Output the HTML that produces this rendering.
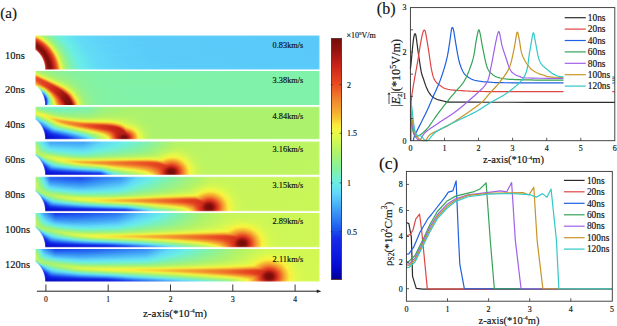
<!DOCTYPE html>
<html><head><meta charset="utf-8"><style>
html,body{margin:0;padding:0;background:#fff;width:617px;height:326px;overflow:hidden;}
#hm div{position:absolute;left:35px;width:285px;height:1px;}
.cb{position:absolute;box-sizing:border-box;border:0.6px solid #5a3a3a;}
svg{position:absolute;left:0;top:0;}
text{font-family:"Liberation Serif",serif;fill:#111;stroke:#111;stroke-width:0.16px;}
</style></head><body>
<div id="hm">
<div style="top:35px;background:linear-gradient(90deg,#fbfcd5 0.5px,#f5faab 1.5px,#d6f9bd 8.5px,#c1f8de 17.5px,#b8f7f4 26.5px,#b3eafc 59.5px,#b3e6fc 283.5px,#daf3fe 284.5px)"></div>
<div style="top:36px;background:linear-gradient(90deg,#faeea6 0.5px,#f3e64b 1.5px,#ecf04a 2.5px,#d8f757 4.5px,#a2f383 10.5px,#81f2b7 17.5px,#6feee8 26.5px,#67daf8 45.5px,#60cef9 94.5px,#5ecbf9 282.5px,#64cdf9 283.5px,#b3e7fc 284.5px)"></div>
<div style="top:37px;background:linear-gradient(90deg,#f9d49e 0.5px,#f4b63b 1.5px,#f4cd38 2.5px,#f1e33d 3.5px,#eaf044 4.5px,#d3f753 6.5px,#a2f27a 11.5px,#80f2ac 17.5px,#6beee3 26.5px,#63dff4 38.5px,#5ed3fa 58.5px,#5accf9 101.5px,#58c9f9 282.5px,#5ecbf9 283.5px,#b1e6fc 284.5px)"></div>
<div style="top:38px;background:linear-gradient(90deg,#f7bb9a 0.5px,#f08133 1.5px,#f2952f 2.5px,#f4d038 4.5px,#f0e63f 5.5px,#e7f346 6.5px,#cef756 8.5px,#9cf281 13.5px,#7df1b3 19.5px,#69eee7 28.5px,#61daf7 45.5px,#5accf9 94.5px,#58c9f9 282.5px,#5ecbf9 283.5px,#b1e6fc 284.5px)"></div>
<div style="top:39px;background:linear-gradient(90deg,#f2a997 0.5px,#e8582c 1.5px,#eb6427 2.5px,#f29a2f 4.5px,#f3d93a 6.5px,#eded42 7.5px,#e1f54a 8.5px,#a7f274 13.5px,#8bf299 17.5px,#78f0c0 22.5px,#69ede7 29.5px,#61daf7 46.5px,#5accf9 95.5px,#58c9f9 282.5px,#5ecbf9 283.5px,#b1e6fc 284.5px)"></div>
<div style="top:40px;background:linear-gradient(90deg,#eb9f95 0.5px,#db4026 1.5px,#e14421 2.5px,#e75324 3.5px,#ec6a28 4.5px,#f3a831 6.5px,#f5ca37 7.5px,#f1e63e 8.5px,#e6f347 9.5px,#cbf658 11.5px,#a0f27d 15.5px,#7df1b2 21.5px,#6aeee4 29.5px,#63ddf5 43.5px,#5ed2fa 64.5px,#5accf9 107.5px,#58c9f9 282.5px,#5ecbf9 283.5px,#b1e6fc 284.5px)"></div>
<div style="top:41px;background:linear-gradient(90deg,#e29892 0.5px,#ca3022 1.5px,#d2301c 2.5px,#e34822 4.5px,#ea5c26 5.5px,#ee772a 6.5px,#f4bd35 8.5px,#f3de3c 9.5px,#eaf144 10.5px,#dcf74d 11.5px,#aaf371 15.5px,#8cf298 19.5px,#78f0c0 24.5px,#6aeee5 30.5px,#62ddf5 44.5px,#5ed2fa 65.5px,#5accf9 108.5px,#58c9f9 282.5px,#5ecbf9 283.5px,#b1e6fc 284.5px)"></div>
<div style="top:42px;background:linear-gradient(90deg,#d79390 0.5px,#b4251d 1.5px,#be2217 2.5px,#df4020 5.5px,#e75224 6.5px,#ed6b28 7.5px,#f4d73a 10.5px,#ecee42 11.5px,#def64c 12.5px,#abf370 16.5px,#8cf298 20.5px,#78f0c1 25.5px,#6aeee5 31.5px,#62dcf5 45.5px,#5ed2fa 66.5px,#5accf9 109.5px,#58c9f9 282.5px,#5ecbf9 283.5px,#b1e6fc 284.5px)"></div>
<div style="top:43px;background:linear-gradient(90deg,#cc908e 0.5px,#9e1e18 1.5px,#a71912 2.5px,#d12f1c 5.5px,#e54b22 7.5px,#eb6327 8.5px,#f0842c 9.5px,#f4d238 11.5px,#eeec41 12.5px,#e0f64b 13.5px,#abf370 17.5px,#91f290 20.5px,#7af1bb 25.5px,#6aeee6 32.5px,#62dbf6 47.5px,#5dd0f9 73.5px,#5acbf9 128.5px,#58c9f9 282.5px,#5ecbf9 283.5px,#b1e6fc 284.5px)"></div>
<div style="top:44px;background:linear-gradient(90deg,#c68e8c 0.5px,#8e1915 1.5px,#92130e 2.5px,#bf2317 5.5px,#d9371e 7.5px,#e34722 8.5px,#ea5e26 9.5px,#ef7e2b 10.5px,#f5cf38 12.5px,#eeec41 13.5px,#e0f64b 14.5px,#aaf371 18.5px,#90f291 21.5px,#79f1bc 26.5px,#69eee7 33.5px,#62daf7 49.5px,#5accf9 99.5px,#58c9f9 282.5px,#5fcbf9 283.5px,#b1e6fc 284.5px)"></div>
<div style="top:45px;background:linear-gradient(90deg,#c38e8c 0.5px,#851713 1.5px,#85100b 2.5px,#9a1510 4.5px,#ca2a1a 7.5px,#e24421 9.5px,#ea5b26 10.5px,#ef7c2b 11.5px,#f5cf38 13.5px,#eeec41 14.5px,#dff64b 15.5px,#a9f272 19.5px,#89f29b 23.5px,#76f0c4 28.5px,#69ede7 34.5px,#62daf7 50.5px,#5accf9 100.5px,#58c9f9 282.5px,#5fcbf9 283.5px,#b1e6fc 284.5px)"></div>
<div style="top:46px;background:linear-gradient(90deg,#c48e8c 0.5px,#841713 1.5px,#800e0a 2.5px,#8a110c 4.5px,#a61912 6.5px,#d6341d 9.5px,#e14321 10.5px,#ea5b25 11.5px,#ef7d2b 12.5px,#f5d238 14.5px,#edee42 15.5px,#def74c 16.5px,#a7f274 20.5px,#88f29d 24.5px,#76f0c6 29.5px,#6aeee5 34.5px,#62dcf5 48.5px,#5ed2fa 69.5px,#5accf9 113.5px,#59c9f9 282.5px,#5fcbf9 283.5px,#b1e6fc 284.5px)"></div>
<div style="top:47px;background:linear-gradient(90deg,#ca908d 0.5px,#8c1915 1.5px,#810f0a 2.5px,#820f0a 4.5px,#94140e 6.5px,#c8281a 9.5px,#e24421 11.5px,#ea5c26 12.5px,#f0802c 13.5px,#f4d739 15.5px,#ebf043 16.5px,#dbf74e 17.5px,#a4f277 21.5px,#86f29f 25.5px,#77f0c1 29.5px,#6aeee6 35.5px,#62dbf6 50.5px,#5cd0f9 77.5px,#5acbf9 140.5px,#59c9f9 282.5px,#5fcbf9 283.5px,#b1e6fc 284.5px)"></div>
<div style="top:48px;background:linear-gradient(90deg,#d79490 0.5px,#a12019 1.5px,#8d120d 2.5px,#820f0a 3.5px,#810e0a 5.5px,#93130e 7.5px,#c9281a 10.5px,#e34621 12.5px,#eb6026 13.5px,#f0862c 14.5px,#f4dd3b 16.5px,#e8f345 17.5px,#c7f65a 19.5px,#98f287 23.5px,#7cf1b5 28.5px,#6beee3 35.5px,#63dff3 46.5px,#5ed3fa 66.5px,#5accf9 111.5px,#59c9f9 282.5px,#5fcbf9 283.5px,#b1e6fc 284.5px)"></div>
<div style="top:49px;background:linear-gradient(90deg,#e7a6a0 0.5px,#bf352b 1.5px,#a41b14 2.5px,#90130d 3.5px,#830f0b 4.5px,#7f0e0a 5.5px,#88100c 7.5px,#a51912 9.5px,#cb2a1a 11.5px,#e44a22 13.5px,#ec6728 14.5px,#f18f2e 15.5px,#f5be34 16.5px,#f2e53d 17.5px,#e4f548 18.5px,#b6f467 21.5px,#96f28a 24.5px,#7bf1b8 29.5px,#6aeee5 36.5px,#62dcf5 50.5px,#5ed2fa 71.5px,#5accf9 115.5px,#59c9f9 282.5px,#5fcbf9 283.5px,#b1e6fc 284.5px)"></div>
<div style="top:50px;background:linear-gradient(90deg,#fcf3f2 0.5px,#e69c95 1.5px,#c3392f 2.5px,#a71c14 3.5px,#91130e 4.5px,#830f0b 5.5px,#7f0e0a 6.5px,#88100c 8.5px,#a81a13 10.5px,#ce2c1b 12.5px,#e74f23 14.5px,#ee7029 15.5px,#f5ca37 17.5px,#efec40 18.5px,#dff74b 19.5px,#b1f36a 22.5px,#93f28d 25.5px,#7df1b3 29.5px,#6aeee6 37.5px,#62dbf6 52.5px,#5cd0f9 80.5px,#5acbf9 154.5px,#59c9f9 282.5px,#5fcbf9 283.5px,#b1e6fc 284.5px)"></div>
<div style="top:51px;background:linear-gradient(90deg,#ffffff 0.5px,#ffffff 1.5px,#e8a099 2.5px,#c53a30 3.5px,#a71c15 4.5px,#90130d 5.5px,#830f0b 6.5px,#7f0e0a 7.5px,#8a110c 9.5px,#ac1b13 11.5px,#d2301c 13.5px,#df3f20 14.5px,#e95725 15.5px,#ef7c2b 16.5px,#f5d83a 18.5px,#eaf244 19.5px,#d9f74f 20.5px,#adf36e 23.5px,#91f291 26.5px,#7cf1b6 30.5px,#6aeee4 37.5px,#63ddf4 50.5px,#5ed3fa 70.5px,#5accf9 115.5px,#59c9f9 282.5px,#5fcbf9 283.5px,#b1e6fc 284.5px)"></div>
<div style="top:52px;background:linear-gradient(90deg,#ffffff 0.5px,#ffffff 2.5px,#e8a099 3.5px,#c3392f 4.5px,#a51b14 5.5px,#8d120d 6.5px,#820f0a 7.5px,#7f0e0a 8.5px,#8d120d 10.5px,#c62719 13.5px,#e34621 15.5px,#eb6227 16.5px,#f18b2d 17.5px,#f5bb34 18.5px,#f2e53d 19.5px,#e4f648 20.5px,#b5f367 23.5px,#95f28b 26.5px,#7af1b9 31.5px,#6aeee6 38.5px,#62dbf6 53.5px,#5dd0f9 79.5px,#5acbf9 132.5px,#59c9f9 282.5px,#5fcbf9 283.5px,#b1e6fc 284.5px)"></div>
<div style="top:53px;background:linear-gradient(90deg,#ffffff 0.5px,#ffffff 3.5px,#e69b94 4.5px,#be3127 5.5px,#9f1812 6.5px,#8a110c 7.5px,#800e0a 8.5px,#7f0e0a 9.5px,#85100b 10.5px,#91130e 11.5px,#ba2016 13.5px,#db3a1f 15.5px,#e74f23 16.5px,#ee7129 17.5px,#f5ce37 19.5px,#eeef41 20.5px,#dcf74d 21.5px,#aff36c 24.5px,#92f28f 27.5px,#7cf1b5 31.5px,#6beee4 38.5px,#63def4 50.5px,#5ed3fa 70.5px,#5accf9 116.5px,#59c9f9 282.5px,#5fcbf9 283.5px,#b1e6fc 284.5px)"></div>
<div style="top:54px;background:linear-gradient(90deg,#ffffff 0.5px,#ffffff 3.5px,#fcf3f2 4.5px,#da7167 5.5px,#b6271e 6.5px,#98150f 7.5px,#86100b 8.5px,#7f0e0a 9.5px,#810e0a 10.5px,#89110c 11.5px,#ac1b13 13.5px,#d3311c 15.5px,#e04120 16.5px,#ea5b26 17.5px,#f0832c 18.5px,#f4e03c 20.5px,#e6f547 21.5px,#b6f466 24.5px,#95f28a 27.5px,#7bf1b9 32.5px,#6aeee6 39.5px,#62dcf5 53.5px,#5ed2fa 75.5px,#5accf9 121.5px,#59caf9 282.5px,#5fcbf9 283.5px,#b1e6fc 284.5px)"></div>
<div style="top:55px;background:linear-gradient(90deg,#ffffff 0.5px,#ffffff 4.5px,#f8e3e1 5.5px,#ce4d42 6.5px,#ac1e16 7.5px,#90130e 8.5px,#820f0a 9.5px,#7f0e0a 10.5px,#830f0b 11.5px,#8e120d 12.5px,#ca291a 15.5px,#e54b23 17.5px,#ed6c29 18.5px,#f5cb37 20.5px,#efee41 21.5px,#ddf74c 22.5px,#b0f36b 25.5px,#92f28f 28.5px,#7cf1b5 32.5px,#69eee7 40.5px,#62daf7 56.5px,#5accf9 109.5px,#59caf9 282.5px,#5fcbf9 283.5px,#b1e6fc 284.5px)"></div>
<div style="top:56px;background:linear-gradient(90deg,#ffffff 0.5px,#ffffff 5.5px,#ecafa9 6.5px,#c13328 7.5px,#9f1811 8.5px,#89110c 9.5px,#7f0e0a 10.5px,#800e0a 11.5px,#87100c 12.5px,#95140f 13.5px,#c02318 15.5px,#e04020 17.5px,#ea5a25 18.5px,#f0812c 19.5px,#f4e03b 21.5px,#e7f546 22.5px,#b6f466 25.5px,#95f28a 28.5px,#7bf1b9 33.5px,#6aeee5 40.5px,#62dcf6 55.5px,#5dd1fa 80.5px,#5acbf9 129.5px,#59caf9 282.5px,#5fcbf9 283.5px,#b1e6fc 284.5px)"></div>
<div style="top:57px;background:linear-gradient(90deg,#ffffff 0.5px,#ffffff 5.5px,#fcf3f2 6.5px,#d86b61 7.5px,#b1231a 8.5px,#93140e 9.5px,#830f0b 10.5px,#7f0e0a 11.5px,#830f0a 12.5px,#8d120d 13.5px,#b51e15 15.5px,#da381e 17.5px,#e64c23 18.5px,#ed6d29 19.5px,#f5cd37 21.5px,#eeef41 22.5px,#dcf74d 23.5px,#aff36c 26.5px,#92f290 29.5px,#7cf1b5 33.5px,#69eee7 41.5px,#62dbf7 57.5px,#5accf9 103.5px,#59caf9 282.5px,#5fccf9 283.5px,#b1e6fc 284.5px)"></div>
<div style="top:58px;background:linear-gradient(90deg,#ffffff 0.5px,#ffffff 6.5px,#f1c4bf 7.5px,#c4392f 8.5px,#a11812 9.5px,#89110c 10.5px,#7f0e0a 11.5px,#800e0a 12.5px,#88100c 13.5px,#96140f 14.5px,#c22418 16.5px,#e14221 18.5px,#eb5d26 19.5px,#f0862c 20.5px,#f3e43d 22.5px,#e4f648 23.5px,#b4f368 26.5px,#94f28c 29.5px,#7af1ba 34.5px,#6aeee6 41.5px,#62dcf6 56.5px,#5dd1fa 80.5px,#5acbf9 128.5px,#59caf9 282.5px,#5fccf9 283.5px,#b1e6fc 284.5px)"></div>
<div style="top:59px;background:linear-gradient(90deg,#ffffff 0.5px,#ffffff 7.5px,#d55c51 8.5px,#b02018 9.5px,#92130e 10.5px,#820f0a 11.5px,#7f0e0a 12.5px,#840f0b 13.5px,#8f120d 14.5px,#b92016 16.5px,#dc3a1f 18.5px,#e75024 19.5px,#ee742a 20.5px,#f5d539 22.5px,#ecf243 23.5px,#d9f74f 24.5px,#adf36e 27.5px,#90f291 30.5px,#7bf1b6 34.5px,#6beee4 41.5px,#63def4 54.5px,#5ed3fa 75.5px,#5accf9 122.5px,#59caf9 282.5px,#5fccf9 283.5px,#b1e6fc 284.5px)"></div>
<div style="top:60px;background:linear-gradient(90deg,#ffffff 0.5px,#ffffff 7.5px,#ecaea8 8.5px,#be2f25 9.5px,#9c1610 10.5px,#86100b 11.5px,#7f0e0a 12.5px,#810e0a 13.5px,#8a110c 14.5px,#b01c14 16.5px,#d7341d 18.5px,#e44722 19.5px,#ec6527 20.5px,#f1912e 21.5px,#f5c435 22.5px,#f1eb3f 23.5px,#e0f74b 24.5px,#b1f36a 27.5px,#93f28e 30.5px,#7df1b3 34.5px,#6aeee6 42.5px,#62dbf6 58.5px,#5ccff9 89.5px,#59caf9 233.5px,#59caf9 282.5px,#5fccf9 283.5px,#b1e6fc 284.5px)"></div>
<div style="top:61px;background:linear-gradient(90deg,#ffffff 0.5px,#ffffff 7.5px,#f9e4e2 8.5px,#cc463b 9.5px,#a71b14 10.5px,#8c110d 11.5px,#800e0a 12.5px,#7f0e0a 13.5px,#86100b 14.5px,#94140e 15.5px,#bf2217 17.5px,#e04020 19.5px,#ea5925 20.5px,#f0812c 21.5px,#f4e13b 23.5px,#e7f546 24.5px,#b6f466 27.5px,#96f28a 30.5px,#7bf1b8 35.5px,#6aeee4 42.5px,#63ddf5 56.5px,#5ed2fa 78.5px,#5accf9 126.5px,#59caf9 282.5px,#5fccf9 283.5px,#b1e6fc 284.5px)"></div>
<div style="top:62px;background:linear-gradient(90deg,#ffffff 0.5px,#ffffff 8.5px,#db7167 9.5px,#b22219 10.5px,#93130e 11.5px,#820f0a 12.5px,#7f0e0a 13.5px,#830f0b 14.5px,#8f120d 15.5px,#b91f16 17.5px,#dc3a1f 19.5px,#e75023 20.5px,#ee742a 21.5px,#f6d538 23.5px,#ecf243 24.5px,#daf84e 25.5px,#adf36d 28.5px,#91f290 31.5px,#7cf1b5 35.5px,#69eee7 43.5px,#62daf7 60.5px,#5accf9 115.5px,#59caf9 282.5px,#5fccf9 283.5px,#b1e6fc 284.5px)"></div>
<div style="top:63px;background:linear-gradient(90deg,#ffffff 0.5px,#ffffff 8.5px,#e8a098 9.5px,#bc2c21 10.5px,#9a1610 11.5px,#85100b 12.5px,#7e0e0a 13.5px,#810f0a 14.5px,#8b110c 15.5px,#b21d15 17.5px,#d8361e 19.5px,#e54822 20.5px,#ed6828 21.5px,#f2942e 22.5px,#f6c736 23.5px,#f1ed40 24.5px,#dff74b 25.5px,#b1f36a 28.5px,#93f28d 31.5px,#7af1ba 36.5px,#6aeee5 43.5px,#62dcf5 58.5px,#5dd2fa 82.5px,#5accf9 131.5px,#59caf9 282.5px,#5fccf9 283.5px,#b1e6fc 284.5px)"></div>
<div style="top:64px;background:linear-gradient(90deg,#ffffff 0.5px,#ffffff 8.5px,#f4d1ce 9.5px,#c5372c 10.5px,#a01811 11.5px,#88100c 12.5px,#7f0e0a 13.5px,#800e0a 14.5px,#88100c 15.5px,#97150f 16.5px,#c32418 18.5px,#e24321 20.5px,#eb5e26 21.5px,#f1882d 22.5px,#f4e63d 24.5px,#e5f648 25.5px,#b5f467 28.5px,#95f28a 31.5px,#7bf1b8 36.5px,#69eee7 44.5px,#62dbf6 60.5px,#5ccff9 92.5px,#59caf9 246.5px,#59caf9 282.5px,#5fccf9 283.5px,#b1e6fc 284.5px)"></div>
<div style="top:65px;background:linear-gradient(90deg,#ffffff 0.5px,#ffffff 8.5px,#f6d8d4 9.5px,#cc4236 10.5px,#a71a13 11.5px,#8c110c 12.5px,#800e0a 13.5px,#7f0e0a 14.5px,#86100b 15.5px,#94130e 16.5px,#bf2217 18.5px,#df3f20 20.5px,#ea5725 21.5px,#ef7e2b 22.5px,#f5de3a 24.5px,#e9f545 25.5px,#c7f65b 27.5px,#a1f27b 30.5px,#7ff2ac 35.5px,#6beee2 43.5px,#66e7ed 49.5px,#5fd5fa 72.5px,#5accf9 125.5px,#59caf9 282.5px,#5fccf9 283.5px,#b1e6fc 284.5px)"></div>
<div style="top:66px;background:linear-gradient(90deg,#ffffff 0.5px,#ffffff 9.5px,#d25246 10.5px,#ac1d15 11.5px,#8f120d 12.5px,#810e0a 13.5px,#7f0e0a 14.5px,#840f0b 15.5px,#91130e 16.5px,#bb2017 18.5px,#dd3b1f 20.5px,#e85124 21.5px,#ef752a 22.5px,#f6d538 24.5px,#edf242 25.5px,#dbf84e 26.5px,#aff36c 29.5px,#92f28f 32.5px,#7af1ba 37.5px,#6aeee5 44.5px,#62ddf5 59.5px,#5ed2fa 82.5px,#5accf9 132.5px,#59caf9 282.5px,#5fccf9 283.5px,#b1e6fc 284.5px)"></div>
<div style="top:67px;background:linear-gradient(90deg,#ffffff 0.5px,#ffffff 9.5px,#d5594d 10.5px,#b01f17 11.5px,#91130e 12.5px,#820f0a 13.5px,#7e0e0a 14.5px,#830f0b 15.5px,#8f120d 16.5px,#b81f16 18.5px,#db391e 20.5px,#e64c23 21.5px,#ee6e29 22.5px,#f6cc37 24.5px,#f0ef40 25.5px,#def84c 26.5px,#b2f36a 29.5px,#94f28c 32.5px,#7bf1b8 37.5px,#69eee7 45.5px,#62dbf6 62.5px,#5bcdf9 104.5px,#59caf9 282.5px,#5fccf9 283.5px,#b1e6fc 284.5px)"></div>
<div style="top:68px;background:linear-gradient(90deg,#ffffff 0.5px,#ffffff 9.5px,#d86054 10.5px,#b5281f 11.5px,#971c17 12.5px,#871813 13.5px,#831612 14.5px,#871813 15.5px,#911a16 16.5px,#cc3022 19.5px,#e64f2a 21.5px,#ee6d30 22.5px,#f29736 23.5px,#f6c73d 24.5px,#f3ec46 25.5px,#e3f850 26.5px,#b7f46d 29.5px,#99f28f 32.5px,#80f1b9 37.5px,#6fefe7 45.5px,#68dcf7 62.5px,#61d0f9 101.5px,#5fccf9 282.5px,#65cef9 283.5px,#b4e7fc 284.5px)"></div>
<div style="top:69px;background:linear-gradient(90deg,#ffffff 0.5px,#ffffff 9.5px,#ecb2ab 10.5px,#db9692 11.5px,#cc908e 12.5px,#c28d8b 14.5px,#c98f8d 16.5px,#eda095 20.5px,#f6b69a 22.5px,#f9f5a4 25.5px,#f2fba9 26.5px,#d2f9c2 31.5px,#c0f8e0 38.5px,#b8f7f4 46.5px,#b3eafd 81.5px,#b4e7fc 283.5px,#daf3fe 284.5px)"></div>
<div style="top:71px;background:linear-gradient(90deg,#dbf9b8 0.5px,#b3f36f 1.5px,#aef36c 2.5px,#98f286 11.5px,#89f29b 29.5px,#81f2a8 70.5px,#81f2a9 282.5px,#85f2ac 283.5px,#c3f9d7 284.5px)"></div>
<div style="top:72px;background:linear-gradient(90deg,#e1fab4 0.5px,#c0f567 1.5px,#b9f464 2.5px,#a2f279 8.5px,#90f291 20.5px,#83f2a4 48.5px,#80f2a9 127.5px,#81f2a9 282.5px,#85f2ac 283.5px,#c3f9d7 284.5px)"></div>
<div style="top:73px;background:linear-gradient(90deg,#ebfbae 0.5px,#d3f75a 1.5px,#caf659 2.5px,#adf36d 7.5px,#97f289 17.5px,#86f29f 38.5px,#81f2a9 81.5px,#81f2a9 282.5px,#85f2ac 283.5px,#c3f9d7 284.5px)"></div>
<div style="top:74px;background:linear-gradient(90deg,#f6f4a6 0.5px,#e9ee4b 1.5px,#e0f34a 2.5px,#bef561 6.5px,#a5f275 12.5px,#92f28f 23.5px,#84f2a3 47.5px,#80f2a9 103.5px,#81f2a9 282.5px,#85f2ac 283.5px,#c3f9d7 284.5px)"></div>
<div style="top:75px;background:linear-gradient(90deg,#f9dc9f 0.5px,#f4c43d 1.5px,#f2d83b 2.5px,#ece941 3.5px,#daf64e 5.5px,#bbf463 9.5px,#a3f277 15.5px,#91f291 27.5px,#83f2a4 51.5px,#80f2a9 120.5px,#81f2a9 282.5px,#85f2ac 283.5px,#c3f9d7 284.5px)"></div>
<div style="top:76px;background:linear-gradient(90deg,#f7bc9a 0.5px,#f08433 1.5px,#f29c2f 2.5px,#f3d33a 4.5px,#eee53f 5.5px,#e7f046 6.5px,#ccf658 9.5px,#aff36c 14.5px,#99f286 23.5px,#87f29e 41.5px,#81f2a9 77.5px,#81f2a9 282.5px,#85f2ac 283.5px,#c3f9d7 284.5px)"></div>
<div style="top:77px;background:linear-gradient(90deg,#f6ad98 0.5px,#ed5b2d 1.5px,#ed6227 2.5px,#ef792a 3.5px,#f3ce38 6.5px,#f0e23e 7.5px,#eaee44 8.5px,#d7f750 10.5px,#b5f367 15.5px,#9df280 23.5px,#8af29a 39.5px,#81f2a8 68.5px,#81f2a9 282.5px,#85f2ac 283.5px,#c3f9d7 284.5px)"></div>
<div style="top:78px;background:linear-gradient(90deg,#f6ab98 0.5px,#eb522b 1.5px,#ea4c23 2.5px,#ea5124 3.5px,#eb5e26 4.5px,#ed7429 5.5px,#f4c837 8.5px,#f2dd3c 9.5px,#ecec42 10.5px,#daf64e 12.5px,#b7f466 17.5px,#9df27f 25.5px,#8af29a 40.5px,#81f2a8 67.5px,#81f2a9 282.5px,#85f2ac 283.5px,#c3f9d7 284.5px)"></div>
<div style="top:79px;background:linear-gradient(90deg,#f6ab98 0.5px,#eb512b 1.5px,#e94923 2.5px,#e74822 4.5px,#e74d23 5.5px,#e95925 6.5px,#ec6f28 7.5px,#f4c336 10.5px,#f3d93b 11.5px,#eee940 12.5px,#ddf64c 14.5px,#b9f464 19.5px,#a0f27b 26.5px,#8cf297 39.5px,#82f2a6 61.5px,#81f2a9 282.5px,#85f2ac 283.5px,#c3f9d7 284.5px)"></div>
<div style="top:80px;background:linear-gradient(90deg,#f6b098 0.5px,#ec572c 1.5px,#e94a23 2.5px,#e44521 6.5px,#e54922 7.5px,#e75524 8.5px,#eb6b28 9.5px,#f4bf35 12.5px,#f4d63a 13.5px,#f0e73f 14.5px,#e0f64b 16.5px,#bbf463 21.5px,#a1f27b 28.5px,#8df296 40.5px,#82f2a5 60.5px,#80f2a9 240.5px,#81f2a9 282.5px,#85f2ac 283.5px,#c3f9d7 284.5px)"></div>
<div style="top:81px;background:linear-gradient(90deg,#f7ba9a 0.5px,#ee692f 1.5px,#eb5525 2.5px,#e64622 4.5px,#e24120 8.5px,#e24621 9.5px,#e55223 10.5px,#ea6727 11.5px,#f4bb34 14.5px,#f1e43e 16.5px,#e2f549 18.5px,#bcf462 23.5px,#a1f27a 30.5px,#8df296 41.5px,#82f2a5 59.5px,#80f2a9 158.5px,#81f2a9 282.5px,#85f2ac 283.5px,#c3f9d7 284.5px)"></div>
<div style="top:82px;background:linear-gradient(90deg,#f8c69c 0.5px,#f08133 1.5px,#ee6c29 2.5px,#e84e23 4.5px,#e34221 6.5px,#df3e20 10.5px,#e04221 11.5px,#e34f23 12.5px,#ee7f2b 14.5px,#f5cf38 17.5px,#f2e13c 18.5px,#e5f548 20.5px,#bef561 25.5px,#a1f27b 32.5px,#8cf297 43.5px,#82f2a5 61.5px,#80f2a9 213.5px,#81f2a9 282.5px,#85f2ac 283.5px,#c3f9d7 284.5px)"></div>
<div style="top:83px;background:linear-gradient(90deg,#f9d29e 0.5px,#f29a36 1.5px,#f0862d 2.5px,#e95224 5.5px,#e24120 7.5px,#dc3b1f 12.5px,#dd3f20 13.5px,#e14b22 14.5px,#ed7c2a 16.5px,#f5cb37 19.5px,#f3df3b 20.5px,#eeed41 21.5px,#ddf74c 23.5px,#b9f464 28.5px,#9df280 35.5px,#8bf298 45.5px,#82f2a6 64.5px,#81f2a9 282.5px,#85f2ac 283.5px,#c3f9d7 284.5px)"></div>
<div style="top:84px;background:linear-gradient(90deg,#fae1a3 0.5px,#f5b73d 1.5px,#f3a331 2.5px,#eb5a25 6.5px,#e24221 8.5px,#d9361e 13.5px,#da3b1f 15.5px,#df4821 16.5px,#ed792a 18.5px,#f5c936 21.5px,#efeb40 23.5px,#dff74b 25.5px,#b8f465 30.5px,#9cf281 37.5px,#8af29a 47.5px,#81f2a7 67.5px,#81f2a9 282.5px,#85f2ac 283.5px,#c3f9d7 284.5px)"></div>
<div style="top:85px;background:linear-gradient(90deg,#fdf7da 0.5px,#f3e062 1.5px,#f1cf40 2.5px,#f2a731 4.5px,#e85324 8.5px,#de3d1f 10.5px,#d4311d 16.5px,#d7371e 17.5px,#dd4521 18.5px,#ec782a 20.5px,#f5c736 23.5px,#f0eb40 25.5px,#def74b 27.5px,#b7f466 32.5px,#9df280 38.5px,#8af29a 48.5px,#81f2a7 67.5px,#81f2a9 282.5px,#85f2ac 283.5px,#c3f9d7 284.5px)"></div>
<div style="top:86px;background:linear-gradient(90deg,#ffffff 0.5px,#f9fcdb 1.5px,#e9f382 2.5px,#e4e851 3.5px,#ebd940 4.5px,#f3ab32 6.5px,#eb6026 9.5px,#e54c23 10.5px,#de3e20 11.5px,#d5311d 14.5px,#d02d1b 18.5px,#d4341d 19.5px,#dc4320 20.5px,#f1942e 23.5px,#f4dd3b 26.5px,#f0ec40 27.5px,#ddf74c 29.5px,#b4f367 34.5px,#9bf283 40.5px,#8af29a 49.5px,#81f2a7 68.5px,#81f2a9 282.5px,#85f2ac 283.5px,#c3f9d7 284.5px)"></div>
<div style="top:87px;background:linear-gradient(90deg,#ffffff 0.5px,#ffffff 1.5px,#fbfef4 2.5px,#d4f797 3.5px,#c9f265 4.5px,#daeb4f 5.5px,#e9dc41 6.5px,#f1c538 7.5px,#ed6e29 10.5px,#e75324 11.5px,#df4020 12.5px,#d4311d 14.5px,#cc271a 19.5px,#cd291a 20.5px,#d2321c 21.5px,#db4320 22.5px,#f2972f 25.5px,#f6cc37 27.5px,#f4e13c 28.5px,#eeef41 29.5px,#d9f74f 31.5px,#b1f36a 36.5px,#96f28a 43.5px,#87f29e 53.5px,#81f2a9 82.5px,#81f2a9 282.5px,#85f2ac 283.5px,#c3f9d7 284.5px)"></div>
<div style="top:88px;background:linear-gradient(90deg,#ffffff 0.5px,#ffffff 2.5px,#f2fdf0 3.5px,#adf5a6 4.5px,#acf37f 5.5px,#c3f262 6.5px,#dbeb4e 7.5px,#ebda3f 8.5px,#f2be36 9.5px,#e95a25 12.5px,#e14421 13.5px,#d8361e 14.5px,#cd291b 17.5px,#c72419 21.5px,#c82719 22.5px,#cf321c 23.5px,#db4621 24.5px,#ee802b 26.5px,#f6d338 29.5px,#f2e73e 30.5px,#eaf344 31.5px,#d4f752 33.5px,#acf26d 38.5px,#93f28e 45.5px,#86f2a0 55.5px,#81f2a9 86.5px,#81f2a9 282.5px,#85f2ac 283.5px,#c3f9d7 284.5px)"></div>
<div style="top:89px;background:linear-gradient(90deg,#ffffff 0.5px,#ffffff 3.5px,#e4fcf0 4.5px,#96f0c2 5.5px,#95f09a 6.5px,#aef376 7.5px,#cbf15b 8.5px,#e2e748 9.5px,#efce3b 10.5px,#f0832c 12.5px,#eb6227 13.5px,#e34922 14.5px,#d9381e 15.5px,#cd291a 17.5px,#c02218 23.5px,#c42719 24.5px,#d0361c 25.5px,#df4e22 26.5px,#f08b2d 28.5px,#f5de3a 31.5px,#efef41 32.5px,#e4f648 33.5px,#bbf462 37.5px,#9ff27e 42.5px,#8df296 49.5px,#82f2a4 63.5px,#80f2a9 139.5px,#81f2a9 282.5px,#85f2ac 283.5px,#c3f9d7 284.5px)"></div>
<div style="top:90px;background:linear-gradient(90deg,#ffffff 0.5px,#ffffff 4.5px,#c8f3f4 5.5px,#7ce4d7 6.5px,#83ebb2 7.5px,#9ef18a 8.5px,#bcf368 9.5px,#d9ed50 10.5px,#edd63e 11.5px,#f2b133 12.5px,#ec6a28 14.5px,#e54e23 15.5px,#db3a1f 16.5px,#cb271a 18.5px,#b91f16 24.5px,#ba2116 25.5px,#c32a19 26.5px,#d43d1e 27.5px,#e45a25 28.5px,#f29b2f 30.5px,#f6d538 32.5px,#f2ea3e 33.5px,#e8f545 34.5px,#bcf462 38.5px,#a2f279 42.5px,#90f292 48.5px,#84f2a2 59.5px,#80f2a9 98.5px,#81f2a9 282.5px,#85f2ac 283.5px,#c3f9d7 284.5px)"></div>
<div style="top:91px;background:linear-gradient(90deg,#ffffff 0.5px,#ffffff 5.5px,#91d8f5 6.5px,#67d3e4 7.5px,#76e5c5 8.5px,#91f09c 9.5px,#b0f374 10.5px,#d3ef54 11.5px,#ebdb40 12.5px,#f3b834 13.5px,#ed6f29 15.5px,#e65224 16.5px,#dc3c1f 17.5px,#d12e1c 18.5px,#c32218 20.5px,#b01d14 26.5px,#b72216 27.5px,#c9311b 28.5px,#de4c22 29.5px,#eb6d28 30.5px,#f6cd36 33.5px,#f4e53d 34.5px,#ebf344 35.5px,#d1f754 37.5px,#acf26d 41.5px,#94f28d 47.5px,#86f29f 56.5px,#81f2a9 84.5px,#81f2a9 282.5px,#85f2ac 283.5px,#c3f9d7 284.5px)"></div>
<div style="top:92px;background:linear-gradient(90deg,#ffffff 0.5px,#ffffff 5.5px,#e5f2fd 6.5px,#60b1f4 7.5px,#58c3eb 8.5px,#6ee0d3 9.5px,#89eea8 10.5px,#acf378 11.5px,#d1f156 12.5px,#ebe041 13.5px,#f3bc35 14.5px,#ee7229 16.5px,#e75424 17.5px,#dd3e1f 18.5px,#c72519 20.5px,#ae1b14 25.5px,#a81a13 27.5px,#ad1d14 28.5px,#bf2918 29.5px,#d7411f 30.5px,#e86226 31.5px,#f3a731 33.5px,#f5e23b 35.5px,#ecf243 36.5px,#d1f754 38.5px,#abf26f 42.5px,#93f28e 48.5px,#85f2a0 58.5px,#81f2a9 89.5px,#81f2a9 282.5px,#85f2ac 283.5px,#c3f9d7 284.5px)"></div>
<div style="top:93px;background:linear-gradient(90deg,#ffffff 0.5px,#ffffff 6.5px,#8db5f8 7.5px,#4497f3 8.5px,#53beef 9.5px,#6cdfd7 10.5px,#8aefa6 11.5px,#aff374 12.5px,#d4f253 13.5px,#ede040 14.5px,#f4bb34 15.5px,#ee7129 17.5px,#e85424 18.5px,#de3e20 19.5px,#c52519 21.5px,#b31d15 23.5px,#a01711 28.5px,#a41912 29.5px,#b62316 30.5px,#d13a1d 31.5px,#e55b25 32.5px,#f3a330 34.5px,#f5e23b 36.5px,#ebf343 37.5px,#cff755 39.5px,#b0f36a 42.5px,#97f288 47.5px,#88f29c 55.5px,#81f2a8 76.5px,#81f2a9 282.5px,#85f2ac 283.5px,#c3f9d7 284.5px)"></div>
<div style="top:94px;background:linear-gradient(90deg,#ffffff 0.5px,#ffffff 6.5px,#e1e9fd 7.5px,#487ef2 8.5px,#3d93f3 9.5px,#55c2ee 10.5px,#71e3cf 11.5px,#91f099 12.5px,#b7f46c 13.5px,#daf14e 14.5px,#f0da3c 15.5px,#f4b333 16.5px,#ed6d29 18.5px,#e85224 19.5px,#d02f1c 21.5px,#b51e15 23.5px,#a31812 26.5px,#991510 29.5px,#9c1710 30.5px,#af2014 31.5px,#cd361c 32.5px,#e45724 33.5px,#ee7e2b 34.5px,#f6c735 36.5px,#f4e53c 37.5px,#e9f545 38.5px,#c0f55f 41.5px,#a7f273 44.5px,#94f28d 49.5px,#86f2a0 58.5px,#81f2a9 86.5px,#81f2a9 282.5px,#85f2ac 283.5px,#c3f9d7 284.5px)"></div>
<div style="top:95px;background:linear-gradient(90deg,#ffffff 0.5px,#ffffff 7.5px,#7e96f4 8.5px,#2e6af0 9.5px,#3f9af3 10.5px,#5ccde9 11.5px,#7aeabf 12.5px,#9cf289 13.5px,#c2f461 14.5px,#e3ee48 15.5px,#f3d139 16.5px,#f1882d 18.5px,#e75024 20.5px,#cf2d1b 22.5px,#af1c14 24.5px,#a01711 26.5px,#93130e 30.5px,#97150f 31.5px,#ab1e13 32.5px,#cc351c 33.5px,#e45824 34.5px,#ef822c 35.5px,#f6ce37 37.5px,#f2eb3e 38.5px,#e5f648 39.5px,#bcf462 42.5px,#a5f275 45.5px,#90f292 51.5px,#84f2a2 61.5px,#80f2a9 97.5px,#81f2a9 282.5px,#85f2ac 283.5px,#c3f9d7 284.5px)"></div>
<div style="top:96px;background:linear-gradient(90deg,#ffffff 0.5px,#ffffff 7.5px,#bcc4f8 8.5px,#2d51eb 9.5px,#2c70f0 10.5px,#49acf2 11.5px,#67dcdd 12.5px,#86efaa 13.5px,#abf377 14.5px,#d0f456 15.5px,#ece842 16.5px,#f5c736 17.5px,#f0832c 19.5px,#e64d23 21.5px,#cc2b1a 23.5px,#a81a13 25.5px,#98150f 27.5px,#8e120d 31.5px,#93140e 32.5px,#ac1f14 33.5px,#d0391d 34.5px,#e86026 35.5px,#f5b332 37.5px,#f6d839 38.5px,#eff041 39.5px,#dff74b 40.5px,#b9f464 43.5px,#9ff27e 47.5px,#8df296 53.5px,#83f2a4 65.5px,#80f2a9 126.5px,#81f2a9 282.5px,#85f2ac 283.5px,#c3f9d7 284.5px)"></div>
<div style="top:97px;background:linear-gradient(90deg,#ffffff 0.5px,#ffffff 7.5px,#f1f2fd 8.5px,#3e51e9 9.5px,#1f4ceb 10.5px,#3789f2 11.5px,#58c7ed 12.5px,#75e9c7 13.5px,#97f28f 14.5px,#bbf466 15.5px,#ddf34d 16.5px,#f2e03d 17.5px,#f5bc34 18.5px,#ec6027 21.5px,#e44722 22.5px,#c72719 24.5px,#a11711 26.5px,#96140f 27.5px,#8a110c 32.5px,#93140e 33.5px,#b42315 34.5px,#d94320 35.5px,#eb6e28 36.5px,#f6c134 38.5px,#f5e33c 39.5px,#eaf545 40.5px,#ccf658 42.5px,#adf36c 45.5px,#95f28b 50.5px,#87f29e 58.5px,#81f2a8 82.5px,#81f2a9 282.5px,#85f2ac 283.5px,#c3f9d7 284.5px)"></div>
<div style="top:98px;background:linear-gradient(90deg,#ffffff 0.5px,#ffffff 8.5px,#757eec 9.5px,#1b36e6 10.5px,#2968ef 11.5px,#4aaff2 12.5px,#69dfdd 13.5px,#87f0a8 14.5px,#a9f377 15.5px,#ccf558 16.5px,#e8ef45 17.5px,#f5d539 18.5px,#f1912e 20.5px,#ea5625 22.5px,#d2301c 24.5px,#ab1b13 26.5px,#991510 27.5px,#8d110d 29.5px,#88100c 33.5px,#9a1710 34.5px,#c22c19 35.5px,#e25123 36.5px,#ef7f2b 37.5px,#f6cf37 39.5px,#f2ec3f 40.5px,#e4f748 41.5px,#bbf462 44.5px,#a4f277 47.5px,#91f290 52.5px,#85f2a1 61.5px,#81f2a9 92.5px,#81f2a9 282.5px,#85f2ac 283.5px,#c3f9d7 284.5px)"></div>
<div style="top:99px;background:linear-gradient(90deg,#ffffff 0.5px,#ffffff 8.5px,#a5a9f1 9.5px,#1e30e2 10.5px,#2153ec 11.5px,#419df3 12.5px,#61d5e8 13.5px,#7cedbb 14.5px,#9cf286 15.5px,#bdf563 16.5px,#dcf54d 17.5px,#f1e73e 18.5px,#f6c535 19.5px,#ed6528 22.5px,#e64b23 23.5px,#cc2a1a 25.5px,#a21811 27.5px,#91130e 28.5px,#87100c 30.5px,#840f0b 33.5px,#8a110c 34.5px,#a81d13 35.5px,#d1391d 36.5px,#e96327 37.5px,#f5b733 39.5px,#f6dc39 40.5px,#edf242 41.5px,#ddf84c 42.5px,#b6f466 45.5px,#9cf281 49.5px,#8cf298 55.5px,#82f2a5 68.5px,#80f2a9 186.5px,#81f2a9 282.5px,#85f2ac 283.5px,#c3f9d7 284.5px)"></div>
<div style="top:100px;background:linear-gradient(90deg,#ffffff 0.5px,#ffffff 8.5px,#cdcff6 9.5px,#2734df 10.5px,#1d47e9 11.5px,#3b92f3 12.5px,#5ccfed 13.5px,#76ebc6 14.5px,#94f291 15.5px,#b3f46b 16.5px,#d2f654 17.5px,#ebf043 18.5px,#f6d438 19.5px,#f1902e 21.5px,#ea5625 23.5px,#d4321d 25.5px,#c42518 26.5px,#96140f 28.5px,#89110c 29.5px,#820f0a 34.5px,#92140e 35.5px,#b92617 36.5px,#de4921 37.5px,#ed752a 38.5px,#f6c936 40.5px,#f3e93e 41.5px,#e5f747 42.5px,#bbf463 45.5px,#a3f278 48.5px,#90f292 53.5px,#84f2a2 62.5px,#81f2a9 95.5px,#81f2a9 282.5px,#85f2ac 283.5px,#c3f9d7 284.5px)"></div>
<div style="top:101px;background:linear-gradient(90deg,#ffffff 0.5px,#ffffff 8.5px,#f1f1fc 9.5px,#3640df 10.5px,#1b42e7 11.5px,#398df2 12.5px,#5acdef 13.5px,#74ebcb 14.5px,#8ff198 15.5px,#acf372 16.5px,#c9f659 17.5px,#e5f448 18.5px,#f5e03b 19.5px,#f29b2f 21.5px,#ec6027 23.5px,#e64922 24.5px,#cc2b1a 26.5px,#8c110d 29.5px,#840f0b 30.5px,#7f0e0a 34.5px,#840f0b 35.5px,#a01a11 36.5px,#cc341c 37.5px,#e75d26 38.5px,#f5b633 40.5px,#f6dc3a 41.5px,#edf343 42.5px,#dcf84d 43.5px,#b5f367 46.5px,#9bf283 50.5px,#8bf299 56.5px,#82f2a6 70.5px,#81f2a9 282.5px,#85f2ac 283.5px,#c3f9d7 284.5px)"></div>
<div style="top:102px;background:linear-gradient(90deg,#ffffff 0.5px,#ffffff 9.5px,#4048dc 10.5px,#1c41e6 11.5px,#3b90f2 12.5px,#5cd0ee 13.5px,#74ebcb 14.5px,#8df19a 15.5px,#a8f376 16.5px,#c4f55e 17.5px,#dff64b 18.5px,#f3e83e 19.5px,#f6c735 20.5px,#f1882d 22.5px,#ea5324 24.5px,#d4311c 26.5px,#c32518 27.5px,#93140e 29.5px,#840f0b 30.5px,#7d0d09 34.5px,#7e0d09 35.5px,#8d120d 36.5px,#b82516 37.5px,#de4921 38.5px,#ee782a 39.5px,#f6cd36 41.5px,#f2ed3f 42.5px,#e2f749 43.5px,#b7f465 46.5px,#a0f27c 49.5px,#8ff294 54.5px,#84f2a3 64.5px,#80f2a9 106.5px,#81f2a9 282.5px,#85f2ac 283.5px,#c3f9d7 284.5px)"></div>
<div style="top:103px;background:linear-gradient(90deg,#ffffff 0.5px,#ffffff 9.5px,#4048d7 10.5px,#1e47e5 11.5px,#429df3 12.5px,#61d8eb 13.5px,#75edc7 14.5px,#8cf29b 15.5px,#a4f379 16.5px,#d8f750 18.5px,#eeef41 19.5px,#f6d438 20.5px,#f2932e 22.5px,#ec6027 24.5px,#dd3b1f 26.5px,#bc2217 28.5px,#8b110c 30.5px,#7f0e0a 31.5px,#7b0d09 35.5px,#810f0a 36.5px,#a41b12 37.5px,#d2391d 38.5px,#ea6627 39.5px,#f6c134 41.5px,#f4e63c 42.5px,#e6f647 43.5px,#b9f464 46.5px,#a1f27b 49.5px,#8ff293 54.5px,#84f2a3 64.5px,#80f2a9 105.5px,#81f2a9 282.5px,#85f2ac 283.5px,#c3f9d7 284.5px)"></div>
<div style="top:104px;background:linear-gradient(90deg,#ffffff 0.5px,#ffffff 9.5px,#414ad6 10.5px,#2453e6 11.5px,#4baff3 12.5px,#66e1e8 13.5px,#76efc5 14.5px,#8af29e 15.5px,#a0f27e 16.5px,#d0f755 18.5px,#e7f446 19.5px,#f5e23b 20.5px,#f3a130 22.5px,#eb5b26 25.5px,#db3a1f 27.5px,#ce2d1b 28.5px,#ba2116 29.5px,#820f0a 31.5px,#7a0c08 33.5px,#7c0d09 36.5px,#97160f 37.5px,#c8301a 38.5px,#e75c25 39.5px,#f5bb33 41.5px,#f5e33b 42.5px,#e8f646 43.5px,#baf463 46.5px,#a1f27a 49.5px,#8ff293 54.5px,#84f2a3 64.5px,#80f2a9 105.5px,#81f2a9 282.5px,#85f2ac 283.5px,#c3f9d7 284.5px)"></div>
<div style="top:106px;background:linear-gradient(90deg,#f7fef1 0.5px,#ecfce5 1.5px,#e5fcef 5.5px,#e2fcf6 26.5px,#eefce2 90.5px,#effde2 283.5px,#f7fef1 284.5px)"></div>
<div style="top:107px;background:linear-gradient(90deg,#dcfac1 0.5px,#aff48b 1.5px,#9ef399 2.5px,#93f3a9 3.5px,#85f2c8 10.5px,#80f1d6 24.5px,#8ef3b0 55.5px,#a3f392 66.5px,#b2f37e 93.5px,#b5f47b 282.5px,#b8f480 283.5px,#dcfac1 284.5px)"></div>
<div style="top:108px;background:linear-gradient(90deg,#dbf9b9 0.5px,#acf378 1.5px,#9bf284 2.5px,#8ff293 3.5px,#7cf1b7 11.5px,#75f0c9 23.5px,#7cf1b7 42.5px,#85f2a1 56.5px,#9af284 66.5px,#aaf26f 93.5px,#adf26d 282.5px,#b0f372 283.5px,#d8f9ba 284.5px)"></div>
<div style="top:109px;background:linear-gradient(90deg,#dffab6 0.5px,#b5f46f 1.5px,#9af284 3.5px,#82f2a8 11.5px,#79f0be 22.5px,#79f1bc 31.5px,#87f29e 56.5px,#9cf282 66.5px,#aaf26e 93.5px,#adf26c 282.5px,#b0f372 283.5px,#d8f9ba 284.5px)"></div>
<div style="top:110px;background:linear-gradient(90deg,#e4fbb2 0.5px,#c1f566 1.5px,#a9f373 3.5px,#8bf299 11.5px,#7df1b3 22.5px,#7df1b4 30.5px,#8af29a 56.5px,#9df280 66.5px,#abf26d 92.5px,#adf26c 282.5px,#b0f372 283.5px,#d8f9ba 284.5px)"></div>
<div style="top:111px;background:linear-gradient(90deg,#ebfbad 0.5px,#d1f75b 1.5px,#c6f65c 2.5px,#abf370 6.5px,#8ef294 14.5px,#81f2aa 24.5px,#86f2a0 47.5px,#8ff293 57.5px,#a0f27c 67.5px,#abf26d 92.5px,#adf26c 282.5px,#b0f372 283.5px,#d8f9ba 284.5px)"></div>
<div style="top:112px;background:linear-gradient(90deg,#f4fba8 0.5px,#e5f74f 1.5px,#ddf74d 2.5px,#aaf372 10.5px,#8ff293 18.5px,#86f2a0 27.5px,#8df296 53.5px,#a2f279 67.5px,#acf26d 92.5px,#abf26d 219.5px,#adf26c 282.5px,#b0f372 283.5px,#d8f9ba 284.5px)"></div>
<div style="top:113px;background:linear-gradient(90deg,#f7fba6 0.5px,#f0f649 1.5px,#eff642 2.5px,#dcf74e 6.5px,#a8f273 14.5px,#92f28f 22.5px,#8cf298 32.5px,#92f290 54.5px,#a5f275 67.5px,#adf26c 92.5px,#aaf26e 165.5px,#adf26c 282.5px,#b0f372 283.5px,#d8f9ba 284.5px)"></div>
<div style="top:114px;background:linear-gradient(90deg,#ecfbad 0.5px,#dff653 1.5px,#e8f647 2.5px,#f3f540 4.5px,#eef543 7.5px,#b0f36c 16.5px,#9bf283 23.5px,#92f28f 35.5px,#96f289 54.5px,#a8f271 67.5px,#aef26c 93.5px,#aaf26f 150.5px,#adf26c 282.5px,#b0f372 283.5px,#d8f9ba 284.5px)"></div>
<div style="top:115px;background:linear-gradient(90deg,#d9fabc 0.5px,#bbf56e 1.5px,#c6f55d 2.5px,#ebf545 5.5px,#f6f33f 7.5px,#f2f241 10.5px,#c0f560 17.5px,#a8f273 23.5px,#9af283 35.5px,#9bf282 53.5px,#adf26d 67.5px,#aff36a 92.5px,#a9f26f 129.5px,#adf26c 282.5px,#b0f372 283.5px,#d8f9ba 284.5px)"></div>
<div style="top:116px;background:linear-gradient(90deg,#c9f9d1 0.5px,#98f295 1.5px,#aff470 3.5px,#d9f650 6.5px,#f4f13f 9.5px,#f7ed3d 12.5px,#c8f65a 20.5px,#aff36c 27.5px,#a1f27a 41.5px,#a3f278 55.5px,#b3f368 68.5px,#b2f369 91.5px,#a9f26f 118.5px,#adf26c 282.5px,#b0f372 283.5px,#d8f9ba 284.5px)"></div>
<div style="top:117px;background:linear-gradient(90deg,#bdf6e8 0.5px,#7eefc4 1.5px,#83f0ac 2.5px,#aaf375 5.5px,#d2f654 8.5px,#f1f140 11.5px,#f9e73b 14.5px,#f1e83f 17.5px,#d8f650 22.5px,#bef561 29.5px,#acf36e 41.5px,#adf36d 56.5px,#baf463 69.5px,#b5f367 90.5px,#aaf26e 112.5px,#adf26c 282.5px,#b0f372 283.5px,#d8f9ba 284.5px)"></div>
<div style="top:118px;background:linear-gradient(90deg,#b7eff7 0.5px,#6ee3e8 1.5px,#6ee9d9 2.5px,#99f288 6.5px,#c0f561 9.5px,#e6f548 12.5px,#f5ea3d 14.5px,#f7d437 17.5px,#f5d538 19.5px,#e4f248 25.5px,#c5f55c 35.5px,#b6f466 48.5px,#bef561 61.5px,#c3f55d 75.5px,#abf26e 108.5px,#adf26c 282.5px,#b0f372 283.5px,#d8f9ba 284.5px)"></div>
<div style="top:119px;background:linear-gradient(90deg,#caeefc 0.5px,#75d6f7 1.5px,#63d8f2 2.5px,#6ee9da 4.5px,#97f28b 8.5px,#bdf563 11.5px,#e5f448 14.5px,#f5e33b 16.5px,#f6c334 19.5px,#f5bf33 21.5px,#f4d239 25.5px,#e8ef45 31.5px,#d3f753 39.5px,#c6f65c 50.5px,#cff755 72.5px,#bef561 88.5px,#abf26d 107.5px,#adf26c 282.5px,#b0f372 283.5px,#d8f9ba 284.5px)"></div>
<div style="top:120px;background:linear-gradient(90deg,#ffffff 0.5px,#daf2fd 1.5px,#73ccf8 2.5px,#5ccbf6 3.5px,#66e2e9 5.5px,#76eec8 7.5px,#95f28d 10.5px,#bcf564 13.5px,#e6f347 16.5px,#f5de3a 18.5px,#f5b832 21.5px,#f4ac31 24.5px,#f4b132 27.5px,#f0e53f 36.5px,#e2f449 43.5px,#daf74f 53.5px,#def84c 72.5px,#caf658 85.5px,#b7f466 96.5px,#aaf26e 112.5px,#adf26c 282.5px,#b0f372 283.5px,#d8f9ba 284.5px)"></div>
<div style="top:121px;background:linear-gradient(90deg,#ffffff 0.5px,#ffffff 1.5px,#d9effd 2.5px,#6cc1f8 3.5px,#55bef7 4.5px,#60d8f1 6.5px,#6eeada 8.5px,#95f28c 12.5px,#bff561 15.5px,#e8f246 18.5px,#f5dd3a 20.5px,#f5b432 23.5px,#f39f30 26.5px,#f2992f 29.5px,#f3aa31 34.5px,#f3da3b 43.5px,#efe93f 49.5px,#edf342 74.5px,#dbf84e 83.5px,#bef561 93.5px,#abf26d 111.5px,#adf26c 282.5px,#b0f372 283.5px,#d8f9ba 284.5px)"></div>
<div style="top:122px;background:linear-gradient(90deg,#ffffff 0.5px,#ffffff 2.5px,#d7ecfd 3.5px,#63b4f7 4.5px,#4cb1f6 5.5px,#62dbf1 8.5px,#6febd8 10.5px,#8cf29b 13.5px,#b4f46a 16.5px,#ddf64d 19.5px,#f1eb3f 21.5px,#f6c234 24.5px,#f3a130 27.5px,#f18f2e 31.5px,#f18c2e 36.5px,#f3a030 42.5px,#f4b934 48.5px,#f6c836 64.5px,#f6d739 74.5px,#f0f141 81.5px,#d8f84f 87.5px,#c4f55d 93.5px,#acf26d 110.5px,#adf26c 282.5px,#b0f372 283.5px,#d8f9ba 284.5px)"></div>
<div style="top:123px;background:linear-gradient(90deg,#ffffff 0.5px,#ffffff 3.5px,#b8d8fb 4.5px,#51a2f6 5.5px,#44a4f5 6.5px,#5cd1f5 9.5px,#69e6e5 11.5px,#79f0bf 13.5px,#9cf283 16.5px,#c4f55d 19.5px,#e7f446 22.5px,#f3e43d 24.5px,#f4a831 29.5px,#f18d2e 33.5px,#ef7a2b 40.5px,#f0812c 48.5px,#f29d2f 70.5px,#f5b232 76.5px,#f3ec3e 84.5px,#e5f847 87.5px,#cff755 91.5px,#adf26c 109.5px,#acf26c 261.5px,#adf26c 282.5px,#b0f372 283.5px,#d8f9ba 284.5px)"></div>
<div style="top:124px;background:linear-gradient(90deg,#ffffff 0.5px,#ffffff 4.5px,#4493f4 6.5px,#3d98f5 7.5px,#5ed5f4 11.5px,#6be9e0 13.5px,#93f28f 17.5px,#b8f466 20.5px,#e1f54a 24.5px,#f3e33d 27.5px,#f29c30 34.5px,#ef7c2c 39.5px,#ed6227 48.5px,#ea5625 55.5px,#e75c25 66.5px,#eb6d28 73.5px,#f08d2d 78.5px,#f6bf34 83.5px,#f2ee3f 87.5px,#def84c 90.5px,#d2f753 94.5px,#b0f36a 108.5px,#aaf26e 125.5px,#adf26c 282.5px,#b0f372 283.5px,#d8f9ba 284.5px)"></div>
<div style="top:125px;background:linear-gradient(90deg,#ffffff 0.5px,#ffffff 4.5px,#f3f7fe 5.5px,#6ea2f6 6.5px,#3582f3 7.5px,#378df4 8.5px,#5acdf6 12.5px,#67e5e8 14.5px,#77efc4 16.5px,#96f28b 19.5px,#b4f46a 22.5px,#def54c 27.5px,#efe940 30.5px,#f5c435 34.5px,#f18a2d 40.5px,#ee6728 46.5px,#e94a23 54.5px,#da391e 66.5px,#da3c1f 73.5px,#e14d22 77.5px,#ea6928 80.5px,#f3a030 84.5px,#f6e43b 88.5px,#eaf644 90.5px,#def84c 93.5px,#b4f367 107.5px,#abf26d 117.5px,#adf26c 282.5px,#b0f372 283.5px,#d8f9ba 284.5px)"></div>
<div style="top:126px;background:linear-gradient(90deg,#ffffff 0.5px,#ffffff 5.5px,#c3d5fb 6.5px,#3d79f2 7.5px,#2c75f2 8.5px,#5dd3f5 14.5px,#6ae8e3 16.5px,#82f1ab 19.5px,#9bf284 22.5px,#c0f560 27.5px,#e3f349 32.5px,#f1e33d 35.5px,#f3a731 41.5px,#ee6728 49.5px,#e94c23 54.5px,#d7341d 65.5px,#ce2a1b 76.5px,#d2321c 79.5px,#e04d22 82.5px,#ef822c 85.5px,#f7d938 89.5px,#f5ea3d 90.5px,#f1f341 91.5px,#d4f852 99.5px,#b6f466 107.5px,#abf26d 116.5px,#adf26c 282.5px,#b0f372 283.5px,#d8f9ba 284.5px)"></div>
<div style="top:127px;background:linear-gradient(90deg,#ffffff 0.5px,#ffffff 6.5px,#6e91f4 7.5px,#285ff0 8.5px,#2668f1 9.5px,#59cbf6 15.5px,#66e3eb 17.5px,#78efc2 20.5px,#8ff295 24.5px,#aff36f 29.5px,#e1f34a 36.5px,#f0e53f 39.5px,#f5b733 44.5px,#ec6127 54.5px,#e14120 60.5px,#cd291b 73.5px,#c72419 80.5px,#cf311c 83.5px,#e14f23 85.5px,#f29c2f 88.5px,#f7d037 90.5px,#f8e13a 91.5px,#f1f441 95.5px,#d3f852 101.5px,#b6f466 108.5px,#abf26d 117.5px,#adf26c 282.5px,#b0f372 283.5px,#d8f9ba 284.5px)"></div>
<div style="top:128px;background:linear-gradient(90deg,#ffffff 0.5px,#ffffff 6.5px,#d0d7fb 7.5px,#3354ed 8.5px,#1c4aed 9.5px,#378ef4 13.5px,#5bcff6 17.5px,#69e7e4 20.5px,#88f1a3 27.5px,#baf466 35.5px,#e4f248 41.5px,#f3db3b 45.5px,#ef772a 56.5px,#e54b22 62.5px,#d3301c 70.5px,#c42218 80.5px,#c32518 84.5px,#c92b1a 85.5px,#d53a1e 86.5px,#e25223 87.5px,#f1912e 89.5px,#f4ae31 90.5px,#f6c134 91.5px,#f7ec3d 96.5px,#e7f846 99.5px,#b9f464 108.5px,#acf26d 116.5px,#adf26c 282.5px,#b0f372 283.5px,#d8f9ba 284.5px)"></div>
<div style="top:129px;background:linear-gradient(90deg,#ffffff 0.5px,#ffffff 7.5px,#6273ef 8.5px,#1a35e8 9.5px,#173bea 10.5px,#3283f3 14.5px,#4cb4f7 17.5px,#5dd2f5 20.5px,#68e5e5 24.5px,#7ff0b4 30.5px,#a8f376 37.5px,#daf54f 44.5px,#efe840 48.5px,#f5bc34 53.5px,#ec6628 63.5px,#dd3c1f 70.5px,#c92419 77.5px,#bd2017 85.5px,#c12418 86.5px,#cc2f1b 87.5px,#dc4621 88.5px,#e96727 89.5px,#f08a2d 90.5px,#f3a030 91.5px,#f7c835 95.5px,#f7ed3d 98.5px,#e2f949 101.5px,#bbf462 108.5px,#acf26d 116.5px,#adf26c 282.5px,#b0f372 283.5px,#d8f9ba 284.5px)"></div>
<div style="top:130px;background:linear-gradient(90deg,#ffffff 0.5px,#ffffff 7.5px,#babff7 8.5px,#2436e5 9.5px,#1229e5 10.5px,#1840eb 12.5px,#3589f3 16.5px,#48acf6 19.5px,#5ed4f4 25.5px,#69e5e4 29.5px,#7cf0b9 34.5px,#a5f379 41.5px,#dcf54d 49.5px,#f1e53e 53.5px,#f4ae32 59.5px,#e74e23 71.5px,#ce2a1b 77.5px,#be2017 83.5px,#bc2117 87.5px,#c62a19 88.5px,#d8401f 89.5px,#e86327 90.5px,#ef7f2c 91.5px,#f5b833 96.5px,#f8e93b 99.5px,#ecf744 101.5px,#caf659 106.5px,#b7f465 110.5px,#acf26d 118.5px,#adf26c 282.5px,#b0f372 283.5px,#d8f9ba 284.5px)"></div>
<div style="top:131px;background:linear-gradient(90deg,#ffffff 0.5px,#ffffff 7.5px,#f1f2fd 8.5px,#3b47e5 9.5px,#1121e1 10.5px,#132ce6 12.5px,#1c4bed 14.5px,#2d79f2 17.5px,#3e9af5 21.5px,#5ed5f3 30.5px,#6be8e1 34.5px,#8af29e 41.5px,#aff36f 47.5px,#e2f44a 54.5px,#f1e83f 57.5px,#f5bc33 62.5px,#ec6127 72.5px,#dd3b1f 76.5px,#c82419 80.5px,#b91e16 86.5px,#b91f16 88.5px,#c32819 89.5px,#e85b25 91.5px,#f0832c 94.5px,#f4af31 97.5px,#f9e83b 100.5px,#ebf744 102.5px,#cff756 106.5px,#b9f464 110.5px,#acf26d 118.5px,#adf26c 282.5px,#b0f372 283.5px,#d8f9ba 284.5px)"></div>
<div style="top:132px;background:linear-gradient(90deg,#ffffff 0.5px,#ffffff 8.5px,#747aeb 9.5px,#121ede 10.5px,#0d1de0 11.5px,#1534e8 14.5px,#215bef 17.5px,#5acdf6 33.5px,#67e3e9 37.5px,#75eec9 41.5px,#a0f27e 49.5px,#ccf657 55.5px,#e7f346 59.5px,#f4e33c 62.5px,#f39e30 69.5px,#ed6528 74.5px,#e03f20 77.5px,#c62319 81.5px,#ba1f16 84.5px,#b71f16 89.5px,#c32819 90.5px,#d83c1f 91.5px,#e54d23 92.5px,#ef782b 95.5px,#f6c134 99.5px,#f8ea3b 101.5px,#e9f845 103.5px,#bff560 109.5px,#aef26c 116.5px,#adf26c 282.5px,#b0f372 283.5px,#d8f9ba 284.5px)"></div>
<div style="top:133px;background:linear-gradient(90deg,#ffffff 0.5px,#ffffff 8.5px,#a5a7ef 9.5px,#1820d9 10.5px,#0b16db 11.5px,#1535e9 16.5px,#368af3 28.5px,#5dd3f5 38.5px,#6ae7e4 42.5px,#82f1ac 48.5px,#a3f37b 53.5px,#cdf657 59.5px,#e8f345 63.5px,#f5e23b 66.5px,#f07e2c 74.5px,#e74b23 77.5px,#c82519 81.5px,#b71e16 84.5px,#b11c14 89.5px,#b41e15 90.5px,#d5351d 92.5px,#e74e23 94.5px,#f4af31 99.5px,#f9dd39 101.5px,#f7ee3d 102.5px,#e5f947 104.5px,#bdf462 110.5px,#adf26c 117.5px,#adf26c 282.5px,#b0f372 283.5px,#d8f9ba 284.5px)"></div>
<div style="top:134px;background:linear-gradient(90deg,#ffffff 0.5px,#ffffff 8.5px,#cbccf4 9.5px,#1f24d1 10.5px,#0910d4 11.5px,#0e1fe1 14.5px,#173bea 21.5px,#3589f3 32.5px,#5ed4f5 42.5px,#6ae7e4 46.5px,#75efc9 49.5px,#99f287 55.5px,#b5f468 59.5px,#e6f547 66.5px,#f3ea3e 68.5px,#f7d337 70.5px,#f0822c 75.5px,#e54822 78.5px,#ca271a 81.5px,#b11c14 84.5px,#a81913 87.5px,#a21811 89.5px,#a51912 90.5px,#af1c14 91.5px,#dc3b1f 94.5px,#ec5f27 96.5px,#f9e73b 102.5px,#f4f33f 103.5px,#dff94b 105.5px,#baf463 111.5px,#adf26c 118.5px,#adf26c 282.5px,#b0f371 283.5px,#d8f9ba 284.5px)"></div>
<div style="top:135px;background:linear-gradient(90deg,#ffffff 0.5px,#ffffff 8.5px,#e1e1f7 9.5px,#2a2dca 10.5px,#080ccc 11.5px,#0c18de 14.5px,#1430e8 23.5px,#215cef 30.5px,#5cd0f6 45.5px,#68e6e8 49.5px,#79f0bf 53.5px,#9bf283 58.5px,#b7f466 62.5px,#e3f749 68.5px,#f2ed3f 70.5px,#f7cf36 72.5px,#f07f2c 76.5px,#e95124 78.5px,#d6331d 80.5px,#c02117 82.5px,#92130e 87.5px,#8a110c 89.5px,#98150f 91.5px,#bd2217 93.5px,#de3e20 95.5px,#ed6828 97.5px,#f9df39 102.5px,#f7f03e 103.5px,#e2f949 105.5px,#bbf463 111.5px,#adf26c 118.5px,#adf26c 282.5px,#b0f371 283.5px,#d8f9ba 284.5px)"></div>
<div style="top:136px;background:linear-gradient(90deg,#ffffff 0.5px,#ffffff 9.5px,#383ac8 10.5px,#070bc4 11.5px,#0a13da 14.5px,#1430e8 27.5px,#1a48ed 31.5px,#45a8f6 43.5px,#5ed5f5 49.5px,#69e7e7 52.5px,#76efc7 55.5px,#8df297 58.5px,#acf36f 62.5px,#dcf84d 69.5px,#eff341 71.5px,#f6e83c 72.5px,#f6bf34 74.5px,#ec5b26 78.5px,#d9361e 80.5px,#c02117 82.5px,#810e0a 87.5px,#7b0d09 89.5px,#7e0e09 90.5px,#87100b 91.5px,#97140f 92.5px,#c52619 94.5px,#e54822 96.5px,#f1912e 99.5px,#f9da38 102.5px,#f8ed3c 103.5px,#e4f948 105.5px,#bcf462 111.5px,#adf26c 118.5px,#adf26c 282.5px,#b0f371 283.5px,#d8f9ba 284.5px)"></div>
<div style="top:137px;background:linear-gradient(90deg,#ffffff 0.5px,#ffffff 9.5px,#3b3dc3 10.5px,#070abe 11.5px,#070dcf 13.5px,#0c18dd 19.5px,#142ee7 30.5px,#1b48ed 34.5px,#45a8f6 46.5px,#61daf5 52.5px,#6bebe2 55.5px,#8af29c 59.5px,#acf26f 63.5px,#e6f847 71.5px,#f1f441 72.5px,#f8e93c 73.5px,#f8d337 74.5px,#e74c23 79.5px,#ce2c1b 81.5px,#a01811 84.5px,#7b0d09 87.5px,#7a0d09 90.5px,#800f0a 91.5px,#8f130e 92.5px,#c02318 94.5px,#e34522 96.5px,#ef752b 98.5px,#f9d738 102.5px,#f9ec3c 103.5px,#f1f541 104.5px,#d6f851 107.5px,#bcf462 111.5px,#aef36c 118.5px,#adf26c 282.5px,#b0f372 283.5px,#d8f9ba 284.5px)"></div>
<div style="top:138px;background:linear-gradient(90deg,#ffffff 0.5px,#ffffff 9.5px,#4f50c7 10.5px,#1f21c0 11.5px,#2024d3 14.5px,#2531e2 23.5px,#2c44ea 33.5px,#3e7ff3 41.5px,#61c1f8 50.5px,#72e0f6 54.5px,#79ede6 56.5px,#97f3a3 60.5px,#b7f47a 64.5px,#f0f755 72.5px,#f8f151 73.5px,#fae24d 74.5px,#eb623a 79.5px,#d44232 81.5px,#a62e28 84.5px,#892522 87.5px,#872521 90.5px,#8e2723 91.5px,#af302a 93.5px,#d94734 95.5px,#ed6c3c 97.5px,#f9db4c 102.5px,#f9ee50 103.5px,#e8f95a 105.5px,#c3f672 111.5px,#b6f47b 119.5px,#b5f47b 282.5px,#b8f480 283.5px,#dcfac1 284.5px)"></div>
<div style="top:139px;background:linear-gradient(90deg,#ffffff 0.5px,#ffffff 9.5px,#d7d7f2 10.5px,#cccdf1 11.5px,#cfd3fa 32.5px,#dff9fc 55.5px,#eefce1 64.5px,#fdfcd8 73.5px,#f8d7d1 80.5px,#e5cecd 87.5px,#e6cecd 91.5px,#fad9d2 96.5px,#fcfdd8 104.5px,#effde0 115.5px,#effde2 283.5px,#f7fef1 284.5px)"></div>
<div style="top:141px;background:linear-gradient(90deg,#e6fce8 0.5px,#c9f9d3 1.5px,#b9f6f3 5.5px,#b1e6fc 10.5px,#a5d3fa 15.5px,#a6d3fa 49.5px,#b5edfc 69.5px,#bbf7ee 95.5px,#d2f9c2 129.5px,#ddfab7 144.5px,#e1fab7 283.5px,#f0fddc 284.5px)"></div>
<div style="top:142px;background:linear-gradient(90deg,#cdf9cd 0.5px,#93f3a1 1.5px,#87f2ab 2.5px,#71eee1 5.5px,#6be4f1 7.5px,#61d0f9 10.5px,#4aa9f6 15.5px,#49a6f6 48.5px,#66d8f9 66.5px,#70efe5 90.5px,#81f2b8 108.5px,#97f292 122.5px,#b5f36e 138.5px,#b9f46b 154.5px,#c0f567 282.5px,#c2f56d 283.5px,#e1fab7 284.5px)"></div>
<div style="top:143px;background:linear-gradient(90deg,#cef9c7 0.5px,#95f294 1.5px,#89f29d 2.5px,#70efd6 5.5px,#67e8ec 7.5px,#5fd4f8 10.5px,#48aef6 15.5px,#45a9f6 48.5px,#61daf7 66.5px,#6beee3 88.5px,#7df1b2 108.5px,#acf26c 135.5px,#b7f466 142.5px,#bdf561 282.5px,#c0f567 283.5px,#e0fab5 284.5px)"></div>
<div style="top:144px;background:linear-gradient(90deg,#d2f9c2 0.5px,#9df289 1.5px,#90f292 2.5px,#6eeeda 6.5px,#66e6ed 8.5px,#5accf9 12.5px,#4eb7f7 15.5px,#49b0f6 48.5px,#62daf7 64.5px,#6beee2 86.5px,#7ff1ae 108.5px,#b0f36a 136.5px,#b7f465 142.5px,#bdf561 282.5px,#c0f567 283.5px,#e0fab5 284.5px)"></div>
<div style="top:145px;background:linear-gradient(90deg,#d7f9bc 0.5px,#a7f37d 1.5px,#99f286 2.5px,#79f1bd 5.5px,#6deedd 7.5px,#66e6ee 9.5px,#5bcef9 13.5px,#54c1f8 15.5px,#4db6f7 47.5px,#62daf7 62.5px,#6beee2 83.5px,#81f2a9 108.5px,#b0f36a 135.5px,#b9f464 142.5px,#bdf561 282.5px,#c0f567 283.5px,#e0fab5 284.5px)"></div>
<div style="top:146px;background:linear-gradient(90deg,#ddfab7 0.5px,#b1f372 1.5px,#a2f27a 2.5px,#7ef1b1 5.5px,#6ceee0 8.5px,#64e1f2 11.5px,#5acbf9 15.5px,#52bef8 44.5px,#55c3f8 50.5px,#62dcf5 61.5px,#6beee2 80.5px,#87f29e 111.5px,#b0f36a 134.5px,#bbf463 142.5px,#b9f464 188.5px,#bdf561 282.5px,#c0f567 283.5px,#e0fab5 284.5px)"></div>
<div style="top:147px;background:linear-gradient(90deg,#e2fab3 0.5px,#bbf46a 1.5px,#a9f372 2.5px,#83f2a7 5.5px,#70efd5 8.5px,#69ebe7 10.5px,#5fd5f8 15.5px,#56c6f8 44.5px,#59cbf9 50.5px,#64e0f2 61.5px,#6ceee0 77.5px,#88f29d 110.5px,#b1f369 133.5px,#bdf561 141.5px,#b8f465 168.5px,#bdf561 282.5px,#c0f567 283.5px,#e0fab5 284.5px)"></div>
<div style="top:148px;background:linear-gradient(90deg,#e5fbb2 0.5px,#c0f567 1.5px,#aef36d 2.5px,#87f29f 5.5px,#75f0c8 8.5px,#6aece4 11.5px,#63def4 15.5px,#5bcef9 46.5px,#64e2f1 59.5px,#6beee3 71.5px,#89f29b 109.5px,#b3f368 132.5px,#c0f55f 141.5px,#b8f465 164.5px,#bdf561 282.5px,#c0f567 283.5px,#e0fab5 284.5px)"></div>
<div style="top:149px;background:linear-gradient(90deg,#e5fbb2 0.5px,#c2f566 1.5px,#b1f36a 2.5px,#8df297 5.5px,#78f0c1 9.5px,#6aece4 13.5px,#66e5ee 16.5px,#5fd6f8 46.5px,#69ede7 64.5px,#8cf297 109.5px,#b4f367 131.5px,#c3f55d 141.5px,#b8f465 163.5px,#bdf561 282.5px,#c0f567 283.5px,#e0fab5 284.5px)"></div>
<div style="top:150px;background:linear-gradient(90deg,#e4fbb2 0.5px,#c3f565 1.5px,#b4f368 2.5px,#94f28d 5.5px,#7bf1b7 10.5px,#6cede1 15.5px,#65e3f0 29.5px,#63def4 49.5px,#6beee3 62.5px,#86f29f 100.5px,#9ef27f 118.5px,#b7f466 130.5px,#c6f65b 141.5px,#b8f465 162.5px,#bdf561 282.5px,#c0f567 283.5px,#e0fab5 284.5px)"></div>
<div style="top:151px;background:linear-gradient(90deg,#e2fab3 0.5px,#c3f565 1.5px,#b9f464 2.5px,#96f28a 6.5px,#7af1bc 13.5px,#72efcf 16.5px,#69eae8 28.5px,#65e4ef 49.5px,#6deede 60.5px,#75f0c7 70.5px,#8bf299 100.5px,#a0f27c 117.5px,#c1f55e 132.5px,#ccf658 141.5px,#b8f465 161.5px,#bdf561 282.5px,#c0f567 283.5px,#e0fab5 284.5px)"></div>
<div style="top:152px;background:linear-gradient(90deg,#dbfaba 0.5px,#bdf56a 1.5px,#bcf462 2.5px,#a0f27c 6.5px,#7df1b5 16.5px,#6deedc 30.5px,#68eae9 45.5px,#6bede2 53.5px,#7af1bc 69.5px,#91f290 101.5px,#a6f274 118.5px,#d0f754 136.5px,#d1f754 142.5px,#baf464 159.5px,#bdf561 282.5px,#c0f567 283.5px,#e0fab5 284.5px)"></div>
<div style="top:153px;background:linear-gradient(90deg,#cdf9cc 0.5px,#a9f381 1.5px,#b7f468 2.5px,#baf464 3.5px,#94f28d 13.5px,#83f2a8 20.5px,#72efcf 34.5px,#6deedc 47.5px,#7af1bb 62.5px,#88f29d 82.5px,#a7f273 116.5px,#c1f55f 126.5px,#d8f850 136.5px,#d8f84f 142.5px,#bef561 156.5px,#b9f464 171.5px,#bdf561 282.5px,#c0f567 283.5px,#e0fab5 284.5px)"></div>
<div style="top:154px;background:linear-gradient(90deg,#bff4e6 0.5px,#8aedb2 1.5px,#9ef287 2.5px,#b1f46e 3.5px,#b7f466 4.5px,#b2f36a 9.5px,#8ef295 22.5px,#7af1bb 36.5px,#75f0c7 48.5px,#86f2a0 68.5px,#b0f36a 118.5px,#daf84e 133.5px,#e0f94a 141.5px,#bef561 157.5px,#b9f464 171.5px,#bdf561 282.5px,#c0f567 283.5px,#e0fab5 284.5px)"></div>
<div style="top:155px;background:linear-gradient(90deg,#d8f5fa 0.5px,#83e2e4 1.5px,#7de8c0 2.5px,#92f099 3.5px,#a6f37b 4.5px,#b3f46b 5.5px,#bff560 7.5px,#bcf562 12.5px,#8df297 31.5px,#80f1ad 44.5px,#81f1ab 51.5px,#93f28e 71.5px,#b4f367 114.5px,#bef561 121.5px,#e2f949 133.5px,#e8f945 140.5px,#d3f852 149.5px,#c0f55f 157.5px,#b9f464 169.5px,#bdf561 282.5px,#c0f567 283.5px,#e0fab5 284.5px)"></div>
<div style="top:156px;background:linear-gradient(90deg,#ffffff 0.5px,#dcf4fc 1.5px,#7cd8ec 2.5px,#72e1d3 3.5px,#83edb1 4.5px,#97f18f 5.5px,#a8f378 6.5px,#bff561 8.5px,#ccf658 11.5px,#c8f65a 16.5px,#99f286 34.5px,#8df296 47.5px,#b3f368 96.5px,#c6f65b 121.5px,#eff642 134.5px,#f1f541 140.5px,#d6f851 150.5px,#c2f55e 157.5px,#b9f464 168.5px,#bdf561 282.5px,#c0f567 283.5px,#e0fab5 284.5px)"></div>
<div style="top:157px;background:linear-gradient(90deg,#ffffff 0.5px,#ffffff 1.5px,#daf1fd 2.5px,#74cef2 3.5px,#68d8e3 4.5px,#76e8c8 5.5px,#97f28e 7.5px,#b2f46c 9.5px,#cdf757 12.5px,#d9f84f 16.5px,#d1f754 22.5px,#aaf372 36.5px,#a0f27e 49.5px,#c8f65a 101.5px,#d4f852 123.5px,#f3f440 131.5px,#f9ea3b 138.5px,#f3f440 143.5px,#dcf94d 150.5px,#c4f55d 157.5px,#b9f464 168.5px,#bdf561 282.5px,#c0f567 283.5px,#e0fab5 284.5px)"></div>
<div style="top:158px;background:linear-gradient(90deg,#ffffff 0.5px,#ffffff 2.5px,#d9eefd 3.5px,#6ec4f5 4.5px,#5fcfed 5.5px,#6be2db 6.5px,#79edc1 7.5px,#94f290 9.5px,#adf371 11.5px,#c9f65a 14.5px,#e2f949 19.5px,#e5f748 24.5px,#bff561 39.5px,#b8f466 51.5px,#e2f649 109.5px,#e0f74a 121.5px,#e1f84a 124.5px,#f6f03e 129.5px,#f9d938 135.5px,#f9d838 139.5px,#f8ef3d 144.5px,#e4f948 149.5px,#c4f55d 158.5px,#b9f464 168.5px,#bdf561 282.5px,#c0f567 283.5px,#e0fab5 284.5px)"></div>
<div style="top:159px;background:linear-gradient(90deg,#ffffff 0.5px,#ffffff 3.5px,#d6ebfd 4.5px,#61b6f6 5.5px,#57c4f2 6.5px,#63dbe8 7.5px,#6fe8d5 8.5px,#86f1a7 10.5px,#9cf283 12.5px,#b9f465 15.5px,#e4f848 21.5px,#f3f540 26.5px,#e1f44a 37.5px,#d5f552 50.5px,#ebee43 86.5px,#f4e23c 112.5px,#f1ec3f 121.5px,#f1f441 125.5px,#f9e73b 128.5px,#f7c634 133.5px,#f6be33 137.5px,#f7c534 140.5px,#f8ef3d 146.5px,#e5f947 150.5px,#c6f65c 158.5px,#baf464 168.5px,#bdf561 282.5px,#c0f567 283.5px,#e0fab5 284.5px)"></div>
<div style="top:160px;background:linear-gradient(90deg,#ffffff 0.5px,#ffffff 4.5px,#a4cbfa 5.5px,#4da4f5 6.5px,#50baf5 7.5px,#5dd3f0 8.5px,#68e3e4 9.5px,#7befbc 11.5px,#8ff296 13.5px,#aaf373 16.5px,#d1f754 21.5px,#f3f540 27.5px,#f8e63b 32.5px,#f2e13d 40.5px,#f0e23e 60.5px,#f5c636 86.5px,#f4b633 100.5px,#f5b433 114.5px,#f6c235 120.5px,#f7df3a 125.5px,#f9e13a 126.5px,#f7c835 129.5px,#f4ac31 133.5px,#f3a630 137.5px,#f4ae31 140.5px,#f8cf36 144.5px,#f6f23e 148.5px,#e2f949 152.5px,#c5f65c 159.5px,#baf463 169.5px,#bdf561 282.5px,#c0f567 283.5px,#e0fab5 284.5px)"></div>
<div style="top:161px;background:linear-gradient(90deg,#ffffff 0.5px,#ffffff 4.5px,#f3f7fe 5.5px,#71a7f6 6.5px,#4197f4 7.5px,#58caf4 9.5px,#62dcee 10.5px,#72edcf 12.5px,#8cf29a 15.5px,#a5f278 18.5px,#c7f65b 23.5px,#eaf545 29.5px,#f7e23a 34.5px,#f6c634 41.5px,#f39e30 77.5px,#f0802b 100.5px,#ef7d2b 114.5px,#f18e2d 120.5px,#f4ab31 124.5px,#f6be34 126.5px,#f6bf34 127.5px,#f29b2f 132.5px,#f1902e 136.5px,#f29a2f 140.5px,#f5bb33 144.5px,#fae93b 148.5px,#ebf844 151.5px,#c7f65b 159.5px,#baf463 168.5px,#bef561 282.5px,#c0f567 283.5px,#e0fab5 284.5px)"></div>
<div style="top:162px;background:linear-gradient(90deg,#ffffff 0.5px,#ffffff 5.5px,#d3e1fc 6.5px,#4987f3 7.5px,#398ef4 8.5px,#54c2f6 10.5px,#65e1eb 12.5px,#73eecf 14.5px,#89f29e 17.5px,#9ff27f 20.5px,#bff561 26.5px,#e6f447 33.5px,#f5e03b 38.5px,#f5bc33 45.5px,#f29d30 59.5px,#ee6a29 92.5px,#ea5324 114.5px,#ea5b25 120.5px,#ec6d28 123.5px,#f29a2f 127.5px,#f39e2f 128.5px,#ef7c2b 134.5px,#ef792b 137.5px,#f0852d 140.5px,#f4a831 144.5px,#fae83b 149.5px,#f1f641 151.5px,#d7f850 156.5px,#c4f55d 161.5px,#baf463 170.5px,#bef561 282.5px,#c0f567 283.5px,#e0fab5 284.5px)"></div>
<div style="top:163px;background:linear-gradient(90deg,#ffffff 0.5px,#ffffff 6.5px,#85a3f6 7.5px,#316ff1 8.5px,#3486f3 9.5px,#4eb7f6 11.5px,#60d8f2 13.5px,#6ceade 15.5px,#85f1a6 19.5px,#98f288 23.5px,#cef656 34.5px,#e9ef44 40.5px,#f5d238 47.5px,#f3a430 61.5px,#ef7a2b 79.5px,#e74722 116.5px,#e44822 123.5px,#e75324 125.5px,#ee772a 128.5px,#ef7d2b 129.5px,#ef742a 131.5px,#ed6227 134.5px,#ec5f27 137.5px,#ee6e29 140.5px,#f4b031 146.5px,#fae93b 150.5px,#f0f642 152.5px,#cff755 158.5px,#bef561 165.5px,#bbf462 202.5px,#bef561 282.5px,#c0f567 283.5px,#e0fab5 284.5px)"></div>
<div style="top:164px;background:linear-gradient(90deg,#ffffff 0.5px,#ffffff 6.5px,#e0e5fc 7.5px,#3b60ee 8.5px,#2561ef 9.5px,#3c96f4 11.5px,#52bff7 13.5px,#61dbf2 15.5px,#70edd6 18.5px,#7ff1b3 22.5px,#aff36f 34.5px,#dff34b 45.5px,#f1de3c 55.5px,#f4b633 67.5px,#f1902e 77.5px,#e74722 116.5px,#e14020 125.5px,#e44c23 128.5px,#e95b26 130.5px,#e54822 135.5px,#e74c23 138.5px,#ed6127 141.5px,#f6bf33 148.5px,#f9eb3c 151.5px,#edf743 153.5px,#c9f659 160.5px,#bbf463 169.5px,#bef561 282.5px,#c0f567 283.5px,#e0fab5 284.5px)"></div>
<div style="top:165px;background:linear-gradient(90deg,#ffffff 0.5px,#ffffff 7.5px,#6677ef 8.5px,#1e43ea 9.5px,#2159ee 10.5px,#378cf4 12.5px,#55c4f7 15.5px,#61d9f3 17.5px,#69e7e4 20.5px,#80f1b1 29.5px,#a5f379 39.5px,#c6f55c 48.5px,#e8ed45 63.5px,#f2dd3c 68.5px,#f4ab31 78.5px,#ed6628 108.5px,#e44321 121.5px,#dd3d1f 129.5px,#e04020 132.5px,#d8361e 136.5px,#df3e20 139.5px,#eb5925 142.5px,#f6c334 149.5px,#f8ef3d 152.5px,#e5f947 155.5px,#c8f65a 161.5px,#bbf463 170.5px,#bef561 282.5px,#c0f567 283.5px,#e0fab5 284.5px)"></div>
<div style="top:166px;background:linear-gradient(90deg,#ffffff 0.5px,#ffffff 7.5px,#babff7 8.5px,#263ae7 9.5px,#1739e9 10.5px,#3284f3 13.5px,#45a8f6 15.5px,#58c9f7 18.5px,#64deee 24.5px,#71ecd1 31.5px,#97f28b 44.5px,#b6f469 56.5px,#ccf558 65.5px,#ebef43 71.5px,#f6d438 77.5px,#f4a931 90.5px,#ef782b 109.5px,#e64521 122.5px,#d3301c 132.5px,#c62619 135.5px,#cb2a1a 138.5px,#df3e20 141.5px,#eb5525 143.5px,#fae93b 152.5px,#eef742 154.5px,#c9f659 161.5px,#bbf463 170.5px,#bef561 282.5px,#c0f567 283.5px,#e0fab5 284.5px)"></div>
<div style="top:167px;background:linear-gradient(90deg,#ffffff 0.5px,#ffffff 7.5px,#f1f1fd 8.5px,#3b48e6 9.5px,#1328e4 10.5px,#1637e9 11.5px,#2f7cf2 14.5px,#3d9af5 16.5px,#4ab0f6 19.5px,#60d8f1 30.5px,#6ee9d8 38.5px,#8af1a1 51.5px,#a7f379 65.5px,#d5f652 72.5px,#f0ee40 78.5px,#f7ce36 88.5px,#f0822c 112.5px,#e84822 123.5px,#d3311c 130.5px,#b11d14 134.5px,#ac1b13 136.5px,#b51e15 138.5px,#d4311c 141.5px,#eb5625 144.5px,#fae33a 152.5px,#f8ef3d 153.5px,#e4f947 156.5px,#c7f65b 162.5px,#bbf462 171.5px,#bef561 282.5px,#c0f567 283.5px,#e0fab5 284.5px)"></div>
<div style="top:168px;background:linear-gradient(90deg,#ffffff 0.5px,#ffffff 8.5px,#747beb 9.5px,#1423e0 10.5px,#1127e4 11.5px,#1c4ded 13.5px,#2a71f1 15.5px,#368bf4 18.5px,#5cd0f4 37.5px,#6ce7dc 48.5px,#86f1a8 65.5px,#aff36f 71.5px,#daf74f 78.5px,#f2ee3f 87.5px,#f7cc36 98.5px,#f0862d 115.5px,#e94a23 124.5px,#d4311c 129.5px,#ad1b14 132.5px,#991510 134.5px,#94140e 136.5px,#9e1610 138.5px,#c72719 141.5px,#e84b23 144.5px,#f9dd38 152.5px,#f9ec3c 153.5px,#ecf843 155.5px,#c8f65a 162.5px,#bbf462 171.5px,#bef561 282.5px,#c0f567 283.5px,#e0fab5 284.5px)"></div>
<div style="top:169px;background:linear-gradient(90deg,#ffffff 0.5px,#ffffff 8.5px,#a5a8f0 9.5px,#1a24dd 10.5px,#0e1fe1 11.5px,#1636e9 13.5px,#225def 16.5px,#2a72f2 21.5px,#58c9f4 47.5px,#69e3e1 63.5px,#6de7da 65.5px,#83f1ab 69.5px,#99f287 72.5px,#baf465 77.5px,#e7f646 90.5px,#f6e93c 98.5px,#f7c635 106.5px,#f0852d 118.5px,#e84922 125.5px,#d7341d 128.5px,#bd2117 130.5px,#9b1610 132.5px,#88100c 134.5px,#830f0b 136.5px,#8c110d 138.5px,#a71912 140.5px,#cb291a 142.5px,#e34421 144.5px,#ee6828 146.5px,#fae83b 153.5px,#eef742 155.5px,#c9f65a 162.5px,#bcf462 171.5px,#bef561 282.5px,#c0f567 283.5px,#e0fab5 284.5px)"></div>
<div style="top:170px;background:linear-gradient(90deg,#ffffff 0.5px,#ffffff 8.5px,#cdcef5 9.5px,#2329d7 10.5px,#0c19dc 11.5px,#183dea 16.5px,#46a9f6 51.5px,#59caf3 65.5px,#68e3e4 68.5px,#80f0b0 72.5px,#a1f27d 77.5px,#b6f468 82.5px,#ddf84c 94.5px,#f4ee3e 103.5px,#f8d237 109.5px,#f0822d 120.5px,#ec5b26 124.5px,#dd3b1f 127.5px,#c62519 129.5px,#90120d 132.5px,#7d0d09 134.5px,#7b0d09 137.5px,#8c110d 139.5px,#af1c14 141.5px,#d3311c 143.5px,#e94e23 145.5px,#f29d2f 149.5px,#fae63a 153.5px,#f7f13e 154.5px,#e3f948 157.5px,#c9f659 162.5px,#bcf462 170.5px,#bef561 282.5px,#c0f567 283.5px,#e0fab5 284.5px)"></div>
<div style="top:171px;background:linear-gradient(90deg,#ffffff 0.5px,#ffffff 8.5px,#f0f1fc 9.5px,#3236d4 10.5px,#0b14d7 11.5px,#1022e3 14.5px,#1c4aec 33.5px,#3a92f4 61.5px,#419ff5 65.5px,#5cd1f2 69.5px,#6de9db 72.5px,#8ff294 78.5px,#b3f36a 87.5px,#ecf544 105.5px,#f8e53b 110.5px,#ef7c2c 122.5px,#e64622 126.5px,#d12e1c 128.5px,#99150f 131.5px,#7e0e0a 133.5px,#780c08 135.5px,#7c0d09 138.5px,#94140e 140.5px,#bf2217 142.5px,#de3c1f 144.5px,#ec5f27 146.5px,#f29b2f 149.5px,#fae43a 153.5px,#f8f03d 154.5px,#e4f948 157.5px,#caf659 162.5px,#bdf462 170.5px,#bef561 282.5px,#c0f567 283.5px,#e0fab5 284.5px)"></div>
<div style="top:172px;background:linear-gradient(90deg,#ffffff 0.5px,#ffffff 9.5px,#3b3ecf 10.5px,#0a10cf 11.5px,#0b17dc 13.5px,#1636e8 41.5px,#2667f0 64.5px,#296ef1 65.5px,#58c9f5 71.5px,#68e4e7 74.5px,#7cf0b9 78.5px,#9af285 86.5px,#b4f469 94.5px,#eaf644 109.5px,#f6ec3d 112.5px,#f6bc33 117.5px,#ef7c2c 123.5px,#e74822 126.5px,#d12e1c 128.5px,#ac1b13 130.5px,#89110c 132.5px,#7e0e09 133.5px,#780c08 135.5px,#7b0d09 138.5px,#94130e 140.5px,#be2117 142.5px,#dd3c1f 144.5px,#ec5e26 146.5px,#f29a2f 149.5px,#fae33a 153.5px,#f8f03d 154.5px,#e4f947 157.5px,#caf659 162.5px,#bdf561 170.5px,#bef561 282.5px,#c0f567 283.5px,#e0fab5 284.5px)"></div>
<div style="top:173px;background:linear-gradient(90deg,#ffffff 0.5px,#ffffff 9.5px,#3d3fc6 10.5px,#0a0ec3 11.5px,#0b12d3 13.5px,#142ae4 50.5px,#193be9 64.5px,#1b41ea 65.5px,#2d72f1 68.5px,#4eb6f6 72.5px,#61d7f3 75.5px,#6eeade 78.5px,#90f296 88.5px,#bcf464 101.5px,#e6f849 111.5px,#f6ef40 114.5px,#f8d238 117.5px,#f39e32 121.5px,#f0842f 123.5px,#e84d25 126.5px,#c5271b 129.5px,#9e1913 131.5px,#84110d 133.5px,#7a0f0b 135.5px,#80100c 138.5px,#991712 140.5px,#c2261a 142.5px,#df4022 144.5px,#ed6229 146.5px,#f29c31 149.5px,#fae43c 153.5px,#f8f13f 154.5px,#e5fa49 157.5px,#cbf65a 162.5px,#bef563 171.5px,#bff562 282.5px,#c1f568 283.5px,#e1fab5 284.5px)"></div>
<div style="top:174px;background:linear-gradient(90deg,#ffffff 0.5px,#ffffff 9.5px,#6667cc 10.5px,#3d3fc5 11.5px,#3d40d1 13.5px,#4553e9 63.5px,#4656ea 65.5px,#4b67ee 67.5px,#68b0f7 72.5px,#83e0f7 77.5px,#8cefe9 81.5px,#a1f5b6 90.5px,#bef58f 100.5px,#f2f86c 114.5px,#faf168 116.5px,#f4a25c 123.5px,#ee7554 126.5px,#d4574d 129.5px,#ac4844 132.5px,#9a4340 135.5px,#9b4440 137.5px,#a94743 139.5px,#d3564c 142.5px,#ee7755 145.5px,#fade63 152.5px,#f9f469 154.5px,#e6fa73 158.5px,#d4f87f 163.5px,#ccf784 173.5px,#ccf784 282.5px,#cef788 283.5px,#e7fbc5 284.5px)"></div>
<div style="top:175px;background:linear-gradient(90deg,#ffffff 0.5px,#ffffff 284.5px)"></div>
<div style="top:176px;background:linear-gradient(90deg,#f7fef1 0.5px,#edfce5 1.5px,#dff8fd 8.5px,#d1ddfc 16.5px,#d1dafb 49.5px,#d9edfd 91.5px,#e0fbfb 116.5px,#effde1 164.5px,#f3fdde 214.5px,#f4fddf 283.5px,#fafeef 284.5px)"></div>
<div style="top:177px;background:linear-gradient(90deg,#dbfac3 0.5px,#aff48b 1.5px,#97f3a2 3.5px,#7df0de 6.5px,#77eaed 7.5px,#6bd2f9 9.5px,#3d7bf3 14.5px,#376ff2 15.5px,#315aef 40.5px,#315aef 46.5px,#3d7df3 62.5px,#4c9af5 85.5px,#6ed7fa 101.5px,#79f0e8 117.5px,#91f3ab 137.5px,#b8f479 164.5px,#caf66d 177.5px,#cef76a 282.5px,#d0f770 283.5px,#e8fbb9 284.5px)"></div>
<div style="top:178px;background:linear-gradient(90deg,#d8f9bb 0.5px,#a9f37a 1.5px,#9bf283 2.5px,#84f2a5 4.5px,#6aeae6 7.5px,#5ed3f7 9.5px,#2c76f2 14.5px,#2669f1 15.5px,#1f59f0 31.5px,#1c50ee 45.5px,#2c76f2 63.5px,#3b95f4 85.5px,#60d6f9 101.5px,#6beee4 116.5px,#83f2a4 135.5px,#b0f36b 163.5px,#c5f65d 176.5px,#c9f65a 282.5px,#cbf660 283.5px,#e6fbb1 284.5px)"></div>
<div style="top:179px;background:linear-gradient(90deg,#daf9b9 0.5px,#adf375 1.5px,#a0f27d 2.5px,#7ef1b1 5.5px,#6ceddf 7.5px,#66e5ed 8.5px,#58c9f8 10.5px,#3180f3 14.5px,#2a73f2 15.5px,#2263f1 32.5px,#1f5af0 45.5px,#307ff3 64.5px,#3e9cf5 85.5px,#61d8f8 100.5px,#6beee3 115.5px,#82f2a6 133.5px,#b1f36a 163.5px,#c6f65c 176.5px,#c9f65a 282.5px,#cbf660 283.5px,#e5fbb1 284.5px)"></div>
<div style="top:180px;background:linear-gradient(90deg,#dcfab7 0.5px,#b2f371 1.5px,#a5f276 2.5px,#82f2a8 5.5px,#70eed6 7.5px,#68e9e8 8.5px,#5cd1f8 10.5px,#368bf4 14.5px,#307ff3 15.5px,#276cf1 33.5px,#2466f1 46.5px,#3589f3 65.5px,#44a6f6 86.5px,#61d9f8 99.5px,#6beee4 113.5px,#82f2a5 132.5px,#b2f369 163.5px,#c7f65b 176.5px,#c9f65a 282.5px,#cbf660 283.5px,#e5fbb1 284.5px)"></div>
<div style="top:181px;background:linear-gradient(90deg,#dffab5 0.5px,#b8f46c 1.5px,#abf370 2.5px,#87f2a0 5.5px,#6bece1 8.5px,#65e4ef 9.5px,#58c9f8 11.5px,#3c96f4 14.5px,#368bf3 15.5px,#2c76f2 33.5px,#2970f2 46.5px,#3991f4 65.5px,#48adf6 86.5px,#61daf7 98.5px,#6ceee1 112.5px,#83f2a4 131.5px,#b2f369 162.5px,#c9f659 176.5px,#c6f65b 222.5px,#c9f65a 282.5px,#cbf660 283.5px,#e5fbb1 284.5px)"></div>
<div style="top:182px;background:linear-gradient(90deg,#e2fab3 0.5px,#bef568 1.5px,#b1f36a 2.5px,#8bf299 5.5px,#6feed9 8.5px,#68e8ea 9.5px,#5dd1f8 11.5px,#42a2f5 14.5px,#3c97f4 15.5px,#3181f3 33.5px,#2e7af2 46.5px,#3d99f5 65.5px,#4cb4f7 86.5px,#62dbf6 97.5px,#6beee1 110.5px,#84f2a3 130.5px,#b4f367 162.5px,#cbf658 176.5px,#c6f65c 207.5px,#c9f65a 282.5px,#cbf660 283.5px,#e5fbb1 284.5px)"></div>
<div style="top:183px;background:linear-gradient(90deg,#e5fbb2 0.5px,#c4f564 1.5px,#b6f466 2.5px,#9cf281 4.5px,#7bf1b9 7.5px,#6bebe3 9.5px,#61d9f6 11.5px,#42a4f5 15.5px,#368cf4 33.5px,#3385f3 46.5px,#41a2f5 65.5px,#50bcf8 86.5px,#61daf7 95.5px,#6aede6 106.5px,#85f2a1 129.5px,#b3f368 160.5px,#cef756 176.5px,#c6f65c 203.5px,#c9f65a 282.5px,#cbf660 283.5px,#e5fbb1 284.5px)"></div>
<div style="top:184px;background:linear-gradient(90deg,#e6fbb1 0.5px,#c6f663 1.5px,#b9f464 2.5px,#9ff27d 4.5px,#7ff1af 7.5px,#6eeeda 9.5px,#68e9e9 10.5px,#5fd6f7 12.5px,#4ab1f7 15.5px,#3c98f4 33.5px,#388ff4 46.5px,#47abf6 66.5px,#55c3f8 86.5px,#62dcf5 94.5px,#6aeee5 104.5px,#85f2a1 127.5px,#b2f369 158.5px,#d1f754 175.5px,#c6f65c 202.5px,#c9f65a 282.5px,#cbf660 283.5px,#e5fbb1 284.5px)"></div>
<div style="top:185px;background:linear-gradient(90deg,#e5fbb1 0.5px,#c6f663 1.5px,#baf464 2.5px,#a2f279 4.5px,#7bf1b9 8.5px,#6ceddf 10.5px,#63dff3 12.5px,#52bff8 15.5px,#43a6f6 31.5px,#3d9bf5 46.5px,#4cb5f7 67.5px,#59cbf9 86.5px,#65e3f1 95.5px,#6ceee0 103.5px,#87f29e 126.5px,#b1f36a 156.5px,#d5f852 175.5px,#c6f65c 201.5px,#c9f65a 282.5px,#cbf660 283.5px,#e5fbb1 284.5px)"></div>
<div style="top:186px;background:linear-gradient(90deg,#e4fbb2 0.5px,#c4f664 1.5px,#baf463 2.5px,#9bf283 5.5px,#80f1ad 8.5px,#6cece0 11.5px,#63dff3 13.5px,#5acdf8 15.5px,#4bb2f7 31.5px,#44a6f6 46.5px,#54c1f8 70.5px,#5ed3f9 86.5px,#6beee4 99.5px,#87f29d 124.5px,#b0f36a 154.5px,#daf84e 174.5px,#c6f65c 201.5px,#c9f65a 282.5px,#cbf660 283.5px,#e6fbb1 284.5px)"></div>
<div style="top:187px;background:linear-gradient(90deg,#e2fab3 0.5px,#c2f565 1.5px,#baf463 2.5px,#a0f27c 5.5px,#7ff1ae 9.5px,#6cecdf 12.5px,#64e0f1 14.5px,#5ed3f8 18.5px,#4bb3f7 42.5px,#4db5f7 49.5px,#5ed3f9 80.5px,#64e2f1 90.5px,#6beee2 97.5px,#7bf1b7 111.5px,#8ff293 127.5px,#b1f369 153.5px,#e1f949 174.5px,#d8f84f 183.5px,#c6f65b 200.5px,#c9f65a 282.5px,#cbf660 283.5px,#e6fbb1 284.5px)"></div>
<div style="top:188px;background:linear-gradient(90deg,#ddfab7 0.5px,#bef569 1.5px,#baf463 2.5px,#a5f275 5.5px,#80f1ac 10.5px,#69e9e6 14.5px,#65e3ef 16.5px,#5acbf9 32.5px,#52bff8 46.5px,#60d7f8 74.5px,#65e4f0 88.5px,#6ceee0 95.5px,#77f0c3 103.5px,#8df296 122.5px,#b5f367 153.5px,#e5f947 172.5px,#e7f946 178.5px,#c9f659 196.5px,#c9f65a 282.5px,#cbf660 283.5px,#e6fbb1 284.5px)"></div>
<div style="top:189px;background:linear-gradient(90deg,#d2f9c5 0.5px,#b0f477 1.5px,#b7f466 2.5px,#b1f36a 4.5px,#91f291 9.5px,#7df1b4 12.5px,#6deddc 15.5px,#66e5ee 22.5px,#5cd0f8 40.5px,#5bcef9 48.5px,#66e5ef 85.5px,#6eefdb 93.5px,#7bf1b7 103.5px,#96f28a 125.5px,#b9f464 153.5px,#eaf844 171.5px,#eef742 177.5px,#dcf94c 186.5px,#c8f65a 198.5px,#c9f65a 282.5px,#cbf65f 283.5px,#e6fbb1 284.5px)"></div>
<div style="top:190px;background:linear-gradient(90deg,#c3f6de 0.5px,#96f09e 1.5px,#aaf376 2.5px,#b4f369 3.5px,#a9f270 6.5px,#8ff294 11.5px,#78f0c0 15.5px,#6deddd 22.5px,#65e3f0 33.5px,#61d9f6 47.5px,#69ebe7 85.5px,#7bf1b9 98.5px,#8af29b 111.5px,#aef36c 142.5px,#c4f55d 156.5px,#edf743 169.5px,#f5f43f 176.5px,#e3f948 186.5px,#cef756 194.5px,#c6f65b 206.5px,#c9f65a 282.5px,#cbf65f 283.5px,#e6fbb1 284.5px)"></div>
<div style="top:191px;background:linear-gradient(90deg,#cef3f6 0.5px,#89e7d4 1.5px,#8feda4 2.5px,#a4f27d 3.5px,#aef36d 4.5px,#abf26e 7.5px,#9bf282 11.5px,#83f1a8 16.5px,#70eed6 28.5px,#67e7eb 39.5px,#66e5ed 51.5px,#6ceedf 80.5px,#70efd6 86.5px,#85f2a2 101.5px,#abf26e 134.5px,#c6f65b 155.5px,#edf743 166.5px,#f9ec3c 172.5px,#f9eb3c 177.5px,#e8f945 186.5px,#d0f754 194.5px,#c6f65b 205.5px,#c9f659 282.5px,#cbf65f 283.5px,#e6fbb1 284.5px)"></div>
<div style="top:192px;background:linear-gradient(90deg,#ffffff 0.5px,#def6f9 1.5px,#87e2dd 2.5px,#85e9b3 3.5px,#99f08c 4.5px,#a6f277 5.5px,#adf36c 7.5px,#a7f273 11.5px,#8ef295 18.5px,#73efce 35.5px,#6cece0 45.5px,#71efd1 74.5px,#78f0c1 86.5px,#8ef295 101.5px,#b1f36a 131.5px,#d0f755 156.5px,#eef743 164.5px,#f9e73a 169.5px,#f9d737 174.5px,#f9de39 178.5px,#f3f540 184.5px,#d5f852 193.5px,#c7f65b 204.5px,#c9f659 282.5px,#cbf65f 283.5px,#e6fbb1 284.5px)"></div>
<div style="top:193px;background:linear-gradient(90deg,#ffffff 0.5px,#ffffff 1.5px,#ddf4fb 2.5px,#7fdae7 3.5px,#78e3c8 4.5px,#8aeea4 5.5px,#9af188 6.5px,#a5f278 7.5px,#aff36c 9.5px,#adf36e 13.5px,#82f1aa 33.5px,#76f0c4 45.5px,#7af1bb 72.5px,#81f1aa 86.5px,#9bf283 103.5px,#baf464 129.5px,#dbf84e 157.5px,#f2f540 163.5px,#f9e039 167.5px,#f7c735 172.5px,#f6c434 176.5px,#f9dc38 181.5px,#f6f33e 185.5px,#dcf94d 192.5px,#caf659 200.5px,#c7f65a 233.5px,#c9f659 282.5px,#cbf65f 283.5px,#e6fbb1 284.5px)"></div>
<div style="top:194px;background:linear-gradient(90deg,#ffffff 0.5px,#ffffff 2.5px,#daf1fc 3.5px,#73ceef 4.5px,#6adbdc 5.5px,#7aeabf 6.5px,#8af0a1 7.5px,#98f28a 8.5px,#aaf372 10.5px,#b3f368 13.5px,#aaf372 22.5px,#87f2a0 42.5px,#84f2a6 53.5px,#86f2a1 73.5px,#90f292 87.5px,#aaf371 105.5px,#e2f849 152.5px,#ecf743 160.5px,#f8ed3c 163.5px,#f5ba33 170.5px,#f4af31 174.5px,#f5b832 178.5px,#f9da38 183.5px,#f8f13d 186.5px,#e0f94a 192.5px,#cef756 198.5px,#c7f65b 209.5px,#c9f659 282.5px,#cbf65f 283.5px,#e6fbb1 284.5px)"></div>
<div style="top:195px;background:linear-gradient(90deg,#ffffff 0.5px,#ffffff 3.5px,#bcdffb 4.5px,#61bef4 5.5px,#5fd1ea 6.5px,#6ee4d6 7.5px,#88f1a5 9.5px,#9df283 11.5px,#b0f36c 14.5px,#bcf462 20.5px,#abf371 32.5px,#98f288 46.5px,#96f28a 71.5px,#a2f27a 88.5px,#bef561 107.5px,#ebf444 144.5px,#f8ec3c 161.5px,#f9de39 163.5px,#f4b131 168.5px,#f39e30 172.5px,#f39e30 176.5px,#f4b131 180.5px,#f9ef3d 187.5px,#e5f947 192.5px,#d2f754 197.5px,#c7f65b 207.5px,#c9f659 282.5px,#cbf65f 283.5px,#e6fbb1 284.5px)"></div>
<div style="top:196px;background:linear-gradient(90deg,#ffffff 0.5px,#ffffff 4.5px,#a4cffa 5.5px,#54b0f5 6.5px,#58c7f1 7.5px,#65dde6 8.5px,#70e9d4 9.5px,#8df29a 12.5px,#a4f279 15.5px,#baf464 19.5px,#c7f65b 25.5px,#bef562 35.5px,#aef36f 49.5px,#aaf372 71.5px,#b9f465 89.5px,#e8f446 123.5px,#f6dc3a 145.5px,#f7cb36 159.5px,#f8d236 162.5px,#f39e30 168.5px,#f18a2e 172.5px,#f18a2d 176.5px,#f39f30 180.5px,#f8ce36 185.5px,#f9ee3c 188.5px,#e9f945 192.5px,#d3f852 197.5px,#c7f65b 207.5px,#c9f659 282.5px,#cbf65f 283.5px,#e6fbb1 284.5px)"></div>
<div style="top:197px;background:linear-gradient(90deg,#ffffff 0.5px,#ffffff 4.5px,#f3f8fe 5.5px,#74adf7 6.5px,#46a2f5 7.5px,#5ed4f0 9.5px,#68e3e5 10.5px,#78efc3 12.5px,#8ff296 15.5px,#aaf372 19.5px,#c6f65c 25.5px,#d3f753 32.5px,#c2f55e 69.5px,#d5f652 90.5px,#eeec41 111.5px,#f6c535 134.5px,#f3a130 155.5px,#f3a230 160.5px,#f5b232 162.5px,#f5b432 163.5px,#f07d2c 170.5px,#ee702a 174.5px,#ef782b 177.5px,#f3a030 182.5px,#f9ef3c 189.5px,#e8f945 193.5px,#d2f753 198.5px,#c7f65b 207.5px,#c9f659 282.5px,#cbf65f 283.5px,#e6fbb1 284.5px)"></div>
<div style="top:198px;background:linear-gradient(90deg,#ffffff 0.5px,#ffffff 5.5px,#c4d6fb 6.5px,#4588f3 7.5px,#3e98f4 8.5px,#4cb4f6 9.5px,#59cbf5 10.5px,#68e5e5 12.5px,#7cf0b9 15.5px,#90f293 18.5px,#aaf372 23.5px,#d2f753 32.5px,#e1f949 41.5px,#e1f64a 60.5px,#e1f44a 72.5px,#efe83f 92.5px,#f5bd34 115.5px,#ee752a 150.5px,#ec6e29 159.5px,#ed7229 160.5px,#f1912e 163.5px,#f1912e 165.5px,#ec5f27 171.5px,#eb5725 174.5px,#ed6127 177.5px,#f1902e 182.5px,#f8f03d 190.5px,#e0f94a 195.5px,#cff755 200.5px,#c7f65b 210.5px,#c9f659 282.5px,#cbf65f 283.5px,#e6fbb1 284.5px)"></div>
<div style="top:199px;background:linear-gradient(90deg,#ffffff 0.5px,#ffffff 6.5px,#7095f4 7.5px,#3276f1 8.5px,#398ff4 9.5px,#52bff6 11.5px,#62dcef 13.5px,#73eece 16.5px,#83f1a9 19.5px,#98f287 24.5px,#c1f55f 33.5px,#e4f848 43.5px,#f5f43f 54.5px,#f5de3a 76.5px,#f0852d 122.5px,#e95024 148.5px,#e14621 159.5px,#e44e23 161.5px,#ed7029 165.5px,#ee702a 166.5px,#e94f24 170.5px,#e34421 173.5px,#e54722 176.5px,#ec5b26 179.5px,#faea3b 190.5px,#f2f540 192.5px,#d5f851 198.5px,#c7f65a 207.5px,#c9f659 282.5px,#cbf65f 283.5px,#e6fbb1 284.5px)"></div>
<div style="top:200px;background:linear-gradient(90deg,#ffffff 0.5px,#ffffff 6.5px,#d0d8fb 7.5px,#3760ee 8.5px,#2868f0 9.5px,#409ef5 11.5px,#55c4f7 13.5px,#62dcf1 15.5px,#6fecd7 18.5px,#80f1b0 23.5px,#a9f374 34.5px,#d6f752 45.5px,#f2f441 56.5px,#f8da38 70.5px,#f4ae31 91.5px,#ee6c29 127.5px,#e74722 147.5px,#db3a1f 161.5px,#de4120 164.5px,#e75023 167.5px,#d8361e 172.5px,#d7341d 175.5px,#e24221 178.5px,#ed6027 181.5px,#f9ee3c 191.5px,#ecf844 194.5px,#d4f852 199.5px,#c7f65a 208.5px,#c9f659 282.5px,#cbf65f 283.5px,#e6fbb1 284.5px)"></div>
<div style="top:201px;background:linear-gradient(90deg,#ffffff 0.5px,#ffffff 7.5px,#6377ef 8.5px,#2048eb 9.5px,#2360ef 10.5px,#3a92f4 12.5px,#56c6f7 15.5px,#64e0ef 18.5px,#71edd3 24.5px,#9cf285 38.5px,#c2f560 49.5px,#e8f246 63.5px,#f4db3a 76.5px,#ea4c23 144.5px,#d7351d 165.5px,#db3a1f 168.5px,#c42519 173.5px,#ca291a 176.5px,#e44521 180.5px,#ee702a 183.5px,#fae83b 191.5px,#f2f540 193.5px,#d5f852 199.5px,#c8f65a 208.5px,#c9f659 282.5px,#cbf65f 283.5px,#e6fbb1 284.5px)"></div>
<div style="top:202px;background:linear-gradient(90deg,#ffffff 0.5px,#ffffff 7.5px,#bac0f7 8.5px,#263de7 9.5px,#193eea 10.5px,#3588f3 13.5px,#47abf6 15.5px,#58c9f7 18.5px,#65e0ec 25.5px,#74edcb 33.5px,#94f290 45.5px,#b3f46d 57.5px,#d5f452 70.5px,#eee33f 90.5px,#f5b933 107.5px,#f0802c 129.5px,#e64722 153.5px,#d5321d 166.5px,#d12e1c 168.5px,#b01c14 172.5px,#ab1a13 174.5px,#b41e15 176.5px,#d2301c 179.5px,#ea5124 182.5px,#f3a530 187.5px,#f9ef3c 192.5px,#ebf844 195.5px,#d3f753 200.5px,#c8f65a 209.5px,#c9f659 282.5px,#cbf65f 283.5px,#e6fbb1 284.5px)"></div>
<div style="top:203px;background:linear-gradient(90deg,#ffffff 0.5px,#ffffff 7.5px,#f1f2fd 8.5px,#3c49e6 9.5px,#142be5 10.5px,#173bea 11.5px,#276bf1 13.5px,#388ff4 15.5px,#47acf6 18.5px,#5fd6f2 30.5px,#6ee9da 39.5px,#8df19b 56.5px,#abf375 69.5px,#d9f34f 94.5px,#f0e53e 106.5px,#f5b933 119.5px,#ed6828 149.5px,#e54622 158.5px,#d8351d 163.5px,#d02d1b 167.5px,#bb2016 169.5px,#a11711 171.5px,#95140f 173.5px,#96140f 175.5px,#a81a13 177.5px,#d2301c 180.5px,#eb5625 183.5px,#f39e30 187.5px,#faeb3b 192.5px,#f1f641 194.5px,#d4f852 200.5px,#c8f65a 209.5px,#c9f659 282.5px,#cbf65f 283.5px,#e6fbb1 284.5px)"></div>
<div style="top:204px;background:linear-gradient(90deg,#ffffff 0.5px,#ffffff 8.5px,#747beb 9.5px,#1524e1 10.5px,#1229e5 11.5px,#2464f0 14.5px,#307ef3 16.5px,#3990f4 19.5px,#5bcff4 38.5px,#6ce7dc 51.5px,#7beebc 62.5px,#93f293 77.5px,#acf373 92.5px,#e3f349 110.5px,#f4e33c 118.5px,#f3a330 139.5px,#f0842d 149.5px,#eb5224 158.5px,#df3e20 161.5px,#d22f1c 166.5px,#ca281a 167.5px,#9b1610 170.5px,#88100c 172.5px,#830f0b 174.5px,#8c110d 176.5px,#a61912 178.5px,#c9281a 180.5px,#e94e23 183.5px,#f2982f 187.5px,#fae83b 192.5px,#f7f23e 193.5px,#dcf94d 198.5px,#cbf658 205.5px,#c9f659 282.5px,#cbf65f 283.5px,#e6fbb1 284.5px)"></div>
<div style="top:205px;background:linear-gradient(90deg,#ffffff 0.5px,#ffffff 8.5px,#a5a8f0 9.5px,#1a25dd 10.5px,#0f20e1 11.5px,#1638e9 13.5px,#1f55ee 15.5px,#2566f0 17.5px,#50bbf6 44.5px,#63dbea 61.5px,#76ecc8 78.5px,#83f0ad 90.5px,#aef370 104.5px,#e7f447 120.5px,#f5e03b 131.5px,#f39e30 149.5px,#ee6c29 157.5px,#e84a23 160.5px,#cf2c1b 166.5px,#c32418 167.5px,#8f120d 170.5px,#7d0d09 172.5px,#7b0d09 175.5px,#8b110c 177.5px,#ac1b14 179.5px,#d12e1c 181.5px,#e74922 183.5px,#f3a530 188.5px,#fae53a 192.5px,#f8f13d 193.5px,#e3f948 197.5px,#d2f753 201.5px,#c8f65a 210.5px,#c9f659 282.5px,#cbf65f 283.5px,#e6fbb1 284.5px)"></div>
<div style="top:206px;background:linear-gradient(90deg,#ffffff 0.5px,#ffffff 8.5px,#cccdf5 9.5px,#2128d8 10.5px,#0c19dd 11.5px,#183eeb 16.5px,#3a93f4 45.5px,#5acdf2 73.5px,#69e2e0 90.5px,#7ff0b5 99.5px,#a8f376 111.5px,#cef656 121.5px,#edf042 135.5px,#f7d538 144.5px,#f6c234 148.5px,#f07f2c 157.5px,#e74922 161.5px,#cd2a1b 166.5px,#be2117 167.5px,#97140f 169.5px,#7e0e09 171.5px,#780c08 173.5px,#7b0d09 176.5px,#93130e 178.5px,#ce2b1b 181.5px,#e54622 183.5px,#f0812c 186.5px,#fae43a 192.5px,#f9f03d 193.5px,#e3f948 197.5px,#d2f753 201.5px,#c8f65a 210.5px,#c9f659 282.5px,#cbf65f 283.5px,#e6fbb1 284.5px)"></div>
<div style="top:207px;background:linear-gradient(90deg,#ffffff 0.5px,#ffffff 8.5px,#e1e1f8 9.5px,#2c30d3 10.5px,#0b14d8 11.5px,#1023e3 14.5px,#1f53ee 37.5px,#42a1f5 74.5px,#52bef4 90.5px,#64dcea 97.5px,#75edca 104.5px,#9ff27f 116.5px,#b3f46b 121.5px,#e8f546 141.5px,#f5e83d 147.5px,#f7d137 150.5px,#f1912e 157.5px,#ea5124 161.5px,#d9361e 164.5px,#cc291a 166.5px,#bd2117 167.5px,#96140f 169.5px,#7d0d09 171.5px,#780c08 174.5px,#7b0d09 176.5px,#92130e 178.5px,#cd2b1b 181.5px,#e54622 183.5px,#f0802c 186.5px,#fae33a 192.5px,#f9f03d 193.5px,#e4f948 197.5px,#d3f753 201.5px,#c8f65a 210.5px,#c9f659 282.5px,#cbf65f 283.5px,#e6fbb1 284.5px)"></div>
<div style="top:208px;background:linear-gradient(90deg,#ffffff 0.5px,#ffffff 9.5px,#3a3ccf 10.5px,#0a10d0 11.5px,#0b18dd 13.5px,#183dea 48.5px,#2055ed 63.5px,#388df3 90.5px,#5acdf3 101.5px,#6ae5e2 107.5px,#82f1ac 115.5px,#96f28b 120.5px,#c4f55d 137.5px,#ebf544 148.5px,#f7e53b 151.5px,#f3a130 157.5px,#e84a23 162.5px,#cb281a 166.5px,#bf2117 167.5px,#8c110d 170.5px,#7b0d09 172.5px,#7a0c08 175.5px,#88100c 177.5px,#a91a13 179.5px,#cf2d1b 181.5px,#e64722 183.5px,#f2932f 187.5px,#fae43a 192.5px,#f9f03d 193.5px,#e4f948 197.5px,#d3f753 201.5px,#c9f65a 210.5px,#c9f659 282.5px,#cbf65f 283.5px,#e6fbb1 284.5px)"></div>
<div style="top:209px;background:linear-gradient(90deg,#ffffff 0.5px,#ffffff 9.5px,#3c3dc6 10.5px,#080cc4 11.5px,#0910d3 13.5px,#1024e2 52.5px,#1534e7 69.5px,#2157ee 90.5px,#59caf5 107.5px,#67e2e8 112.5px,#76eec8 117.5px,#82f1ac 121.5px,#a9f374 136.5px,#cbf658 143.5px,#ecf743 150.5px,#f9e83c 153.5px,#f4b232 157.5px,#ea5124 162.5px,#d22f1c 165.5px,#c02118 167.5px,#95140f 170.5px,#830f0b 172.5px,#7e0e0a 174.5px,#87100c 176.5px,#a01711 178.5px,#c62619 180.5px,#e84c23 183.5px,#f2962f 187.5px,#fae63a 192.5px,#f8f13e 193.5px,#ddf94c 198.5px,#ccf658 205.5px,#c9f65a 282.5px,#cbf760 283.5px,#e6fbb1 284.5px)"></div>
<div style="top:210px;background:linear-gradient(90deg,#ffffff 0.5px,#ffffff 9.5px,#4e4fc4 10.5px,#1f21bc 11.5px,#1e22c9 13.5px,#232cdb 51.5px,#2a40e8 87.5px,#2d48ea 91.5px,#3b73f1 98.5px,#6dd6f6 113.5px,#79ebe6 118.5px,#8ef3b5 129.5px,#9bf39e 135.5px,#bcf577 141.5px,#f0f855 151.5px,#f8f351 153.5px,#fadf4c 155.5px,#f3a344 159.5px,#ed683b 162.5px,#df4e35 164.5px,#c2362e 167.5px,#a42d28 170.5px,#952925 174.5px,#9e2b26 176.5px,#b5322b 178.5px,#dd4b35 181.5px,#ec623a 183.5px,#f5b245 188.5px,#fbea4e 192.5px,#f4f653 194.5px,#d9f863 200.5px,#cff76a 209.5px,#cff76a 282.5px,#d1f76f 283.5px,#e8fbb9 284.5px)"></div>
<div style="top:211px;background:linear-gradient(90deg,#ffffff 0.5px,#ffffff 9.5px,#d7d7f1 10.5px,#ccccee 11.5px,#cfd4fa 93.5px,#e0fafb 119.5px,#eafce6 138.5px,#fefbd7 154.5px,#f8d7d1 164.5px,#eacfce 171.5px,#edd0cf 177.5px,#fbe0d3 184.5px,#fdfcd8 193.5px,#f4fddd 209.5px,#f4fdde 283.5px,#fafeef 284.5px)"></div>
<div style="top:213px;background:linear-gradient(90deg,#c4f9d6 0.5px,#81f2b8 1.5px,#6cece0 3.5px,#66e4ee 4.5px,#58c9f8 6.5px,#46aaf6 8.5px,#1b4aed 18.5px,#1739ea 20.5px,#1d53ef 52.5px,#2b75f2 81.5px,#51bdf8 103.5px,#62daf7 116.5px,#6beee2 130.5px,#89f29b 150.5px,#aaf26f 168.5px,#c7f65b 192.5px,#cef756 282.5px,#d0f75c 283.5px,#e8fbb0 284.5px)"></div>
<div style="top:214px;background:linear-gradient(90deg,#c7f9d1 0.5px,#86f2ad 1.5px,#70eed6 3.5px,#68e9e8 4.5px,#5dd1f8 6.5px,#4bb2f7 8.5px,#1e57ef 18.5px,#1a46ec 20.5px,#1f5bf0 51.5px,#2e7bf2 81.5px,#54c1f8 103.5px,#62dbf6 115.5px,#6aeee4 128.5px,#89f29c 149.5px,#aaf26e 168.5px,#c7f65a 192.5px,#cef756 282.5px,#d0f75c 283.5px,#e8fbb0 284.5px)"></div>
<div style="top:215px;background:linear-gradient(90deg,#cbf9cc 0.5px,#8df2a0 1.5px,#7ff1b0 2.5px,#6decde 4.5px,#66e5ed 5.5px,#59caf8 7.5px,#45a8f6 10.5px,#1d55ef 20.5px,#2364f1 50.5px,#3283f3 81.5px,#58c9f9 104.5px,#63def4 115.5px,#6beee2 127.5px,#8af299 149.5px,#aaf26e 167.5px,#c8f65a 192.5px,#cef756 282.5px,#d0f75c 283.5px,#e8fbb0 284.5px)"></div>
<div style="top:216px;background:linear-gradient(90deg,#cff9c6 0.5px,#96f293 1.5px,#87f2a0 2.5px,#6aeae5 5.5px,#64e0f1 6.5px,#57c6f8 8.5px,#2d79f2 17.5px,#2363f1 20.5px,#276cf1 48.5px,#368bf4 81.5px,#5ccff9 104.5px,#68ece9 122.5px,#8cf297 149.5px,#abf26d 167.5px,#c8f65a 193.5px,#cef756 282.5px,#d0f75c 283.5px,#e8fbb0 284.5px)"></div>
<div style="top:217px;background:linear-gradient(90deg,#d4f9bf 0.5px,#a0f385 1.5px,#91f292 2.5px,#6eedda 5.5px,#67e6eb 6.5px,#5cd0f8 8.5px,#2f7df3 18.5px,#2970f2 20.5px,#2a73f2 45.5px,#3a94f4 81.5px,#5fd4f9 104.5px,#6aeee5 122.5px,#8bf299 147.5px,#adf26c 167.5px,#caf659 194.5px,#caf658 221.5px,#cef756 282.5px,#d0f75c 283.5px,#e8fbaf 284.5px)"></div>
<div style="top:218px;background:linear-gradient(90deg,#daf9b9 0.5px,#acf378 1.5px,#9bf283 2.5px,#7ef1b2 4.5px,#6aebe3 6.5px,#65e2f0 7.5px,#5cd0f9 9.5px,#307ef3 20.5px,#2f7cf2 42.5px,#3d99f5 80.5px,#60d7f8 103.5px,#6aeee5 120.5px,#8bf298 146.5px,#adf26c 166.5px,#ccf658 195.5px,#cdf757 217.5px,#cef756 282.5px,#d0f75c 283.5px,#e8fbaf 284.5px)"></div>
<div style="top:219px;background:linear-gradient(90deg,#e0fab5 0.5px,#b7f46e 1.5px,#a4f278 2.5px,#78f0c0 5.5px,#6feed9 6.5px,#68e8ea 7.5px,#61d9f7 9.5px,#368cf4 20.5px,#3487f3 40.5px,#41a2f5 80.5px,#62daf7 102.5px,#6beee4 118.5px,#8af29a 144.5px,#aef36b 166.5px,#cef756 196.5px,#d0f755 215.5px,#cbf658 239.5px,#cef756 282.5px,#d0f75c 283.5px,#e8fbaf 284.5px)"></div>
<div style="top:220px;background:linear-gradient(90deg,#e4fbb2 0.5px,#bef568 1.5px,#aaf371 2.5px,#7df1b4 5.5px,#6bece1 7.5px,#66e6ed 8.5px,#5cd0f8 12.5px,#3e9bf5 20.5px,#3992f4 38.5px,#41a1f5 68.5px,#48adf6 81.5px,#62daf7 99.5px,#6beee2 116.5px,#8af29a 142.5px,#aef36b 165.5px,#d2f753 198.5px,#d2f753 215.5px,#cbf658 235.5px,#cef756 282.5px,#d0f75c 283.5px,#e8fbaf 284.5px)"></div>
<div style="top:221px;background:linear-gradient(90deg,#e4fbb2 0.5px,#c0f567 1.5px,#adf36e 2.5px,#82f1a9 5.5px,#70efd5 7.5px,#6aebe4 8.5px,#61dbf5 12.5px,#46abf6 20.5px,#3f9ef5 36.5px,#43a4f5 58.5px,#4db6f7 81.5px,#61daf7 96.5px,#6beee2 113.5px,#88f29d 139.5px,#b0f36a 165.5px,#d6f851 200.5px,#d5f851 215.5px,#cbf658 234.5px,#cef756 282.5px,#d0f75c 283.5px,#e8fbaf 284.5px)"></div>
<div style="top:222px;background:linear-gradient(90deg,#e3fbb3 0.5px,#c0f567 1.5px,#b0f36b 2.5px,#88f29f 5.5px,#70efd5 8.5px,#67e8eb 11.5px,#5accf8 17.5px,#4fb9f7 21.5px,#46aaf6 37.5px,#49aff6 59.5px,#53bff8 81.5px,#62dcf5 94.5px,#6ceee1 110.5px,#89f29c 137.5px,#b1f369 164.5px,#ddf94c 204.5px,#d6f851 217.5px,#cbf658 234.5px,#cef756 282.5px,#d0f75c 283.5px,#e8fbaf 284.5px)"></div>
<div style="top:223px;background:linear-gradient(90deg,#e2fab4 0.5px,#bff567 1.5px,#b2f369 2.5px,#85f2a3 6.5px,#74f0cc 9.5px,#69e9e8 13.5px,#5cd0f8 19.5px,#51bdf8 29.5px,#4db6f7 48.5px,#58c9f9 81.5px,#64e1f1 94.5px,#6eefdc 108.5px,#88f29c 134.5px,#b2f369 163.5px,#cff755 188.5px,#e5f947 206.5px,#daf84e 217.5px,#cbf658 233.5px,#cef756 282.5px,#d0f75c 283.5px,#e8fbaf 284.5px)"></div>
<div style="top:224px;background:linear-gradient(90deg,#defab7 0.5px,#bdf569 1.5px,#b5f367 2.5px,#97f288 5.5px,#80f1ac 8.5px,#6bebe2 15.5px,#62dbf4 20.5px,#56c6f8 36.5px,#55c3f8 54.5px,#5fd5f8 82.5px,#6beee3 100.5px,#8af29a 132.5px,#b1f369 161.5px,#d0f755 187.5px,#ebf844 205.5px,#e5f947 214.5px,#cef756 228.5px,#cdf757 262.5px,#cef756 282.5px,#d0f75c 283.5px,#e8fbaf 284.5px)"></div>
<div style="top:225px;background:linear-gradient(90deg,#d4f9c2 0.5px,#b2f474 1.5px,#b5f467 2.5px,#a8f272 4.5px,#87f2a0 9.5px,#6aeae4 19.5px,#63ddf4 27.5px,#5bcff9 47.5px,#63ddf4 82.5px,#6beee2 96.5px,#88f29d 126.5px,#b2f369 159.5px,#d3f753 187.5px,#f1f641 203.5px,#eef743 213.5px,#d1f754 227.5px,#ccf658 241.5px,#cef756 282.5px,#d0f75c 283.5px,#e8fbaf 284.5px)"></div>
<div style="top:226px;background:linear-gradient(90deg,#c6f7d9 0.5px,#9bf195 1.5px,#acf372 2.5px,#b1f36a 3.5px,#a2f27a 6.5px,#90f293 10.5px,#7af1bb 17.5px,#70eed5 21.5px,#67e6ec 29.5px,#61daf6 48.5px,#66e5ef 82.5px,#6eefd9 94.5px,#84f2a4 117.5px,#b2f369 156.5px,#d5f851 187.5px,#f4f43f 201.5px,#f5f43f 212.5px,#dff94a 221.5px,#cdf757 232.5px,#cef756 282.5px,#d0f75c 283.5px,#e8fbaf 284.5px)"></div>
<div style="top:227px;background:linear-gradient(90deg,#cef5f3 0.5px,#87e8cb 1.5px,#93ee99 2.5px,#a7f278 3.5px,#adf36d 4.5px,#a4f276 7.5px,#89f29e 17.5px,#72efd1 27.5px,#69e9e8 37.5px,#65e4ef 55.5px,#6aece5 82.5px,#82f2a8 108.5px,#b2f369 152.5px,#cdf757 177.5px,#dbf84e 188.5px,#f7f23e 199.5px,#fae63a 207.5px,#f3f540 216.5px,#d5f851 227.5px,#ccf658 238.5px,#cef756 282.5px,#d0f75c 283.5px,#e8fbaf 284.5px)"></div>
<div style="top:228px;background:linear-gradient(90deg,#ffffff 0.5px,#b9ebf3 1.5px,#7fe1d3 2.5px,#8aeba7 3.5px,#9df185 4.5px,#a7f275 5.5px,#a8f271 7.5px,#9bf282 16.5px,#79f0bd 30.5px,#6eeeda 41.5px,#6bece2 56.5px,#6fefd7 80.5px,#86f2a1 104.5px,#b3f368 147.5px,#d1f754 175.5px,#dff94b 188.5px,#f8f13d 197.5px,#f9d637 204.5px,#f8d537 209.5px,#f6f33e 217.5px,#d9f84f 226.5px,#ccf757 237.5px,#cef756 282.5px,#d0f75c 283.5px,#e8fbaf 284.5px)"></div>
<div style="top:229px;background:linear-gradient(90deg,#ffffff 0.5px,#ffffff 1.5px,#b5e5f6 2.5px,#75d8e0 3.5px,#7be6be 4.5px,#8def9e 5.5px,#99f188 6.5px,#a4f277 8.5px,#aaf26f 12.5px,#a3f278 19.5px,#82f1ab 34.5px,#76f0c5 45.5px,#74f0cb 60.5px,#79f1bd 81.5px,#8ff293 103.5px,#b5f367 141.5px,#d9f84f 175.5px,#e7f946 189.5px,#f9f03d 195.5px,#f7c935 202.5px,#f6c033 207.5px,#f7cd35 212.5px,#f8f13d 218.5px,#dcf94d 226.5px,#cdf757 236.5px,#cef756 282.5px,#d0f75c 283.5px,#e8fbaf 284.5px)"></div>
<div style="top:230px;background:linear-gradient(90deg,#ffffff 0.5px,#ffffff 2.5px,#b1dff9 3.5px,#6bceec 4.5px,#6cdfd7 5.5px,#7aebbe 6.5px,#90f196 8.5px,#9ef27f 10.5px,#abf26e 14.5px,#aef36d 21.5px,#86f2a2 42.5px,#7ff1af 56.5px,#84f2a6 79.5px,#a3f278 112.5px,#def94b 168.5px,#f0f641 190.5px,#faed3c 194.5px,#f6c134 200.5px,#f4af31 205.5px,#f5b332 210.5px,#f8ce36 215.5px,#f9ee3c 219.5px,#e4f948 225.5px,#d3f753 231.5px,#ccf757 242.5px,#cef756 282.5px,#d0f75c 283.5px,#e8fbaf 284.5px)"></div>
<div style="top:231px;background:linear-gradient(90deg,#ffffff 0.5px,#ffffff 3.5px,#acd9fa 4.5px,#60c1f3 5.5px,#60d4ea 6.5px,#6ce4db 7.5px,#7ff0b4 9.5px,#8ef297 11.5px,#9ff27e 14.5px,#b0f36b 19.5px,#b6f466 25.5px,#93f28e 47.5px,#8ff294 64.5px,#97f289 83.5px,#b4f468 114.5px,#edf643 170.5px,#f9eb3c 192.5px,#fae039 194.5px,#f5b632 199.5px,#f39f30 204.5px,#f29c2f 208.5px,#f4b031 213.5px,#f9d938 218.5px,#f8f23d 221.5px,#dbf94d 228.5px,#ccf757 238.5px,#cef756 282.5px,#d0f75c 283.5px,#e8fbaf 284.5px)"></div>
<div style="top:232px;background:linear-gradient(90deg,#ffffff 0.5px,#ffffff 4.5px,#84bef8 5.5px,#51b1f5 6.5px,#62dbeb 8.5px,#72ecd0 10.5px,#85f1a5 13.5px,#9bf284 17.5px,#b5f467 23.5px,#c0f55f 29.5px,#a4f278 52.5px,#a6f377 76.5px,#e9f545 149.5px,#f7e23a 174.5px,#f8d236 193.5px,#f2942f 202.5px,#f0872d 206.5px,#f18e2e 210.5px,#f4af31 215.5px,#f8f13d 222.5px,#def94b 228.5px,#cdf756 237.5px,#cef756 282.5px,#d0f75c 283.5px,#e8fbaf 284.5px)"></div>
<div style="top:233px;background:linear-gradient(90deg,#ffffff 0.5px,#ffffff 4.5px,#f1f7fe 5.5px,#5fa1f6 6.5px,#45a2f5 7.5px,#5bd0f3 9.5px,#69e6e4 11.5px,#7ef1b2 15.5px,#92f28f 19.5px,#b1f36b 25.5px,#c7f65b 31.5px,#caf659 38.5px,#baf464 56.5px,#c0f560 80.5px,#e9f345 127.5px,#f6de3a 151.5px,#f4b132 186.5px,#f4b031 195.5px,#f39e30 198.5px,#ef7b2b 203.5px,#ee712a 207.5px,#ef792b 210.5px,#f39f30 215.5px,#f8d437 220.5px,#faeb3b 222.5px,#f4f53f 224.5px,#d7f850 231.5px,#ccf757 241.5px,#cef756 282.5px,#d0f75c 283.5px,#e8fbaf 284.5px)"></div>
<div style="top:234px;background:linear-gradient(90deg,#ffffff 0.5px,#ffffff 5.5px,#b1cbfa 6.5px,#4288f3 7.5px,#3d98f4 8.5px,#55c4f6 10.5px,#63def0 12.5px,#70edd5 15.5px,#86f2a2 20.5px,#aef36e 28.5px,#d0f755 36.5px,#d7f850 44.5px,#d8f750 74.5px,#efec40 109.5px,#f6c635 140.5px,#f2942e 175.5px,#f0882d 189.5px,#f18f2e 197.5px,#ef7c2c 200.5px,#ec5f27 204.5px,#eb5925 207.5px,#ed6227 210.5px,#f1902e 215.5px,#faed3c 223.5px,#eff742 226.5px,#d9f84f 231.5px,#cdf757 240.5px,#cef756 282.5px,#d0f75c 283.5px,#e8fbaf 284.5px)"></div>
<div style="top:235px;background:linear-gradient(90deg,#ffffff 0.5px,#ffffff 6.5px,#6c94f4 7.5px,#3176f2 8.5px,#44a5f5 10.5px,#56c6f7 12.5px,#66e3ec 15.5px,#74efcb 19.5px,#93f28e 27.5px,#c0f560 36.5px,#d9f84f 43.5px,#ebf744 59.5px,#f3eb3e 82.5px,#f6c535 113.5px,#ea5b26 187.5px,#e95d26 194.5px,#ed6b29 199.5px,#e74a22 204.5px,#e54622 208.5px,#ea5424 211.5px,#f0802c 215.5px,#f9ef3c 224.5px,#e2f949 229.5px,#d2f754 235.5px,#cdf757 248.5px,#cef756 282.5px,#d0f75c 283.5px,#e8fbaf 284.5px)"></div>
<div style="top:236px;background:linear-gradient(90deg,#ffffff 0.5px,#ffffff 6.5px,#c0cbfa 7.5px,#3561ef 8.5px,#2869f0 9.5px,#3c97f4 11.5px,#56c5f7 14.5px,#64dff0 17.5px,#70edd5 22.5px,#97f28a 33.5px,#b8f467 40.5px,#def84c 51.5px,#f4f440 64.5px,#f8dc38 85.5px,#f1912e 138.5px,#e84922 184.5px,#df4120 196.5px,#e54b23 200.5px,#e03f20 203.5px,#d7351d 207.5px,#e34321 211.5px,#ed6127 214.5px,#fae93b 224.5px,#f4f53f 226.5px,#d9f84f 232.5px,#cdf757 241.5px,#cef756 282.5px,#d0f75c 283.5px,#e8fbaf 284.5px)"></div>
<div style="top:237px;background:linear-gradient(90deg,#ffffff 0.5px,#ffffff 7.5px,#6176ef 8.5px,#1f48ec 9.5px,#2c76f2 11.5px,#47abf6 14.5px,#59cbf7 17.5px,#65e1ee 22.5px,#71edd3 28.5px,#97f28b 39.5px,#b8f467 48.5px,#dcf64e 61.5px,#eeef42 77.5px,#f6d037 102.5px,#f2952f 137.5px,#eb4e23 179.5px,#d9371e 199.5px,#d9361e 202.5px,#c72719 206.5px,#cc2a1a 209.5px,#e44521 213.5px,#ee6f29 216.5px,#faee3c 225.5px,#e7f946 229.5px,#d7f850 233.5px,#cdf757 242.5px,#cef756 282.5px,#d0f75c 283.5px,#e8fbaf 284.5px)"></div>
<div style="top:238px;background:linear-gradient(90deg,#ffffff 0.5px,#ffffff 7.5px,#a7aef5 8.5px,#2239e7 9.5px,#183dea 10.5px,#307ff3 13.5px,#45a8f6 16.5px,#54c2f7 20.5px,#64dfee 28.5px,#70ecd5 34.5px,#8ef298 45.5px,#adf372 56.5px,#cbf559 74.5px,#ebed43 102.5px,#f6cd37 121.5px,#e84922 184.5px,#d22f1c 201.5px,#b41d15 205.5px,#af1c14 207.5px,#b71f16 209.5px,#d3311c 212.5px,#ea5124 215.5px,#f3a230 220.5px,#faea3b 225.5px,#f4f540 227.5px,#d8f84f 233.5px,#cdf757 242.5px,#cff756 282.5px,#d0f75c 283.5px,#e8fbaf 284.5px)"></div>
<div style="top:239px;background:linear-gradient(90deg,#ffffff 0.5px,#ffffff 7.5px,#e0e2fb 8.5px,#3240e5 9.5px,#1329e5 10.5px,#1638e9 11.5px,#2b74f2 14.5px,#3b96f4 17.5px,#5dd3f4 32.5px,#6ce8dd 40.5px,#8df19b 57.5px,#acf373 79.5px,#e5f247 116.5px,#f5de3b 131.5px,#ed6127 180.5px,#e14020 192.5px,#d22e1c 200.5px,#a41812 204.5px,#98150f 206.5px,#9a1510 208.5px,#ab1b13 210.5px,#d3301c 213.5px,#eb5525 216.5px,#f29b2f 220.5px,#fae63a 225.5px,#f9f03d 226.5px,#e0f94a 231.5px,#cff756 239.5px,#cff756 282.5px,#d0f75c 283.5px,#e8fbaf 284.5px)"></div>
<div style="top:240px;background:linear-gradient(90deg,#ffffff 0.5px,#ffffff 8.5px,#5d65e8 9.5px,#1323e1 10.5px,#1128e5 11.5px,#1b48ec 13.5px,#2668f1 15.5px,#307ef3 18.5px,#5acef5 39.5px,#6be6df 51.5px,#7defb9 68.5px,#abf373 102.5px,#e4f448 131.5px,#f5e23b 144.5px,#f0822c 177.5px,#ec5625 188.5px,#dc391f 196.5px,#d4311c 199.5px,#bc2117 201.5px,#9d1610 203.5px,#8a110c 205.5px,#85100b 207.5px,#8e120d 209.5px,#a71912 211.5px,#ca281a 213.5px,#e94d23 216.5px,#f2952f 220.5px,#faee3c 226.5px,#e7f946 230.5px,#d7f850 234.5px,#cdf756 243.5px,#cff756 282.5px,#d0f75c 283.5px,#e8fbaf 284.5px)"></div>
<div style="top:241px;background:linear-gradient(90deg,#ffffff 0.5px,#ffffff 8.5px,#9094ed 9.5px,#1722dd 10.5px,#0f1fe1 11.5px,#1e55ee 16.5px,#4db6f6 43.5px,#5fd5ef 58.5px,#6ce6dc 75.5px,#8df29a 103.5px,#b6f469 123.5px,#e8f446 146.5px,#f6df3a 157.5px,#ef792b 185.5px,#e74822 193.5px,#d02d1b 199.5px,#b11c14 201.5px,#90130e 203.5px,#7f0e0a 205.5px,#7d0d09 208.5px,#8c110d 210.5px,#ad1b14 212.5px,#d12e1c 214.5px,#e64822 216.5px,#f3a130 221.5px,#faec3b 226.5px,#f3f540 228.5px,#daf84e 233.5px,#cef756 242.5px,#cff756 282.5px,#d0f75c 283.5px,#e8fbaf 284.5px)"></div>
<div style="top:242px;background:linear-gradient(90deg,#ffffff 0.5px,#ffffff 8.5px,#cacbf5 9.5px,#1f27d8 10.5px,#0c19dd 11.5px,#173bea 17.5px,#3a91f4 45.5px,#4cb3f6 62.5px,#56c5f4 74.5px,#67e2e5 91.5px,#79efc1 106.5px,#a1f27d 127.5px,#d3f753 148.5px,#eff041 160.5px,#f7d738 169.5px,#f0852d 186.5px,#e84922 194.5px,#d6331d 198.5px,#cd2b1b 199.5px,#97140f 202.5px,#7f0e0a 204.5px,#780c08 206.5px,#7c0d09 209.5px,#93130e 211.5px,#cd2b1b 214.5px,#e44521 216.5px,#f07d2c 219.5px,#faeb3b 226.5px,#f4f540 228.5px,#daf84e 233.5px,#cef756 242.5px,#cff756 282.5px,#d0f75c 283.5px,#e8fbaf 284.5px)"></div>
<div style="top:243px;background:linear-gradient(90deg,#ffffff 0.5px,#ffffff 8.5px,#e1e1f8 9.5px,#2c30d4 10.5px,#0b14d8 11.5px,#0f21e2 14.5px,#1941eb 31.5px,#2b73f1 52.5px,#3a92f4 72.5px,#5dd1f2 98.5px,#6ae5e2 109.5px,#81f1af 124.5px,#a9f373 142.5px,#e7f546 165.5px,#f4ea3d 171.5px,#f5b732 180.5px,#f2962f 186.5px,#e74722 195.5px,#d6331d 198.5px,#cc2a1a 199.5px,#95140f 202.5px,#7d0d09 204.5px,#780c08 207.5px,#7a0d09 209.5px,#91130e 211.5px,#cc2a1a 214.5px,#e44421 216.5px,#ef7c2c 219.5px,#faea3b 226.5px,#f4f540 228.5px,#daf84e 233.5px,#cef756 242.5px,#cff756 282.5px,#d1f75c 283.5px,#e8fbaf 284.5px)"></div>
<div style="top:244px;background:linear-gradient(90deg,#ffffff 0.5px,#ffffff 9.5px,#3a3dd0 10.5px,#0a10d1 11.5px,#0b17dd 13.5px,#1636e8 42.5px,#225bee 71.5px,#58caf5 109.5px,#68e4e6 120.5px,#7bf0bc 132.5px,#a3f27a 149.5px,#d7f750 167.5px,#f0f241 174.5px,#f8da38 179.5px,#f39e30 187.5px,#ed6327 193.5px,#e44321 196.5px,#ce2b1b 199.5px,#98150f 202.5px,#800e0a 204.5px,#780c08 206.5px,#7d0d09 209.5px,#94140e 211.5px,#cd2b1b 214.5px,#e44521 216.5px,#f07d2c 219.5px,#faeb3b 226.5px,#f4f540 228.5px,#dbf84e 233.5px,#cef756 242.5px,#cff756 282.5px,#d1f75c 283.5px,#e8fbaf 284.5px)"></div>
<div style="top:245px;background:linear-gradient(90deg,#ffffff 0.5px,#ffffff 9.5px,#3c3ec8 10.5px,#080cc6 11.5px,#0911d4 13.5px,#1127e3 54.5px,#1533e7 72.5px,#2665f0 90.5px,#4fb9f6 115.5px,#63ddee 127.5px,#70ecd4 136.5px,#9df282 155.5px,#ccf658 170.5px,#ecf544 177.5px,#f8e63b 181.5px,#f7c535 185.5px,#ee6e2a 193.5px,#e64622 196.5px,#cf2c1c 199.5px,#b21d15 201.5px,#92140e 203.5px,#810f0a 205.5px,#7e0e0a 208.5px,#8e120e 210.5px,#af1c15 212.5px,#d22f1c 214.5px,#e64823 216.5px,#f3a130 221.5px,#faec3c 226.5px,#f4f540 228.5px,#dbf94e 233.5px,#cef756 242.5px,#cff756 282.5px,#d1f75c 283.5px,#e8fbaf 284.5px)"></div>
<div style="top:246px;background:linear-gradient(90deg,#ffffff 0.5px,#ffffff 9.5px,#4e4fc5 10.5px,#1f21be 11.5px,#1f22cc 13.5px,#232ede 53.5px,#2735e4 74.5px,#2f4fec 90.5px,#458cf4 109.5px,#6ed9f6 132.5px,#7aece4 141.5px,#9ff397 159.5px,#c1f573 170.5px,#eef757 180.5px,#f9e94e 184.5px,#f3a444 190.5px,#f18440 193.5px,#ea5b39 196.5px,#cb3a30 200.5px,#a52d28 203.5px,#932824 206.5px,#942924 208.5px,#a32d28 210.5px,#cf3e31 213.5px,#eb5f39 216.5px,#f4ad45 221.5px,#fbef4f 226.5px,#eafa58 230.5px,#daf962 235.5px,#d4f867 246.5px,#d4f867 282.5px,#d5f86c 283.5px,#ebfcb7 284.5px)"></div>
<div style="top:247px;background:linear-gradient(90deg,#ffffff 0.5px,#ffffff 9.5px,#d7d7f1 10.5px,#ccccef 11.5px,#cfd4fa 89.5px,#e0fafb 142.5px,#f2fddf 172.5px,#fefad7 185.5px,#f7d6d1 198.5px,#e8cfce 206.5px,#efd1cf 211.5px,#fbdfd3 217.5px,#fefdd8 227.5px,#f5fddc 244.5px,#f6fdde 283.5px,#fafeef 284.5px)"></div>
<div style="top:249px;background:linear-gradient(90deg,#c9f9ce 0.5px,#89f2a7 1.5px,#7af1ba 2.5px,#68e7e9 4.5px,#61daf4 5.5px,#4cb5f7 7.5px,#3d9af5 9.5px,#1a49ed 19.5px,#1942ec 21.5px,#2262f1 64.5px,#378ef4 111.5px,#5dd1f9 132.5px,#6aeee5 152.5px,#87f29f 176.5px,#b0f36a 203.5px,#d2f753 232.5px,#d3f852 282.5px,#d5f859 283.5px,#ebfbae 284.5px)"></div>
<div style="top:250px;background:linear-gradient(90deg,#cdf9c8 0.5px,#92f29a 1.5px,#82f1ab 2.5px,#6cebdf 4.5px,#65e1ef 5.5px,#5dd2f7 6.5px,#49aff6 8.5px,#2f7df2 14.5px,#1d53ef 20.5px,#2365f1 57.5px,#3b95f4 111.5px,#5fd6f9 132.5px,#6beee3 151.5px,#87f29e 175.5px,#b0f36a 202.5px,#d4f852 232.5px,#d3f852 282.5px,#d5f859 283.5px,#ebfbae 284.5px)"></div>
<div style="top:251px;background:linear-gradient(90deg,#d3f9c1 0.5px,#9df38a 1.5px,#8cf299 2.5px,#72eed0 4.5px,#69e8e7 5.5px,#62dbf3 6.5px,#50bbf7 8.5px,#368af3 14.5px,#2363f1 20.5px,#276cf1 53.5px,#3f9df5 111.5px,#61d8f8 131.5px,#6beee2 149.5px,#86f29f 173.5px,#b1f369 202.5px,#d6f851 232.5px,#d3f753 274.5px,#d3f852 282.5px,#d5f859 283.5px,#ebfbae 284.5px)"></div>
<div style="top:252px;background:linear-gradient(90deg,#d9f9ba 0.5px,#a9f37b 1.5px,#97f289 2.5px,#6decdb 5.5px,#66e3ee 6.5px,#5fd5f6 7.5px,#51bdf8 9.5px,#2a72f2 20.5px,#2c76f2 51.5px,#43a5f6 111.5px,#61d9f7 129.5px,#6beee4 146.5px,#87f29e 172.5px,#b0f36a 201.5px,#d8f84f 232.5px,#d2f753 267.5px,#d3f852 282.5px,#d5f859 283.5px,#ebfbae 284.5px)"></div>
<div style="top:253px;background:linear-gradient(90deg,#e0fab5 0.5px,#b5f470 1.5px,#a1f27c 2.5px,#7ff1b0 4.5px,#73efce 5.5px,#69e9e6 6.5px,#63def2 7.5px,#58c9f8 9.5px,#3182f3 20.5px,#3080f3 48.5px,#48aef6 111.5px,#61daf7 127.5px,#6beee2 144.5px,#87f29e 170.5px,#b0f36a 200.5px,#dbf94d 232.5px,#d2f753 264.5px,#d4f852 282.5px,#d5f859 283.5px,#ebfbae 284.5px)"></div>
<div style="top:254px;background:linear-gradient(90deg,#e4fbb2 0.5px,#bdf569 1.5px,#a8f374 2.5px,#78f0c0 5.5px,#6eedda 6.5px,#67e6ec 7.5px,#5fd5f7 9.5px,#3a93f4 20.5px,#368cf4 46.5px,#4db7f7 111.5px,#62dbf6 125.5px,#6beee2 141.5px,#86f29f 167.5px,#b0f36a 199.5px,#def94b 232.5px,#d2f753 263.5px,#d4f852 282.5px,#d5f859 283.5px,#ebfbae 284.5px)"></div>
<div style="top:255px;background:linear-gradient(90deg,#e4fbb2 0.5px,#c0f567 1.5px,#acf36f 2.5px,#7ef1b2 5.5px,#6bebe2 7.5px,#66e5ed 8.5px,#5dd2f8 12.5px,#43a4f5 20.5px,#3c98f4 44.5px,#52bef8 110.5px,#62dcf5 123.5px,#6beee3 137.5px,#87f29f 165.5px,#b1f369 198.5px,#d8f84f 224.5px,#e4f948 233.5px,#d2f753 261.5px,#d4f852 282.5px,#d5f859 283.5px,#ebfbae 284.5px)"></div>
<div style="top:256px;background:linear-gradient(90deg,#e4fbb2 0.5px,#c0f567 1.5px,#b0f36c 2.5px,#84f2a5 5.5px,#72efd1 7.5px,#6cece0 8.5px,#63dff3 12.5px,#50bbf7 19.5px,#4ab0f6 25.5px,#43a5f6 47.5px,#57c7f9 110.5px,#64e0f3 122.5px,#6ceee1 134.5px,#88f29d 163.5px,#b1f369 197.5px,#d4f852 220.5px,#eaf844 232.5px,#e3f948 242.5px,#d2f753 260.5px,#d4f852 282.5px,#d5f859 283.5px,#ebfbae 284.5px)"></div>
<div style="top:257px;background:linear-gradient(90deg,#e3fab3 0.5px,#c1f566 1.5px,#b3f369 2.5px,#8df297 5.5px,#75f0c9 8.5px,#6bebe2 11.5px,#60d7f6 17.5px,#57c7f8 21.5px,#4bb3f7 43.5px,#54c1f8 82.5px,#5fd5f8 112.5px,#6aede5 128.5px,#88f29d 160.5px,#b1f369 195.5px,#d1f754 217.5px,#f1f641 231.5px,#edf743 240.5px,#d5f851 255.5px,#d4f852 282.5px,#d5f859 283.5px,#ebfbae 284.5px)"></div>
<div style="top:258px;background:linear-gradient(90deg,#dffab6 0.5px,#bff568 1.5px,#b7f466 2.5px,#a2f27a 4.5px,#7ff1af 8.5px,#6feed8 13.5px,#65e2f0 18.5px,#5dd2f7 26.5px,#54c1f8 46.5px,#62dbf6 111.5px,#6bede3 125.5px,#81f2aa 149.5px,#b0f36a 192.5px,#d2f753 216.5px,#f3f540 228.5px,#f6f43f 237.5px,#e6f947 246.5px,#d3f852 259.5px,#d4f852 282.5px,#d5f859 283.5px,#ebfcae 284.5px)"></div>
<div style="top:259px;background:linear-gradient(90deg,#d6f9bf 0.5px,#b5f471 1.5px,#b7f466 2.5px,#aaf270 4.5px,#87f2a0 9.5px,#6beae3 19.5px,#64e0f1 27.5px,#5cd0f8 47.5px,#65e3f0 111.5px,#6ceedf 122.5px,#7af1ba 136.5px,#92f28f 161.5px,#b2f369 191.5px,#d1f754 214.5px,#f2f641 225.5px,#faee3c 232.5px,#f6f43f 242.5px,#dbf94d 253.5px,#d3f753 265.5px,#d4f852 282.5px,#d5f859 283.5px,#ebfcae 284.5px)"></div>
<div style="top:260px;background:linear-gradient(90deg,#c7f7d7 0.5px,#9df192 1.5px,#adf371 2.5px,#b3f369 3.5px,#a5f276 6.5px,#8ef295 11.5px,#72efd0 21.5px,#69e8e8 31.5px,#63ddf4 45.5px,#68e9ea 109.5px,#70efd5 120.5px,#7ef1b0 134.5px,#abf26e 181.5px,#d3f753 213.5px,#f2f540 223.5px,#fae73a 229.5px,#fade39 234.5px,#faee3c 241.5px,#eef742 247.5px,#dbf94d 254.5px,#d3f753 266.5px,#d4f852 282.5px,#d5f858 283.5px,#ebfcae 284.5px)"></div>
<div style="top:261px;background:linear-gradient(90deg,#c1f1f1 0.5px,#84e8c9 1.5px,#92ef9b 2.5px,#a6f27a 3.5px,#aef36e 4.5px,#acf26d 6.5px,#89f29f 18.5px,#78f0c0 26.5px,#6bebe3 39.5px,#67e7eb 55.5px,#6deedd 107.5px,#71efd2 114.5px,#84f2a4 133.5px,#b0f36a 181.5px,#d6f851 213.5px,#f2f641 221.5px,#faeb3b 225.5px,#f8cf36 231.5px,#f8ce36 236.5px,#fae73a 242.5px,#f7f43e 246.5px,#dbf94d 255.5px,#d3f753 266.5px,#d4f852 282.5px,#d5f858 283.5px,#ebfcae 284.5px)"></div>
<div style="top:262px;background:linear-gradient(90deg,#f6fcfe 0.5px,#b6ebf3 1.5px,#7de2d6 2.5px,#85ebaf 3.5px,#98f18d 4.5px,#a4f27a 5.5px,#aaf270 7.5px,#9ff27e 16.5px,#81f1ae 31.5px,#73efce 42.5px,#6feed8 56.5px,#73f0cd 94.5px,#77f0c3 111.5px,#8cf298 132.5px,#b2f369 176.5px,#daf84e 213.5px,#f7f33e 221.5px,#f9dc38 225.5px,#f6bf33 230.5px,#f5ba33 235.5px,#f7ca35 240.5px,#faf03c 246.5px,#dff94a 254.5px,#d3f753 265.5px,#d4f852 282.5px,#d5f858 283.5px,#ebfcae 284.5px)"></div>
<div style="top:263px;background:linear-gradient(90deg,#ffffff 0.5px,#ffffff 1.5px,#b5e7f7 2.5px,#73d9e4 3.5px,#76e5c9 4.5px,#85eeab 5.5px,#92f194 6.5px,#9bf285 7.5px,#a4f276 10.5px,#aaf26f 15.5px,#99f286 27.5px,#7ef1b2 44.5px,#7af1bb 59.5px,#80f1ae 105.5px,#84f2a5 114.5px,#9af284 137.5px,#b9f464 174.5px,#e2f949 214.5px,#f8f23d 220.5px,#f5b832 228.5px,#f4aa31 233.5px,#f4b231 238.5px,#f7c734 242.5px,#fbee3c 247.5px,#e2f949 254.5px,#d3f852 264.5px,#d4f852 282.5px,#d5f858 283.5px,#ebfcae 284.5px)"></div>
<div style="top:264px;background:linear-gradient(90deg,#ffffff 0.5px,#ffffff 2.5px,#b1e0f9 3.5px,#6acdef 4.5px,#68dce0 5.5px,#74e9ca 6.5px,#87f1a4 8.5px,#9af284 11.5px,#a8f271 15.5px,#aef36c 22.5px,#a2f27b 33.5px,#8ef295 45.5px,#89f29d 64.5px,#90f292 112.5px,#a9f272 141.5px,#e8f845 213.5px,#f9f03d 219.5px,#f5b432 226.5px,#f29c2f 231.5px,#f2992f 235.5px,#f4ac31 240.5px,#f7c735 244.5px,#fbed3b 248.5px,#eaf844 253.5px,#d9f84f 259.5px,#d3f753 270.5px,#d4f852 282.5px,#d5f858 283.5px,#ebfcae 284.5px)"></div>
<div style="top:265px;background:linear-gradient(90deg,#ffffff 0.5px,#ffffff 3.5px,#a9d7fa 4.5px,#5bbef4 5.5px,#5dd1ee 6.5px,#68e1e2 7.5px,#77eec4 9.5px,#8bf29b 12.5px,#9ff27e 16.5px,#b0f36a 22.5px,#b7f466 31.5px,#a0f27e 49.5px,#9df281 86.5px,#a3f279 115.5px,#bcf462 147.5px,#edf643 206.5px,#f9ec3c 218.5px,#f8d136 221.5px,#f3a530 226.5px,#f1892d 231.5px,#f0852d 235.5px,#f2952f 239.5px,#f6c334 245.5px,#fbec3b 249.5px,#eef742 253.5px,#dcf94d 258.5px,#d3f753 268.5px,#d4f852 282.5px,#d5f858 283.5px,#ebfcae 284.5px)"></div>
<div style="top:266px;background:linear-gradient(90deg,#ffffff 0.5px,#ffffff 3.5px,#f4f9fe 4.5px,#7ebaf8 5.5px,#4eaef5 6.5px,#5fd6f0 8.5px,#6deadc 10.5px,#83f1a8 14.5px,#9bf283 19.5px,#b3f369 26.5px,#c2f55e 34.5px,#b3f46a 60.5px,#b9f465 116.5px,#edf543 191.5px,#f8e33a 210.5px,#f8d136 219.5px,#f07e2c 229.5px,#ee6f29 233.5px,#ef722a 236.5px,#f18b2e 240.5px,#f7cc35 247.5px,#fbed3b 250.5px,#edf843 254.5px,#dbf94d 259.5px,#d3f753 269.5px,#d4f852 282.5px,#d6f858 283.5px,#ebfcae 284.5px)"></div>
<div style="top:267px;background:linear-gradient(90deg,#ffffff 0.5px,#ffffff 4.5px,#e4eefd 5.5px,#599df5 6.5px,#43a0f5 7.5px,#58caf5 9.5px,#66e2eb 11.5px,#74efcb 14.5px,#86f2a2 18.5px,#9cf281 24.5px,#c2f55e 34.5px,#cef756 42.5px,#cff655 110.5px,#eef142 167.5px,#f7df3a 193.5px,#f4ad31 221.5px,#f2972f 224.5px,#ed6227 230.5px,#eb5725 233.5px,#ec5b26 236.5px,#ef782b 240.5px,#f7cc35 248.5px,#fbee3c 251.5px,#e2f949 257.5px,#d4f852 266.5px,#d4f852 282.5px,#d6f858 283.5px,#ebfcae 284.5px)"></div>
<div style="top:268px;background:linear-gradient(90deg,#ffffff 0.5px,#ffffff 5.5px,#aec8fa 6.5px,#3e85f3 7.5px,#3c95f4 8.5px,#52bef7 10.5px,#60d9f3 12.5px,#6cebdf 15.5px,#7ff1b0 20.5px,#a8f375 32.5px,#cbf658 40.5px,#d8f84f 48.5px,#e6f747 83.5px,#f0ed40 132.5px,#f6d638 166.5px,#f5b432 196.5px,#f18a2d 220.5px,#f0882d 223.5px,#ee722a 226.5px,#ea5425 229.5px,#e54622 232.5px,#e64822 236.5px,#ec5a26 239.5px,#f8cf36 249.5px,#fbe83a 251.5px,#f8f33e 253.5px,#def94c 259.5px,#d3f852 268.5px,#d4f852 282.5px,#d6f858 283.5px,#ebfcae 284.5px)"></div>
<div style="top:269px;background:linear-gradient(90deg,#ffffff 0.5px,#ffffff 5.5px,#f2f5fe 6.5px,#6891f4 7.5px,#3075f2 8.5px,#4bb2f7 11.5px,#5fd7f5 14.5px,#69e9e5 17.5px,#78f0c0 23.5px,#96f28a 33.5px,#baf464 41.5px,#d3f753 50.5px,#eef743 72.5px,#f8ee3d 97.5px,#f7d838 125.5px,#f18f2e 194.5px,#e95d26 220.5px,#ea5f26 225.5px,#e34421 229.5px,#d8351e 233.5px,#de3d1f 237.5px,#ea5224 240.5px,#f5b932 248.5px,#fbec3b 252.5px,#ebf844 256.5px,#daf84e 261.5px,#d4f852 271.5px,#d4f852 282.5px,#d6f858 283.5px,#ebfcae 284.5px)"></div>
<div style="top:270px;background:linear-gradient(90deg,#ffffff 0.5px,#ffffff 6.5px,#bfcbfa 7.5px,#3461ef 8.5px,#2767f0 9.5px,#3a93f4 11.5px,#53bff7 14.5px,#61daf3 17.5px,#6ae9e4 22.5px,#76efc7 29.5px,#a0f27f 41.5px,#b9f466 50.5px,#e2f74a 73.5px,#f7ef3d 97.5px,#f8d537 120.5px,#f5b432 141.5px,#ef772b 191.5px,#e64a22 213.5px,#de3f20 223.5px,#e04020 227.5px,#ca291a 232.5px,#c8281a 235.5px,#de3c1f 239.5px,#ec5c26 242.5px,#f3a630 247.5px,#fbe73a 252.5px,#f8f33e 254.5px,#e0f94a 259.5px,#d4f852 268.5px,#d4f852 282.5px,#d6f858 283.5px,#ebfcae 284.5px)"></div>
<div style="top:271px;background:linear-gradient(90deg,#ffffff 0.5px,#ffffff 7.5px,#4d64ed 8.5px,#1e47eb 9.5px,#2b73f2 11.5px,#44a5f6 14.5px,#56c5f8 17.5px,#5fd6f5 21.5px,#68e6e7 29.5px,#75eec9 35.5px,#8cf29a 43.5px,#a5f37a 55.5px,#cdf657 79.5px,#eef142 108.5px,#f6e33b 121.5px,#f4ae31 149.5px,#ee6e29 192.5px,#e84822 210.5px,#d3311c 228.5px,#b41e15 232.5px,#af1c14 234.5px,#b81f16 236.5px,#d3301c 239.5px,#e94f23 242.5px,#f4ab31 248.5px,#fbed3b 253.5px,#e9f944 257.5px,#daf84e 262.5px,#d4f852 272.5px,#d4f852 282.5px,#d6f858 283.5px,#ebfcae 284.5px)"></div>
<div style="top:272px;background:linear-gradient(90deg,#ffffff 0.5px,#ffffff 7.5px,#a4acf5 8.5px,#2138e7 9.5px,#183cea 10.5px,#2e7af2 13.5px,#42a3f5 16.5px,#4eb7f7 19.5px,#60d8f3 31.5px,#6ce9de 38.5px,#7ef0b5 48.5px,#99f288 67.5px,#bcf563 90.5px,#e9f345 123.5px,#f6df3a 138.5px,#f2972f 172.5px,#ee6c29 194.5px,#e74722 211.5px,#d6331d 226.5px,#c9271a 228.5px,#a51912 231.5px,#99150f 233.5px,#9b1510 235.5px,#ac1b13 237.5px,#d2301c 240.5px,#ea5324 243.5px,#f3a630 248.5px,#fbea3b 253.5px,#f6f43f 255.5px,#dff94b 260.5px,#d4f852 269.5px,#d4f852 282.5px,#d6f858 283.5px,#ebfcae 284.5px)"></div>
<div style="top:273px;background:linear-gradient(90deg,#ffffff 0.5px,#ffffff 7.5px,#e0e2fb 8.5px,#3240e5 9.5px,#1329e5 10.5px,#1636e9 11.5px,#2970f1 14.5px,#3990f4 17.5px,#409ff5 21.5px,#57c8f7 34.5px,#67e3e8 44.5px,#7ef0b7 67.5px,#a3f37b 93.5px,#ddf64d 132.5px,#f2ea3e 148.5px,#f6c034 166.5px,#ef762b 197.5px,#e64722 216.5px,#d3301c 226.5px,#bc2017 228.5px,#9d1610 230.5px,#8b110c 232.5px,#86100b 234.5px,#8f120d 236.5px,#a81912 238.5px,#d5331d 241.5px,#e84b23 243.5px,#f3a130 248.5px,#fbe73a 253.5px,#f8f33e 255.5px,#dff94a 260.5px,#d4f852 269.5px,#d4f852 282.5px,#d6f858 283.5px,#ebfcae 284.5px)"></div>
<div style="top:274px;background:linear-gradient(90deg,#ffffff 0.5px,#ffffff 8.5px,#5d66e8 9.5px,#1323e1 10.5px,#1127e4 11.5px,#1a45ec 13.5px,#2464f0 15.5px,#2d7af2 18.5px,#41a1f5 32.5px,#57c8f6 44.5px,#67e2e7 64.5px,#70ead5 74.5px,#91f292 100.5px,#c1f55f 132.5px,#e9f345 155.5px,#f6df3a 168.5px,#ed6528 213.5px,#e44421 221.5px,#d7341d 225.5px,#c22318 227.5px,#90130e 230.5px,#7f0e0a 232.5px,#7d0d09 235.5px,#8c110d 237.5px,#ad1b14 239.5px,#d02d1b 241.5px,#e54622 243.5px,#ef7c2c 246.5px,#f4ab31 249.5px,#fae53a 253.5px,#f8f33e 255.5px,#e0f94a 260.5px,#d4f852 269.5px,#d4f852 282.5px,#d6f858 283.5px,#ebfcae 284.5px)"></div>
<div style="top:275px;background:linear-gradient(90deg,#ffffff 0.5px,#ffffff 8.5px,#9094ed 9.5px,#1722dd 10.5px,#0e1fe1 11.5px,#1d51ee 16.5px,#225ef0 20.5px,#3589f3 35.5px,#47aaf6 47.5px,#5ed4f2 74.5px,#6de9dc 88.5px,#8cf29b 115.5px,#b6f468 141.5px,#e7f446 168.5px,#f6df3a 182.5px,#f6be34 193.5px,#ef742a 216.5px,#ec5b26 220.5px,#df3e20 224.5px,#cd2a1a 226.5px,#96140f 229.5px,#7f0e0a 231.5px,#780c08 233.5px,#7c0d09 236.5px,#92130e 238.5px,#cc2a1a 241.5px,#ea5224 244.5px,#f29b2f 248.5px,#fae339 253.5px,#f9f33d 255.5px,#e0f94a 260.5px,#d4f852 269.5px,#d4f852 282.5px,#d6f858 283.5px,#ebfcad 284.5px)"></div>
<div style="top:276px;background:linear-gradient(90deg,#ffffff 0.5px,#ffffff 8.5px,#c9cbf5 9.5px,#1e26d8 10.5px,#0c19dd 11.5px,#1639e9 17.5px,#2059ef 31.5px,#3180f3 45.5px,#46aaf6 72.5px,#61d9f1 91.5px,#6eeada 106.5px,#91f293 134.5px,#b9f465 157.5px,#e7f446 182.5px,#f4e53c 192.5px,#f29d2f 212.5px,#f0832d 218.5px,#ed6628 221.5px,#e84b23 223.5px,#cb291a 226.5px,#94140e 229.5px,#7c0d09 231.5px,#780c08 235.5px,#7a0d09 236.5px,#90120e 238.5px,#ca281a 241.5px,#ea5024 244.5px,#f29a2f 248.5px,#fbed3b 254.5px,#e4f948 259.5px,#d5f851 267.5px,#d4f852 282.5px,#d6f858 283.5px,#ebfcad 284.5px)"></div>
<div style="top:277px;background:linear-gradient(90deg,#ffffff 0.5px,#ffffff 8.5px,#d0d1f4 9.5px,#262bd2 10.5px,#0a13d7 11.5px,#0f21e2 14.5px,#173ae9 32.5px,#225def 49.5px,#2f7bf2 71.5px,#57c8f6 97.5px,#67e4e9 115.5px,#78efc1 132.5px,#9ef280 156.5px,#ccf657 181.5px,#ebf344 195.5px,#f6df3a 203.5px,#f3a430 216.5px,#f18e2e 219.5px,#e94e23 223.5px,#cd2a1b 226.5px,#96140f 229.5px,#7f0e0a 231.5px,#780c08 233.5px,#7c0d09 236.5px,#92130e 238.5px,#cc291a 241.5px,#ea5124 244.5px,#f29a2f 248.5px,#fbed3b 254.5px,#e4f948 259.5px,#d5f851 267.5px,#d4f852 282.5px,#d6f858 283.5px,#ebfcad 284.5px)"></div>
<div style="top:278px;background:linear-gradient(90deg,#ffffff 0.5px,#ffffff 9.5px,#3639cf 10.5px,#0910d1 11.5px,#0b17dd 13.5px,#1b49ec 69.5px,#45a7f6 98.5px,#60d8f2 122.5px,#6deadd 136.5px,#97f289 166.5px,#caf659 192.5px,#eef342 204.5px,#f8e23a 210.5px,#f7c935 214.5px,#f3a330 218.5px,#ef762b 221.5px,#e44421 224.5px,#c22318 227.5px,#90130e 230.5px,#7f0e0a 232.5px,#7d0d09 235.5px,#8c110d 237.5px,#ac1b13 239.5px,#d02d1b 241.5px,#eb5525 244.5px,#f29c2f 248.5px,#fae439 253.5px,#f9f33d 255.5px,#e0f94a 260.5px,#d4f852 269.5px,#d4f852 282.5px,#d6f858 283.5px,#ebfcad 284.5px)"></div>
<div style="top:279px;background:linear-gradient(90deg,#ffffff 0.5px,#ffffff 9.5px,#3b3dc8 10.5px,#080cc6 11.5px,#0810d4 13.5px,#1024e3 59.5px,#132de6 72.5px,#1f54ee 85.5px,#3282f3 98.5px,#5dd2f5 133.5px,#6ae8e2 147.5px,#89f29e 171.5px,#b0f36c 192.5px,#ecf743 208.5px,#fbec3b 212.5px,#f9d938 214.5px,#f18b2e 220.5px,#e74922 224.5px,#cb291a 227.5px,#9d1610 230.5px,#8b110c 232.5px,#86100b 234.5px,#8f120d 236.5px,#a71913 238.5px,#d5321d 241.5px,#e74a23 243.5px,#f3a030 248.5px,#fae63a 253.5px,#f8f33e 255.5px,#e0f94a 260.5px,#d4f852 269.5px,#d5f852 282.5px,#d6f858 283.5px,#ebfcad 284.5px)"></div>
<div style="top:280px;background:linear-gradient(90deg,#ffffff 0.5px,#ffffff 9.5px,#4243c1 10.5px,#0f11ba 11.5px,#0e12c7 13.5px,#131dda 55.5px,#1624e0 73.5px,#1e3de9 87.5px,#2e6ff1 103.5px,#64d5f5 146.5px,#70eae3 160.5px,#93f299 187.5px,#a7f37e 195.5px,#ccf75f 202.5px,#edf84a 209.5px,#fbf143 212.5px,#fadf40 214.5px,#f18634 221.5px,#e54b29 225.5px,#ca2f22 228.5px,#a6201a 231.5px,#9b1d18 233.5px,#9d1e18 235.5px,#ad221c 237.5px,#d33624 240.5px,#eb582c 243.5px,#f4a738 248.5px,#fbe941 253.5px,#f8f445 255.5px,#e1f951 260.5px,#d6f858 269.5px,#d6f858 282.5px,#d8f85e 283.5px,#ecfcb0 284.5px)"></div>
<div style="top:281px;background:linear-gradient(90deg,#ffffff 0.5px,#ffffff 9.5px,#a2a3df 10.5px,#898ad8 11.5px,#898adf 19.5px,#8c92ef 76.5px,#92a5f6 97.5px,#b6eff9 158.5px,#bef8e6 177.5px,#cef9c8 195.5px,#e5fbb1 203.5px,#fdf8a3 212.5px,#f9d39e 219.5px,#f0a496 226.5px,#da9490 231.5px,#d4928f 234.5px,#e29792 238.5px,#f6b098 243.5px,#fadb9e 249.5px,#fdf8a3 254.5px,#edfcac 263.5px,#ecfcb0 283.5px,#f6fdd9 284.5px)"></div>
</div>
<div class="cb" style="left:330.8px;top:37.5px;width:11.3px;height:242.1px;background:linear-gradient(180deg,#780c08 0.00%,#820f0a 1.69%,#8c110d 3.39%,#97140f 5.08%,#a51812 6.78%,#b31d15 8.47%,#c12118 10.17%,#cc271a 11.86%,#d3301c 13.56%,#db381e 15.25%,#e24120 16.95%,#e94923 18.64%,#ec5725 20.34%,#ee6728 22.03%,#ef762b 23.73%,#f0852d 25.42%,#f2932f 27.12%,#f3a030 28.81%,#f4ad31 30.51%,#f5bc32 32.20%,#f8d136 33.90%,#fbe73a 35.59%,#f6f43f 37.29%,#eaf944 38.98%,#def94c 40.68%,#d2f754 42.37%,#c6f65b 44.07%,#baf463 45.76%,#aef36b 47.46%,#a3f278 49.15%,#98f286 50.85%,#8ef294 52.54%,#84f2a3 54.24%,#7bf1b6 55.93%,#74f0cb 57.63%,#6ceee0 59.32%,#67e9ec 61.02%,#64e0f3 62.71%,#60d6fa 64.41%,#58c9f9 66.10%,#50bbf7 67.80%,#47adf6 69.49%,#3f9ef5 71.19%,#3890f4 72.88%,#3181f3 74.58%,#2a72f2 76.27%,#2263f1 77.97%,#1c53ef 79.66%,#183feb 81.36%,#142de8 83.05%,#1228e6 84.75%,#1023e3 86.44%,#0e1fe1 88.14%,#0c1adf 89.83%,#0b15dd 91.53%,#0810d6 93.22%,#060bcd 94.92%,#0407c0 96.61%,#0203ab 98.31%,#000096 100.00%)"></div>
<svg width="617" height="326" viewBox="0 0 617 326">
<text x="0.3" y="17.6" font-size="15.0" text-anchor="start" >(a)</text>
<text x="4.9" y="58.8" font-size="10.5" text-anchor="start" >10ns</text>
<text x="4.9" y="93.0" font-size="10.5" text-anchor="start" >20ns</text>
<text x="4.9" y="128.0" font-size="10.5" text-anchor="start" >40ns</text>
<text x="4.9" y="162.8" font-size="10.5" text-anchor="start" >60ns</text>
<text x="4.9" y="198.0" font-size="10.5" text-anchor="start" >80ns</text>
<text x="4.9" y="233.0" font-size="10.5" text-anchor="start" >100ns</text>
<text x="4.9" y="267.5" font-size="10.5" text-anchor="start" >120ns</text>
<text x="272.6" y="47.6" font-size="8.3" text-anchor="start" textLength="30.7" lengthAdjust="spacingAndGlyphs">0.83km/s</text>
<text x="272.6" y="83.0" font-size="8.3" text-anchor="start" textLength="30.7" lengthAdjust="spacingAndGlyphs">3.38km/s</text>
<text x="272.6" y="118.5" font-size="8.3" text-anchor="start" textLength="30.7" lengthAdjust="spacingAndGlyphs">4.84km/s</text>
<text x="272.6" y="151.6" font-size="8.3" text-anchor="start" textLength="30.7" lengthAdjust="spacingAndGlyphs">3.16km/s</text>
<text x="272.6" y="188.3" font-size="8.3" text-anchor="start" textLength="30.7" lengthAdjust="spacingAndGlyphs">3.15km/s</text>
<text x="272.6" y="223.7" font-size="8.3" text-anchor="start" textLength="30.7" lengthAdjust="spacingAndGlyphs">2.89km/s</text>
<text x="272.6" y="261.7" font-size="8.3" text-anchor="start" textLength="30.7" lengthAdjust="spacingAndGlyphs">2.11km/s</text>
<text x="346.5" y="37.6" font-size="8.0" text-anchor="start" >×10<tspan font-size="5" dy="-3">5</tspan><tspan dy="3">V/m</tspan></text>
<text x="347.0" y="87.5" font-size="8.0" text-anchor="start" >2</text>
<line x1="330.8" y1="84.7" x2="332.6" y2="84.7" stroke="#222" stroke-width="0.7"/>
<line x1="339.6" y1="84.7" x2="341.4" y2="84.7" stroke="#222" stroke-width="0.7"/>
<text x="347.0" y="136.1" font-size="8.0" text-anchor="start" >1.5</text>
<line x1="330.8" y1="133.3" x2="332.6" y2="133.3" stroke="#222" stroke-width="0.7"/>
<line x1="339.6" y1="133.3" x2="341.4" y2="133.3" stroke="#222" stroke-width="0.7"/>
<text x="347.0" y="185.7" font-size="8.0" text-anchor="start" >1</text>
<line x1="330.8" y1="182.9" x2="332.6" y2="182.9" stroke="#222" stroke-width="0.7"/>
<line x1="339.6" y1="182.9" x2="341.4" y2="182.9" stroke="#222" stroke-width="0.7"/>
<text x="347.0" y="234.6" font-size="8.0" text-anchor="start" >0.5</text>
<line x1="330.8" y1="231.8" x2="332.6" y2="231.8" stroke="#222" stroke-width="0.7"/>
<line x1="339.6" y1="231.8" x2="341.4" y2="231.8" stroke="#222" stroke-width="0.7"/>
<line x1="36.9" y1="291.2" x2="318" y2="291.2" stroke="#222" stroke-width="1"/>
<path d="M321.3,291.2 L316.8,289.4 L316.8,293.0 Z" fill="#222"/>
<line x1="45.9" y1="284.5" x2="45.9" y2="291.2" stroke="#222" stroke-width="0.9"/>
<text x="45.9" y="302.2" font-size="7.5" text-anchor="middle" >0</text>
<line x1="108.2" y1="284.5" x2="108.2" y2="291.2" stroke="#222" stroke-width="0.9"/>
<text x="108.2" y="302.2" font-size="7.5" text-anchor="middle" >1</text>
<line x1="170.5" y1="284.5" x2="170.5" y2="291.2" stroke="#222" stroke-width="0.9"/>
<text x="170.5" y="302.2" font-size="7.5" text-anchor="middle" >2</text>
<line x1="232.8" y1="284.5" x2="232.8" y2="291.2" stroke="#222" stroke-width="0.9"/>
<text x="232.8" y="302.2" font-size="7.5" text-anchor="middle" >3</text>
<line x1="295.1" y1="284.5" x2="295.1" y2="291.2" stroke="#222" stroke-width="0.9"/>
<text x="295.1" y="302.2" font-size="7.5" text-anchor="middle" >4</text>
<text x="175.0" y="316.6" font-size="11.0" text-anchor="middle" >z-axis(*10<tspan font-size="6.5" dy="-4">-4</tspan><tspan dy="4">m)</tspan></text>
<text x="376.8" y="14.3" font-size="16.0" text-anchor="start" >(b)</text>
<polyline fill="none" stroke="#2b2b2b" stroke-width="1.20" stroke-linejoin="round" points="410.40,68.82 410.48,68.18 410.55,67.66 410.61,67.18 410.68,66.69 410.75,66.09 410.84,65.34 410.95,64.35 411.08,63.05 411.25,61.35 411.45,59.25 411.67,56.88 411.90,54.37 412.14,51.84 412.37,49.40 412.59,47.18 412.78,45.30 412.96,43.73 413.12,42.32 413.27,41.05 413.41,39.92 413.55,38.91 413.69,38.00 413.83,37.18 413.98,36.43 414.13,35.76 414.28,35.18 414.43,34.70 414.58,34.32 414.74,34.04 414.88,33.85 415.03,33.76 415.17,33.77 415.30,33.82 415.41,33.89 415.51,34.02 415.61,34.27 415.72,34.67 415.84,35.29 416.00,36.15 416.19,37.32 416.42,38.86 416.68,40.78 416.97,42.97 417.28,45.36 417.60,47.85 417.92,50.36 418.25,52.79 418.58,55.07 418.91,57.29 419.25,59.58 419.60,61.90 419.96,64.19 420.32,66.39 420.66,68.45 420.99,70.31 421.30,71.93 421.59,73.24 421.85,74.28 422.09,75.11 422.32,75.81 422.56,76.44 422.80,77.06 423.06,77.76 423.35,78.58 423.65,79.53 423.97,80.53 424.30,81.56 424.65,82.60 425.00,83.65 425.35,84.67 425.71,85.65 426.07,86.57 426.44,87.45 426.81,88.30 427.18,89.13 427.56,89.92 427.95,90.69 428.34,91.43 428.74,92.12 429.14,92.78 429.53,93.39 429.90,93.96 430.27,94.48 430.65,94.97 431.05,95.44 431.49,95.89 431.99,96.33 432.55,96.77 433.16,97.21 433.82,97.64 434.51,98.06 435.25,98.47 436.03,98.85 436.87,99.22 437.75,99.56 438.68,99.88 439.65,100.17 440.66,100.45 441.71,100.70 442.81,100.93 443.97,101.14 445.19,101.33 446.49,101.50 447.88,101.65 448.41,101.78 447.70,101.88 446.52,101.96 445.68,102.02 445.97,102.07 448.17,102.11 453.09,102.15 461.50,102.19 473.99,102.22 490.01,102.25 508.77,102.27 529.43,102.28 551.19,102.29 573.22,102.30 594.70,102.31 614.82,102.32"/>
<polyline fill="none" stroke="#e04545" stroke-width="1.20" stroke-linejoin="round" points="410.91,140.70 410.93,137.90 410.95,135.05 410.97,132.19 411.00,129.33 411.02,126.51 411.04,123.75 411.06,121.08 411.08,118.51 411.09,116.08 411.07,113.77 411.04,111.53 411.02,109.36 411.01,107.23 411.04,105.10 411.12,102.96 411.25,100.77 411.45,98.57 411.69,96.40 411.98,94.25 412.31,92.09 412.66,89.90 413.03,87.67 413.41,85.39 413.81,83.02 414.22,80.55 414.68,77.98 415.15,75.35 415.65,72.68 416.15,69.99 416.64,67.33 417.11,64.71 417.55,62.17 417.98,59.63 418.39,57.05 418.80,54.47 419.19,51.93 419.58,49.48 419.94,47.16 420.29,45.01 420.62,43.09 420.93,41.37 421.22,39.83 421.49,38.45 421.75,37.21 421.99,36.09 422.23,35.08 422.45,34.16 422.67,33.32 422.87,32.58 423.05,31.97 423.23,31.46 423.39,31.05 423.55,30.73 423.70,30.50 423.86,30.33 424.03,30.22 424.19,30.14 424.35,30.10 424.51,30.12 424.67,30.22 424.83,30.43 425.00,30.78 425.19,31.29 425.39,31.99 425.62,32.93 425.86,34.11 426.12,35.47 426.39,36.96 426.66,38.52 426.93,40.09 427.19,41.64 427.44,43.09 427.66,44.44 427.87,45.76 428.07,47.05 428.27,48.35 428.46,49.69 428.67,51.09 428.90,52.58 429.14,54.18 429.40,55.94 429.67,57.87 429.95,59.91 430.25,62.00 430.55,64.08 430.86,66.10 431.19,67.99 431.52,69.71 431.86,71.27 432.18,72.74 432.50,74.12 432.84,75.42 433.21,76.65 433.62,77.80 434.07,78.89 434.59,79.91 435.17,80.86 435.81,81.72 436.49,82.50 437.21,83.21 437.97,83.88 438.75,84.50 439.56,85.10 440.38,85.68 441.16,86.24 441.86,86.77 442.56,87.25 443.30,87.71 444.14,88.13 445.15,88.52 446.37,88.89 447.88,89.23 449.64,89.55 451.61,89.83 453.76,90.08 456.10,90.30 458.59,90.51 461.24,90.69 464.04,90.85 466.96,91.01 469.46,91.14 471.32,91.25 473.01,91.33 475.01,91.40 477.79,91.46 481.82,91.50 487.60,91.54 495.57,91.58 506.14,91.61 519.01,91.63 533.65,91.64 549.53,91.64 566.12,91.63 582.88,91.63 599.29,91.62 614.82,91.63"/>
<polyline fill="none" stroke="#2060e0" stroke-width="1.20" stroke-linejoin="round" points="413.13,140.70 413.32,140.06 413.48,139.47 413.63,138.90 413.79,138.32 413.97,137.70 414.19,137.02 414.47,136.25 414.83,135.38 415.26,134.40 415.74,133.37 416.27,132.27 416.85,131.10 417.48,129.86 418.14,128.53 418.85,127.12 419.60,125.61 420.42,123.97 421.32,122.18 422.28,120.27 423.28,118.29 424.29,116.29 425.28,114.30 426.22,112.37 427.09,110.53 427.89,108.81 428.62,107.17 429.32,105.58 429.99,104.01 430.66,102.42 431.36,100.78 432.09,99.06 432.89,97.22 433.75,95.26 434.67,93.23 435.63,91.14 436.61,88.98 437.60,86.77 438.56,84.52 439.50,82.23 440.38,79.91 441.23,77.52 442.08,75.04 442.92,72.48 443.72,69.90 444.50,67.32 445.23,64.78 445.90,62.31 446.51,59.95 447.05,57.66 447.53,55.41 447.95,53.20 448.32,51.04 448.67,48.95 448.98,46.92 449.28,44.96 449.58,43.09 449.86,41.26 450.12,39.45 450.35,37.69 450.56,36.01 450.75,34.44 450.94,33.01 451.11,31.74 451.28,30.66 451.44,29.79 451.58,29.09 451.70,28.54 451.82,28.14 451.93,27.86 452.04,27.68 452.17,27.58 452.31,27.56 452.46,27.58 452.61,27.68 452.76,27.86 452.92,28.14 453.09,28.54 453.27,29.09 453.46,29.79 453.67,30.66 453.88,31.73 454.10,32.98 454.33,34.39 454.56,35.93 454.82,37.60 455.09,39.36 455.39,41.19 455.71,43.09 456.07,45.14 456.45,47.41 456.86,49.82 457.29,52.29 457.73,54.75 458.19,57.12 458.65,59.33 459.12,61.28 459.60,63.01 460.09,64.61 460.59,66.08 461.10,67.43 461.62,68.69 462.15,69.85 462.68,70.92 463.21,71.93 463.72,72.82 464.22,73.58 464.71,74.24 465.21,74.81 465.74,75.33 466.31,75.82 466.93,76.30 467.64,76.81 468.39,77.33 469.15,77.83 469.95,78.31 470.81,78.78 471.74,79.21 472.76,79.63 473.88,80.01 475.13,80.36 476.47,80.67 477.87,80.95 479.35,81.20 480.92,81.42 482.63,81.63 484.49,81.81 486.53,81.97 488.76,82.13 490.72,82.27 492.17,82.39 493.51,82.48 495.15,82.56 497.48,82.63 500.90,82.69 505.81,82.74 512.61,82.80 521.64,82.85 532.65,82.88 545.20,82.91 558.82,82.94 573.05,82.96 587.43,82.97 601.51,82.99 614.82,83.02"/>
<polyline fill="none" stroke="#35a355" stroke-width="1.20" stroke-linejoin="round" points="410.40,118.51 410.82,120.55 411.24,122.71 411.66,124.92 412.08,127.11 412.50,129.20 412.93,131.10 413.36,132.74 413.81,134.04 414.22,135.03 414.58,135.76 414.93,136.28 415.30,136.60 415.71,136.73 416.20,136.71 416.81,136.54 417.55,136.26 418.47,135.83 419.53,135.20 420.71,134.40 421.96,133.46 423.26,132.40 424.57,131.24 425.86,130.01 427.09,128.72 428.28,127.34 429.44,125.83 430.60,124.21 431.76,122.51 432.93,120.75 434.13,118.97 435.36,117.18 436.63,115.41 437.98,113.61 439.40,111.72 440.88,109.78 442.36,107.84 443.84,105.93 445.27,104.08 446.62,102.35 447.88,100.77 449.01,99.36 450.04,98.12 451.01,96.98 451.92,95.91 452.82,94.87 453.74,93.81 454.69,92.68 455.71,91.45 456.81,90.17 457.95,88.92 459.12,87.66 460.31,86.35 461.50,84.95 462.68,83.44 463.82,81.77 464.91,79.91 465.99,77.81 467.07,75.49 468.14,73.00 469.19,70.40 470.19,67.74 471.13,65.07 471.99,62.46 472.75,59.95 473.39,57.46 473.94,54.92 474.40,52.36 474.79,49.82 475.15,47.37 475.48,45.02 475.81,42.84 476.16,40.87 476.51,39.03 476.84,37.27 477.15,35.61 477.45,34.10 477.74,32.77 478.02,31.65 478.28,30.79 478.54,30.22 478.78,29.95 479.00,29.97 479.20,30.23 479.39,30.72 479.58,31.39 479.79,32.22 480.00,33.17 480.24,34.21 480.50,35.39 480.74,36.74 481.00,38.25 481.27,39.90 481.55,41.67 481.87,43.54 482.23,45.50 482.63,47.52 483.08,49.75 483.58,52.26 484.11,54.94 484.67,57.67 485.26,60.36 485.85,62.89 486.46,65.16 487.06,67.05 487.65,68.55 488.25,69.78 488.85,70.77 489.46,71.59 490.10,72.29 490.75,72.91 491.44,73.51 492.17,74.14 492.89,74.77 493.59,75.32 494.30,75.81 495.04,76.25 495.85,76.65 496.76,77.02 497.79,77.36 498.98,77.69 500.22,78.01 501.43,78.29 502.70,78.54 504.09,78.76 505.70,78.96 507.61,79.15 509.88,79.31 512.61,79.47 515.66,79.61 518.89,79.72 522.39,79.82 526.24,79.90 530.51,79.97 535.29,80.03 540.65,80.08 546.68,80.13 553.57,80.18 561.32,80.22 569.74,80.25 578.62,80.27 587.77,80.29 596.99,80.31 606.07,80.33 614.82,80.36"/>
<polyline fill="none" stroke="#a060e8" stroke-width="1.20" stroke-linejoin="round" points="410.40,114.08 410.90,116.67 411.40,119.40 411.89,122.19 412.38,124.95 412.88,127.60 413.39,130.05 413.93,132.23 414.49,134.04 415.07,135.54 415.68,136.80 416.30,137.83 416.94,138.65 417.59,139.25 418.25,139.64 418.92,139.83 419.60,139.81 420.24,139.52 420.82,138.90 421.39,138.04 421.98,136.98 422.64,135.81 423.40,134.59 424.30,133.39 425.39,132.27 426.67,131.21 428.10,130.12 429.66,129.00 431.33,127.86 433.09,126.69 434.92,125.48 436.79,124.24 438.68,122.95 440.64,121.62 442.72,120.24 444.88,118.83 447.09,117.38 449.31,115.90 451.51,114.41 453.66,112.92 455.71,111.42 457.68,109.92 459.60,108.43 461.47,106.94 463.31,105.43 465.15,103.89 466.98,102.31 468.83,100.68 470.70,98.99 472.68,97.24 474.76,95.43 476.89,93.57 479.01,91.67 481.04,89.75 482.94,87.80 484.62,85.85 486.04,83.91 487.14,82.01 487.97,80.18 488.60,78.37 489.08,76.53 489.48,74.61 489.86,72.57 490.28,70.36 490.81,67.93 491.41,65.16 492.04,62.03 492.67,58.68 493.30,55.23 493.91,51.82 494.50,48.57 495.06,45.62 495.57,43.09 496.05,40.88 496.49,38.83 496.89,36.97 497.28,35.32 497.64,33.93 497.99,32.81 498.32,32.01 498.64,31.55 498.95,31.55 499.24,32.01 499.51,32.85 499.77,33.93 500.01,35.17 500.25,36.44 500.47,37.63 500.69,38.65 500.87,39.51 501.03,40.34 501.16,41.16 501.28,41.98 501.42,42.83 501.58,43.72 501.78,44.69 502.05,45.75 502.37,46.91 502.75,48.15 503.16,49.46 503.60,50.82 504.06,52.22 504.53,53.62 505.00,55.02 505.46,56.40 505.91,57.80 506.38,59.27 506.85,60.78 507.33,62.28 507.81,63.73 508.28,65.11 508.75,66.38 509.20,67.49 509.62,68.44 510.00,69.27 510.36,69.99 510.71,70.62 511.10,71.20 511.53,71.74 512.02,72.27 512.61,72.81 513.25,73.35 513.91,73.87 514.62,74.35 515.38,74.81 516.22,75.24 517.16,75.64 518.22,76.02 519.42,76.36 520.34,76.68 520.75,76.96 521.04,77.22 521.55,77.45 522.65,77.65 524.69,77.83 528.04,77.99 533.05,78.14 540.01,78.26 548.70,78.34 558.72,78.40 569.68,78.44 581.16,78.47 592.78,78.50 604.13,78.54 614.82,78.58"/>
<polyline fill="none" stroke="#c89424" stroke-width="1.20" stroke-linejoin="round" points="410.40,109.64 411.01,112.81 411.59,116.16 412.15,119.57 412.72,122.95 413.32,126.19 413.97,129.19 414.69,131.84 415.51,134.04 416.45,135.82 417.52,137.27 418.66,138.43 419.85,139.31 421.06,139.96 422.23,140.39 423.35,140.63 424.37,140.70 425.22,140.52 425.91,140.01 426.51,139.26 427.09,138.32 427.75,137.26 428.54,136.15 429.54,135.05 430.84,134.04 432.45,133.10 434.31,132.16 436.37,131.19 438.57,130.19 440.88,129.15 443.23,128.04 445.58,126.87 447.88,125.61 450.19,124.24 452.60,122.76 455.06,121.19 457.54,119.57 460.01,117.93 462.43,116.30 464.75,114.71 466.96,113.19 469.07,111.73 471.16,110.27 473.19,108.84 475.15,107.42 477.03,106.04 478.80,104.68 480.44,103.37 481.95,102.10 483.26,100.89 484.38,99.75 485.35,98.67 486.23,97.61 487.06,96.55 487.90,95.48 488.79,94.38 489.78,93.22 490.86,92.05 491.96,90.88 493.09,89.71 494.23,88.51 495.40,87.26 496.58,85.94 497.77,84.54 498.98,83.02 500.25,81.40 501.59,79.72 502.96,77.95 504.35,76.11 505.70,74.19 506.98,72.19 508.16,70.11 509.20,67.93 510.10,65.60 510.90,63.08 511.60,60.44 512.23,57.73 512.80,55.02 513.32,52.38 513.82,49.86 514.31,47.52 514.77,45.24 515.18,42.88 515.54,40.54 515.87,38.32 516.17,36.30 516.46,34.59 516.75,33.27 517.04,32.44 517.32,32.14 517.59,32.32 517.84,32.88 518.08,33.74 518.32,34.83 518.56,36.07 518.82,37.37 519.08,38.65 519.36,40.05 519.64,41.70 519.92,43.53 520.21,45.44 520.51,47.37 520.82,49.23 521.14,50.93 521.47,52.40 521.82,53.66 522.18,54.78 522.55,55.78 522.94,56.70 523.33,57.55 523.73,58.36 524.13,59.15 524.53,59.95 524.93,60.72 525.32,61.43 525.71,62.11 526.11,62.75 526.52,63.37 526.96,63.99 527.43,64.62 527.94,65.27 528.47,65.94 528.99,66.62 529.52,67.31 530.09,67.99 530.71,68.66 531.40,69.33 532.17,69.97 533.05,70.60 534.03,71.21 535.09,71.82 536.23,72.42 537.44,73.01 538.72,73.57 540.06,74.10 541.47,74.59 542.93,75.03 544.18,75.43 545.11,75.78 545.94,76.10 546.91,76.38 548.26,76.64 550.22,76.86 553.02,77.07 556.90,77.25 562.04,77.40 568.29,77.51 575.40,77.59 583.11,77.64 591.17,77.68 599.31,77.72 607.28,77.77 614.82,77.83"/>
<polyline fill="none" stroke="#30c8c8" stroke-width="1.20" stroke-linejoin="round" points="410.40,102.99 410.51,102.97 410.59,102.70 410.66,102.33 410.74,102.01 410.84,101.90 410.97,102.14 411.16,102.90 411.42,104.32 411.74,106.66 412.11,109.89 412.52,113.73 412.98,117.88 413.47,122.05 414.00,125.96 414.57,129.31 415.17,131.83 415.82,133.48 416.54,134.56 417.31,135.18 418.11,135.49 418.92,135.61 419.74,135.69 420.54,135.87 421.30,136.26 422.02,136.91 422.69,137.69 423.33,138.53 423.99,139.34 424.66,140.04 425.39,140.56 426.19,140.80 427.09,140.70 428.03,140.20 428.95,139.37 429.90,138.27 430.93,136.98 432.07,135.58 433.37,134.13 434.88,132.70 436.63,131.38 438.71,130.11 441.08,128.78 443.68,127.43 446.43,126.06 449.25,124.69 452.08,123.33 454.82,122.01 457.42,120.73 459.92,119.50 462.44,118.29 464.95,117.10 467.42,115.94 469.84,114.79 472.17,113.65 474.40,112.53 476.50,111.42 478.39,110.34 480.08,109.32 481.63,108.33 483.12,107.34 484.61,106.34 486.17,105.29 487.87,104.18 489.78,102.99 491.94,101.72 494.29,100.42 496.78,99.08 499.34,97.69 501.93,96.24 504.47,94.72 506.91,93.12 509.20,91.45 511.42,89.72 513.64,87.94 515.83,86.12 517.95,84.21 519.96,82.21 521.81,80.10 523.46,77.86 524.88,75.48 526.00,72.86 526.87,70.01 527.52,67.00 528.03,63.88 528.44,60.75 528.80,57.67 529.19,54.72 529.64,51.96 530.15,49.23 530.63,46.40 531.10,43.56 531.54,40.84 531.96,38.34 532.35,36.18 532.72,34.47 533.05,33.32 533.35,32.82 533.60,32.89 533.82,33.41 534.01,34.27 534.19,35.34 534.37,36.51 534.55,37.65 534.76,38.65 534.97,39.58 535.17,40.59 535.38,41.66 535.59,42.78 535.80,43.94 536.01,45.13 536.23,46.33 536.46,47.52 536.69,48.76 536.92,50.06 537.16,51.41 537.40,52.76 537.65,54.10 537.91,55.40 538.20,56.61 538.50,57.73 538.82,58.74 539.14,59.68 539.47,60.56 539.82,61.39 540.20,62.17 540.61,62.93 541.07,63.66 541.57,64.38 542.13,65.08 542.74,65.73 543.39,66.34 544.08,66.93 544.80,67.51 545.53,68.09 546.27,68.67 547.02,69.26 547.76,69.89 548.51,70.54 549.27,71.19 550.04,71.84 550.85,72.48 551.68,73.08 552.56,73.64 553.49,74.14 554.42,74.60 555.32,75.03 556.22,75.42 557.18,75.77 558.23,76.09 559.41,76.37 560.77,76.61 562.35,76.81 564.09,76.95 565.91,77.02 567.86,77.05 569.98,77.04 572.28,77.01 574.83,76.98 577.64,76.95 580.75,76.94 584.26,76.95 588.17,76.95 592.38,76.95 596.81,76.95 601.36,76.95 605.94,76.94 610.45,76.94 614.82,76.94"/>
<rect x="563.5" y="8.2" width="48.8" height="87.5" fill="#fff"/>
<line x1="564.7" y1="17.7" x2="585.8" y2="17.7" stroke="#2b2b2b" stroke-width="1.2"/>
<text x="587.8" y="20.9" font-size="9.4" text-anchor="start" >10ns</text>
<line x1="564.7" y1="29.1" x2="585.8" y2="29.1" stroke="#e04545" stroke-width="1.2"/>
<text x="587.8" y="32.3" font-size="9.4" text-anchor="start" >20ns</text>
<line x1="564.7" y1="40.5" x2="585.8" y2="40.5" stroke="#2060e0" stroke-width="1.2"/>
<text x="587.8" y="43.7" font-size="9.4" text-anchor="start" >40ns</text>
<line x1="564.7" y1="51.9" x2="585.8" y2="51.9" stroke="#35a355" stroke-width="1.2"/>
<text x="587.8" y="55.1" font-size="9.4" text-anchor="start" >60ns</text>
<line x1="564.7" y1="63.3" x2="585.8" y2="63.3" stroke="#a060e8" stroke-width="1.2"/>
<text x="587.8" y="66.5" font-size="9.4" text-anchor="start" >80ns</text>
<line x1="564.7" y1="74.7" x2="585.8" y2="74.7" stroke="#c89424" stroke-width="1.2"/>
<text x="587.8" y="77.9" font-size="9.4" text-anchor="start" >100ns</text>
<line x1="564.7" y1="86.1" x2="585.8" y2="86.1" stroke="#30c8c8" stroke-width="1.2"/>
<text x="587.8" y="89.3" font-size="9.4" text-anchor="start" >120ns</text>
<rect x="410.4" y="7.6" width="204.4" height="133.1" fill="none" stroke="#333" stroke-width="0.9"/>
<text x="410.4" y="151.2" font-size="8.0" text-anchor="middle" >0</text>
<line x1="444.5" y1="137.7" x2="444.5" y2="140.7" stroke="#333" stroke-width="0.8"/>
<text x="444.5" y="151.2" font-size="8.0" text-anchor="middle" >1</text>
<line x1="478.5" y1="137.7" x2="478.5" y2="140.7" stroke="#333" stroke-width="0.8"/>
<text x="478.5" y="151.2" font-size="8.0" text-anchor="middle" >2</text>
<line x1="512.6" y1="137.7" x2="512.6" y2="140.7" stroke="#333" stroke-width="0.8"/>
<text x="512.6" y="151.2" font-size="8.0" text-anchor="middle" >3</text>
<line x1="546.7" y1="137.7" x2="546.7" y2="140.7" stroke="#333" stroke-width="0.8"/>
<text x="546.7" y="151.2" font-size="8.0" text-anchor="middle" >4</text>
<line x1="580.8" y1="137.7" x2="580.8" y2="140.7" stroke="#333" stroke-width="0.8"/>
<text x="580.8" y="151.2" font-size="8.0" text-anchor="middle" >5</text>
<text x="614.8" y="151.2" font-size="8.0" text-anchor="middle" >6</text>
<line x1="410.4" y1="118.5" x2="413" y2="118.5" stroke="#333" stroke-width="0.8"/>
<line x1="410.4" y1="96.3" x2="413" y2="96.3" stroke="#333" stroke-width="0.8"/>
<line x1="410.4" y1="74.1" x2="413" y2="74.1" stroke="#333" stroke-width="0.8"/>
<line x1="410.4" y1="52.0" x2="413" y2="52.0" stroke="#333" stroke-width="0.8"/>
<line x1="410.4" y1="29.8" x2="413" y2="29.8" stroke="#333" stroke-width="0.8"/>
<text x="404.5" y="143.5" font-size="8.0" text-anchor="middle" >0</text>
<text x="404.5" y="99.1" font-size="8.0" text-anchor="middle" >1</text>
<text x="404.5" y="54.8" font-size="8.0" text-anchor="middle" >2</text>
<text x="404.5" y="10.4" font-size="8.0" text-anchor="middle" >3</text>
<text x="513.5" y="163.2" font-size="10.5" text-anchor="middle" >z-axis(*10<tspan font-size="6" dy="-3.5">-4</tspan><tspan dy="3.5">m)</tspan></text>
<g transform="translate(400.2,106.6) rotate(-90)"><text x="0.0" y="0.0" font-size="12.2" text-anchor="start" >|<tspan font-style="italic">E</tspan><tspan font-size="8" dy="2" font-style="italic">z</tspan><tspan dy="-2">|(*10</tspan><tspan font-size="8" dy="-4.5">5</tspan><tspan dy="4.5">V/m)</tspan></text><path d="M2.6,-11.2 L13.6,-11.2 M11.8,-12.3 L13.8,-11.2 L11.8,-10.1" stroke="#222" stroke-width="0.8" fill="none"/></g>
<text x="379.0" y="168.5" font-size="17.4" text-anchor="start" >(c)</text>
<polyline fill="none" stroke="#2b2b2b" stroke-width="1.20" stroke-linejoin="round" points="406.40,222.46 408.87,223.63 411.33,237.06 412.56,276.31 416.26,288.44 422.84,289.09 611.90,289.09"/>
<polyline fill="none" stroke="#e04545" stroke-width="1.20" stroke-linejoin="round" points="406.40,235.76 410.10,234.58 412.98,230.02 415.85,218.81 419.55,214.24 421.61,230.02 427.36,289.09 611.90,289.09"/>
<polyline fill="none" stroke="#2060e0" stroke-width="1.20" stroke-linejoin="round" points="406.40,254.14 408.87,253.88 413.80,246.97 419.96,232.24 421.61,229.50 428.18,218.28 431.47,214.50 444.62,197.68 448.32,192.20 452.84,190.90 456.13,180.86 458.60,240.06 459.83,264.45 464.35,288.70 611.90,288.96"/>
<polyline fill="none" stroke="#35a355" stroke-width="1.20" stroke-linejoin="round" points="406.40,261.71 408.87,261.32 415.03,255.45 421.20,243.06 424.48,236.54 429.83,224.80 437.22,211.76 446.68,201.33 455.72,196.12 474.21,191.55 479.97,188.94 486.13,182.95 490.24,240.06 494.35,288.70 611.90,288.96"/>
<polyline fill="none" stroke="#a060e8" stroke-width="1.20" stroke-linejoin="round" points="406.40,264.18 408.87,263.92 415.03,258.06 421.20,245.67 429.83,227.41 437.22,215.02 446.68,204.59 455.72,198.72 468.05,194.81 488.60,192.46 500.52,190.90 506.68,191.94 511.62,182.55 515.31,240.06 521.07,288.70 611.90,288.96"/>
<polyline fill="none" stroke="#c89424" stroke-width="1.20" stroke-linejoin="round" points="406.40,265.75 408.87,265.49 415.03,260.01 421.20,247.62 429.83,230.02 437.22,216.98 446.68,206.55 455.72,200.03 468.05,195.46 488.60,193.25 509.15,192.86 523.12,192.60 528.88,194.94 533.81,187.25 537.10,240.06 542.85,288.70 611.90,288.96"/>
<polyline fill="none" stroke="#30c8c8" stroke-width="1.20" stroke-linejoin="round" points="406.40,267.71 408.87,267.44 415.03,261.97 421.20,249.58 429.83,231.98 437.22,218.94 446.68,208.50 455.72,201.33 468.05,196.77 488.60,194.16 509.15,193.51 529.70,194.55 536.28,197.16 542.44,193.64 546.96,197.16 551.07,189.07 556.41,240.06 558.88,288.70 611.90,288.96"/>
<rect x="563" y="172" width="49" height="84" fill="#fff"/>
<line x1="563.9" y1="180.4" x2="584.6" y2="180.4" stroke="#2b2b2b" stroke-width="1.2"/>
<text x="586.9" y="183.6" font-size="9.4" text-anchor="start" >10ns</text>
<line x1="563.9" y1="191.8" x2="584.6" y2="191.8" stroke="#e04545" stroke-width="1.2"/>
<text x="586.9" y="195.0" font-size="9.4" text-anchor="start" >20ns</text>
<line x1="563.9" y1="203.3" x2="584.6" y2="203.3" stroke="#2060e0" stroke-width="1.2"/>
<text x="586.9" y="206.5" font-size="9.4" text-anchor="start" >40ns</text>
<line x1="563.9" y1="214.8" x2="584.6" y2="214.8" stroke="#35a355" stroke-width="1.2"/>
<text x="586.9" y="217.9" font-size="9.4" text-anchor="start" >60ns</text>
<line x1="563.9" y1="226.2" x2="584.6" y2="226.2" stroke="#a060e8" stroke-width="1.2"/>
<text x="586.9" y="229.4" font-size="9.4" text-anchor="start" >80ns</text>
<line x1="563.9" y1="237.7" x2="584.6" y2="237.7" stroke="#c89424" stroke-width="1.2"/>
<text x="586.9" y="240.8" font-size="9.4" text-anchor="start" >100ns</text>
<line x1="563.9" y1="249.1" x2="584.6" y2="249.1" stroke="#30c8c8" stroke-width="1.2"/>
<text x="586.9" y="252.3" font-size="9.4" text-anchor="start" >120ns</text>
<rect x="406.4" y="171.4" width="205.9" height="129.8" fill="none" stroke="#333" stroke-width="0.9"/>
<text x="406.4" y="312.2" font-size="8.0" text-anchor="middle" >0</text>
<line x1="447.5" y1="298.2" x2="447.5" y2="301.2" stroke="#333" stroke-width="0.8"/>
<text x="447.5" y="312.2" font-size="8.0" text-anchor="middle" >1</text>
<line x1="488.6" y1="298.2" x2="488.6" y2="301.2" stroke="#333" stroke-width="0.8"/>
<text x="488.6" y="312.2" font-size="8.0" text-anchor="middle" >2</text>
<line x1="529.7" y1="298.2" x2="529.7" y2="301.2" stroke="#333" stroke-width="0.8"/>
<text x="529.7" y="312.2" font-size="8.0" text-anchor="middle" >3</text>
<line x1="570.8" y1="298.2" x2="570.8" y2="301.2" stroke="#333" stroke-width="0.8"/>
<text x="570.8" y="312.2" font-size="8.0" text-anchor="middle" >4</text>
<text x="611.9" y="312.2" font-size="8.0" text-anchor="middle" >5</text>
<line x1="406.4" y1="288.7" x2="409" y2="288.7" stroke="#333" stroke-width="0.8"/>
<text x="400.7" y="291.5" font-size="8.0" text-anchor="middle" >0</text>
<line x1="406.4" y1="262.6" x2="409" y2="262.6" stroke="#333" stroke-width="0.8"/>
<text x="400.7" y="265.4" font-size="8.0" text-anchor="middle" >2</text>
<line x1="406.4" y1="236.5" x2="409" y2="236.5" stroke="#333" stroke-width="0.8"/>
<text x="400.7" y="239.3" font-size="8.0" text-anchor="middle" >4</text>
<line x1="406.4" y1="210.5" x2="409" y2="210.5" stroke="#333" stroke-width="0.8"/>
<text x="400.7" y="213.3" font-size="8.0" text-anchor="middle" >6</text>
<line x1="406.4" y1="184.4" x2="409" y2="184.4" stroke="#333" stroke-width="0.8"/>
<text x="400.7" y="187.2" font-size="8.0" text-anchor="middle" >8</text>
<text x="509.0" y="323.5" font-size="10.5" text-anchor="middle" >z-axis(*10<tspan font-size="6" dy="-3.5">-4</tspan><tspan dy="3.5">m)</tspan></text>
<g transform="translate(391.5,266) rotate(-90)"><text x="0.0" y="0.0" font-size="11.2" text-anchor="start" >ρ<tspan font-size="7.3" dy="2">S2</tspan><tspan dy="-2">(*10</tspan><tspan font-size="7.3" dy="-4.5">2</tspan><tspan dy="4.5">C/m</tspan><tspan font-size="7.3" dy="-4.5">3</tspan><tspan dy="4.5">)</tspan></text></g>
</svg>
</body></html>
